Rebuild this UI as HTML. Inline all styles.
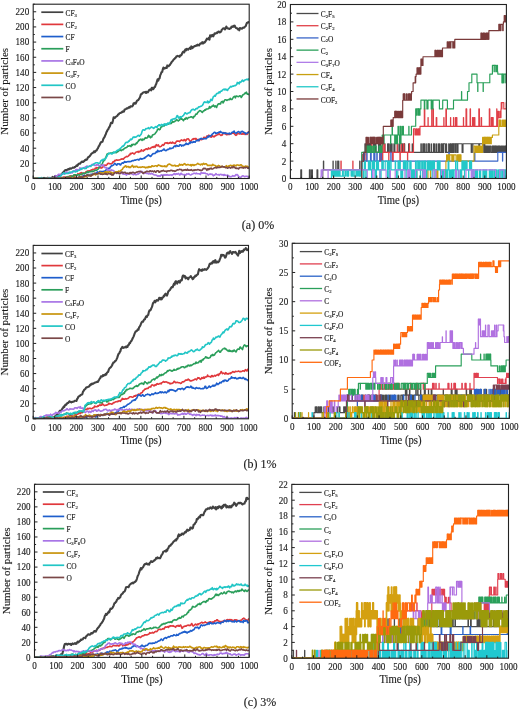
<!DOCTYPE html>
<html><head><meta charset="utf-8"><style>
html,body{margin:0;padding:0;background:#fff;width:520px;height:710px;overflow:hidden;}
svg{display:block;}
text{font-family:"Liberation Serif", "Times New Roman", serif;fill:#1a1a1a;stroke:#1a1a1a;stroke-width:0.14px;}
</style></head><body>
<svg width="520" height="710" viewBox="0 0 520 710">
<svg x="33.2" y="2.2" width="216" height="176.3" viewBox="33.2 2.2 216 176.3" overflow="hidden">
<path d="M33.2 178.5l.6-.2 .7 0 .6 .2 .7-.2 .6 0 .7 .1 .6-.2 .7 0 .6 0 .7 0 .6-.1 .7 .2 .6 0 .7 0 .6-.2 .7 0 .6 .1 .7 .1 .6-.1 .7-.1 .6 0 .7-.3 .6-.1 .7 .6 .6 .2 .6-.2 .7 .2 .6-.3 .7-.3 .6-1 .7 .9 .6 .1 .7-1 .6-.2 .7-.4 .6 .2 .7 .5 .6-.7 .7-.5 .6 .2 .7-.3 .6-.7 .7-.3 .6-.8 .7-.7 .6-.7 .7-.4 .6-.9 .7-.9 .6-.2 .6 .3 .7-.7 .6 .1 .7-.7 .6 .4 .7-.9 .6-.2 .7 .4 .6-.3 .7-.5 .6-.5 .7 .2 .6 .1 .7-.7 .6-.2 .7-.8 .6-.8 .7 .5 .6-.8 .7-1.2 .6-.1 .7 .1 .6-.9 .7-.5 .6-.8 .6 0 .7 .4 .6-.6 .7-.4 .6-1 .7-.5 .6 .4 .7-.3 .6-1.5 .7-1 .6-.2 .7-.6 .6-.9 .7-.8 .6-1 .7-.4 .6-.4 .7-.3 .6-1.2 .7 .9 .6-.9 .7-.8 .6-.1 .7-1.5 .6-.8 .6-1.6 .7-.9 .6-1.3 .7-1.5 .6-.8 .7-.1 .6-.1 .7-2.6 .6-1.1 .7-.9 .6-1.6 .7-1.3 .6-2 .7-1.2 .6-1.3 .7-.7 .6-1.7 .7-.6 .6-1.9 .7-2.2 .6 .1 .7 .3 .6-2.4 .7-3.3 .6 .2 .6 .3 .7-1.2 .6 0 .7-.5 .6-.5 .7-1.2 .6-.3 .7-.8 .6-.4 .7 0 .6-.6 .7-.1 .6-.9 .7 .2 .6 0 .7-2 .6-.2 .7-.3 .6-.7 .7 .1 .6-.3 .7-.7 .6-.5 .7 .6 .6-1.2 .6 0 .7 .1 .6-.3 .7-.8 .6-2.2 .7 .5 .6-.9 .7 .9 .6-1.2 .7-1.7 .6-.4 .7-.1 .6-1 .7-1.2 .6-1.1 .7-2.4 .6-.6 .7-.3 .6-.9 .7-.2 .6-.3 .7-.1 .6-.3 .7 1.1 .6-1.3 .6 .2 .7 .4 .6-1.1 .7-1.3 .6-.3 .7 0 .6 .8 .7-2.5 .6-.1 .7 1.4 .6-.6 .7-1.5 .6-.2 .7-2 .6-1.2 .7-2.5 .6-1.9 .7 1.3 .6-1.9 .7-.3 .6-3 .7-1.5 .6-1.7 .7-.3 .6-2.6 .6-1.8 .7 1.2 .6-.7 .7 .2 .6-.7 .7 .4 .6-2.5 .7 .9 .6-.1 .7-.8 .6-.5 .7-1.1 .6-.9 .7-1.3 .6-.3 .7-1.1 .6-.8 .7-.5 .6-.9 .7-.3 .6-1.4 .7 0 .6-.4 .7 .3 .6 0 .6 .6 .7-1.5 .6 .1 .7-.6 .6-1.6 .7-1.3 .6-.4 .7 1 .6-1.9 .7-1.3 .6 1 .7-1.5 .6 .3 .7 .6 .6-.9 .7-.4 .6-.7 .7 1.2 .6-2.5 .7 .6 .6 1.1 .7-1.4 .6 0 .7-.7 .6 .1 .6-.3 .7-.6 .6 .5 .7-1.1 .6 .3 .7 .5 .6-.9 .7-1.1 .6-.2 .7 .3 .6-1.4 .7 1.3 .6-.2 .7-1.2 .6 .3 .7-1.2 .6-.9 .7-1.6 .6 .6 .7-.1 .6-1.2 .7 1.8 .6-4.4 .7 .8 .6 .4 .6-1.4 .7-.2 .6 1.4 .7-1.6 .6-1.3 .7 .3 .6-.2 .7-1 .6 .6 .7-1.1 .6-.5 .7 .3 .6 .7 .7-.8 .6 0 .7-2 .6-.5 .7-.8 .6 .1 .7-.1 .6 .9 .7-1 .6-1.7 .7 1 .6 .8 .6 0 .7 .3 .6 .3 .7-.6 .6-.1 .7-1.7 .6 .3 .7-.2 .6-.8 .7 .8 .6-1.1 .7 1.4 .6 1 .7 .3 .6-.1 .7 1.3 .6-.6 .7 1.4 .6-2.2 .7 .2 .6 .3 .7 .2 .6-.6 .7-.7 .6 .2 .6-.2 .7-1 .6-.4 .7-1.9 .6-1.5 .7 0 .6-.6 .7 1.2" fill="none" stroke="#424242" stroke-width="2.1" stroke-linejoin="round"/>
<path d="M33.2 178.5l.6 0 .7-.1 .6-.3 .7 .4 .6 0 .7 0 .6-.1 .7 .1 .6 0 .7 0 .6-.2 .7 0 .6 .1 .7 .1 .6-.3 .7 0 .6 .3 .7-.3 .6-.1 .7-.1 .6 .1 .7-.1 .6 .2 .7-.1 .6 .1 .6-.2 .7-.2 .6 .3 .7 0 .6-.1 .7-.2 .6-.1 .7 .4 .6-.2 .7-.1 .6-.3 .7 .5 .6 0 .7-.3 .6 .5 .7 .3 .6-.4 .7-.6 .6 .4 .7-.3 .6 0 .7-.6 .6 .3 .7-.3 .6 .7 .6-.1 .7-.1 .6-.8 .7-.2 .6 .3 .7-.5 .6-.4 .7 .1 .6 0 .7 0 .6 .5 .7-.6 .6-.4 .7 .2 .6-.8 .7 .5 .6-.2 .7-.2 .6-1.3 .7 .8 .6-.6 .7-.7 .6-.1 .7-.6 .6 .6 .6 .9 .7-.9 .6 .2 .7-.3 .6 .1 .7-1 .6-.6 .7 .3 .6-.7 .7-.1 .6-.1 .7-.1 .6-.1 .7-.5 .6-.3 .7 .1 .6-.7 .7 .3 .6-.3 .7-.4 .6-.8 .7 .4 .6-.9 .7 .1 .6 .2 .6 .3 .7-.6 .6-.1 .7 .4 .6 .2 .7-.3 .6-.2 .7-1.1 .6-.9 .7-.4 .6-.1 .7 .3 .6-.2 .7-.7 .6-1.1 .7-.2 .6 .4 .7 0 .6 .2 .7 .1 .6-.3 .7-.5 .6-1.2 .7 0 .6-.7 .6-.8 .7 .3 .6-.7 .7-.1 .6 .4 .7-.2 .6-.1 .7-.1 .6-.1 .7-.4 .6-.5 .7 .3 .6-.4 .7 .4 .6-.8 .7-.7 .6-.4 .7-.4 .6-.5 .7 .3 .6-.2 .7-.6 .6-.8 .7-.2 .6-1.5 .6 .5 .7-.5 .6-.5 .7 .3 .6 .5 .7 .3 .6-.6 .7-1 .6-.3 .7-.2 .6 0 .7-.6 .6 1 .7-.8 .6-.5 .7 .5 .6-1.7 .7 .8 .6 .3 .7 .2 .6-1.3 .7 .3 .6-.8 .7-.5 .6-.1 .6 .7 .7-.1 .6-1.4 .7 .8 .6 .1 .7-.3 .6-.9 .7-.2 .6-.5 .7 .6 .6-.8 .7-.4 .6 1 .7-1.3 .6-1.3 .7 .9 .6 .1 .7-.9 .6 1.1 .7 .9 .6 0 .7-.4 .6-.4 .7-.9 .6-.4 .6 .6 .7-.7 .6-1.3 .7-.4 .6-.2 .7 .4 .6-.4 .7 .9 .6-.5 .7 .1 .6-.7 .7-.1 .6 .8 .7-.3 .6-.8 .7 .8 .6 .1 .7 .1 .6 .5 .7-1.2 .6-1 .7-.4 .6 .1 .7 .2 .6-.2 .6 .5 .7-.8 .6-.6 .7-.3 .6 .6 .7 0 .6 .1 .7-1.1 .6 .2 .7 1.3 .6-.6 .7-1.3 .6-.1 .7-.2 .6 .3 .7 1.4 .6 .7 .7 0 .6-.7 .7-.7 .6-.7 .7 .2 .6-.8 .7 .3 .6 .4 .6-.8 .7 .6 .6 1.4 .7-.2 .6-.9 .7 1.4 .6-.9 .7-.6 .6 .3 .7 .2 .6-.6 .7-.3 .6-1.3 .7-.3 .6 .9 .7 .1 .6-.9 .7-1.3 .6 .1 .7 .1 .6-1 .7 .6 .6 .4 .7 .9 .6 0 .6-1.7 .7 1.1 .6-.2 .7 .6 .6-.5 .7-.8 .6 .1 .7-.5 .6-.4 .7-.1 .6-.9 .7 .1 .6 .6 .7 .6 .6 .4 .7-.7 .6 .1 .7-1.8 .6-.6 .7 .8 .6 .6 .7-.9 .6 1.6 .7 .1 .6-.8 .6 .6 .7 0 .6 0 .7-.7 .6-.1 .7-.2 .6-.3 .7 .1 .6-.6 .7 .8 .6 .8 .7 .7 .6 .4 .7-.5 .6-1.3 .7-.3 .6 .3 .7 .4 .6-.1 .7-.1 .6 0 .7 .5 .6-.3 .7-1.2 .6 1.3 .6-.5 .7 .9 .6-.9 .7 0 .6 .8 .7-.9 .6-1.6 .7 0" fill="none" stroke="#e0383c" stroke-width="1.6" stroke-linejoin="round"/>
<path d="M33.2 178.5l.6 0 .7 0 .6 0 .7 0 .6 0 .7 0 .6-.1 .7 .1 .6-.2 .7 .2 .6-.2 .7 .2 .6-.2 .7 .2 .6-.3 .7 0 .6-.3 .7 .3 .6 .1 .7-.2 .6 .4 .7 0 .6-.2 .7-.1 .6-.2 .6 .1 .7-.1 .6 .2 .7 .3 .6 0 .7 0 .6 0 .7 0 .6 0 .7 0 .6 0 .7-.1 .6 0 .7 0 .6 .1 .7-.5 .6 .2 .7-.4 .6-.2 .7 .1 .6 .2 .7 0 .6 .2 .7-.1 .6 0 .6-.2 .7-.1 .6-.3 .7 0 .6-.3 .7 .7 .6 .4 .7 .1 .6 .2 .7-.7 .6-.4 .7-.4 .6 .3 .7 .1 .6 .4 .7 .5 .6-.5 .7-.3 .6 .3 .7-.6 .6 .7 .7-.4 .6-.1 .7-.2 .6 .1 .6-1 .7-.4 .6-.6 .7 0 .6 .6 .7-.1 .6 .3 .7-.7 .6-.8 .7-.2 .6 .3 .7 0 .6-.3 .7 .5 .6-.5 .7-.4 .6 .1 .7-.1 .6-.4 .7 .1 .6 .1 .7-.8 .6-.3 .7-.9 .6 .6 .6 .6 .7-1 .6-.7 .7 .2 .6 .5 .7-.6 .6 .4 .7-.5 .6 .4 .7-.7 .6 .3 .7-.8 .6-1.4 .7-.1 .6-.8 .7 0 .6 0 .7 .1 .6-1.3 .7-.5 .6-1.2 .7 .4 .6-.3 .7-.5 .6-.8 .6-.8 .7 .7 .6 .6 .7 .6 .6-1.3 .7 0 .6 .1 .7-.2 .6 1 .7 .2 .6-1.3 .7-.6 .6-.3 .7 .4 .6-.7 .7-1 .6 .8 .7-.2 .6 .1 .7-.5 .6-.1 .7-.1 .6 .3 .7-.3 .6 .1 .6-.2 .7-.3 .6-.5 .7 .2 .6 0 .7-.8 .6 .2 .7 0 .6-.5 .7-.1 .6-.1 .7-.1 .6 .7 .7-.6 .6-.9 .7-.2 .6 .8 .7-.5 .6 .2 .7-.4 .6-.5 .7 .3 .6-1.2 .7-.1 .6-.6 .6-.4 .7-.7 .6-.5 .7 1.1 .6-.3 .7 .9 .6-.4 .7-1 .6-.8 .7-.8 .6 .3 .7-.2 .6-.2 .7-.8 .6-.8 .7 .5 .6-2 .7 .7 .6 .6 .7-.4 .6-.3 .7-.2 .6 .4 .7-.9 .6 .1 .6-.8 .7-.5 .6 1.1 .7 .4 .6 .2 .7-.6 .6-.4 .7-.4 .6 .2 .7-.6 .6-.9 .7 .8 .6-.2 .7-.4 .6-.2 .7-.1 .6-1.2 .7-.6 .6-.2 .7 .8 .6-1.4 .7 .2 .6 .6 .7 .1 .6 .1 .6-1.5 .7 .1 .6 0 .7 1.3 .6-1 .7 .3 .6 .2 .7-1 .6 .2 .7-.9 .6-.8 .7 1.1 .6-.4 .7 .6 .6-.7 .7-1 .6 .7 .7-1.6 .6 .2 .7 .6 .6-.3 .7-.9 .6 .7 .7-.4 .6 .4 .6-1.3 .7-.2 .6 .1 .7-.9 .6 .8 .7-.2 .6-1.5 .7 .2 .6-.8 .7 .1 .6 .5 .7 0 .6-.3 .7-.1 .6 .1 .7-.1 .6 .2 .7-.9 .6-.9 .7-.9 .6 1 .7-1.2 .6-.3 .7 .5 .6-.7 .6-1 .7-.6 .6-.5 .7-.6 .6-.5 .7 .2 .6 1.2 .7-.2 .6-.7 .7 .2 .6-.5 .7-.4 .6 .3 .7-.9 .6 1.2 .7-.4 .6 .6 .7 .6 .6-.5 .7 .4 .6-.6 .7 .8 .6-.2 .7 .3 .6-.1 .6 0 .7 .4 .6-.8 .7 .7 .6 .2 .7-1 .6-.7 .7-.2 .6 0 .7-1.1 .6 1.4 .7 .6 .6 .5 .7-.9 .6-.2 .7-.6 .6-.3 .7 .6 .6 .7 .7 .5 .6-1.7 .7-.2 .6 0 .7 .6 .6 .3 .6 .3 .7 .1 .6 1.3 .7-.6 .6-.2 .7-.5 .6-.3 .7-.6" fill="none" stroke="#1e5ecc" stroke-width="1.6" stroke-linejoin="round"/>
<path d="M33.2 178.5l.6-.2 .7 .2 .6 0 .7-.1 .6 .1 .7 0 .6-.1 .7 .1 .6-.1 .7 .1 .6 0 .7 0 .6 0 .7 0 .6 0 .7 0 .6 0 .7-.5 .6 .2 .7 0 .6 0 .7 .1 .6 .1 .7-.1 .6-.2 .6-.1 .7-.1 .6 .3 .7 .1 .6-.4 .7 .2 .6-.1 .7-.1 .6-.1 .7 .4 .6 .1 .7 0 .6 0 .7 .2 .6 0 .7 0 .6-.2 .7-.1 .6-.5 .7 .4 .6-.7 .7 .4 .6 .3 .7 0 .6 0 .6-.6 .7-.7 .6 1 .7-.3 .6-.8 .7-.2 .6-.3 .7 .7 .6-.8 .7 .7 .6-.5 .7-.8 .6-.8 .7 .1 .6-.1 .7 .5 .6 .3 .7-.8 .6 0 .7 0 .6 .6 .7-.5 .6-.6 .7 .2 .6 0 .6-1.1 .7-.1 .6 .1 .7 .4 .6-.1 .7-.3 .6-1 .7 .3 .6-1.1 .7 .6 .6 0 .7-.6 .6 0 .7 .3 .6-.3 .7-.5 .6 .7 .7-.4 .6-.4 .7-.1 .6-.8 .7 .2 .6-.1 .7-.3 .6-.6 .6-.7 .7-1.6 .6-.1 .7-1.5 .6-.1 .7-.8 .6-1.1 .7-1.8 .6-.9 .7-.2 .6-1.7 .7-1.3 .6-1.2 .7-2.1 .6-.1 .7-.6 .6 .4 .7-.4 .6-.3 .7-.1 .6 0 .7 .4 .6-.8 .7 0 .6-.3 .6 .2 .7-.1 .6 .4 .7-.4 .6-.6 .7-.2 .6-.8 .7-.2 .6-.9 .7 .2 .6 .8 .7-.8 .6-.3 .7 .2 .6-.9 .7-.5 .6-.5 .7-.1 .6-.4 .7-.4 .6-1.2 .7 .5 .6-.2 .7-.5 .6 .7 .6 .3 .7-2.1 .6 .8 .7-1 .6 .1 .7-.1 .6 .5 .7-.5 .6-1.3 .7 .3 .6-1.2 .7-.6 .6-1.5 .7 .4 .6-.9 .7-.4 .6 .4 .7 .9 .6-1.4 .7 .7 .6-.1 .7-1.1 .6-.8 .7 .5 .6-.2 .6-.1 .7-1.1 .6-1.5 .7 1.6 .6-.8 .7 1.7 .6-.8 .7 0 .6-1.9 .7-.4 .6 0 .7-.5 .6-.4 .7-1 .6-.7 .7-1.2 .6-1.5 .7-.6 .6 .6 .7 .3 .6-.6 .7-1.8 .6-.4 .7-.3 .6-1 .6 .3 .7 .1 .6-1 .7-.2 .6-.1 .7-.6 .6 .1 .7 .1 .6-.2 .7-.8 .6-.3 .7 .6 .6-.2 .7-.9 .6-1.4 .7 1.1 .6-.5 .7 .1 .6-.7 .7-.3 .6-.9 .7 0 .6 .7 .7 .3 .6-.6 .6-.3 .7-1.6 .6-.6 .7 1.5 .6-.2 .7 .9 .6 .6 .7-1.2 .6-.7 .7 .5 .6-1.5 .7 .7 .6 .5 .7-1 .6-.4 .7 0 .6-.2 .7-.4 .6 0 .7-.1 .6 1 .7 .1 .6-1.5 .7 0 .6-1.1 .6-1.2 .7 .2 .6-.4 .7-1.6 .6-.2 .7-1 .6-.5 .7 .1 .6 .5 .7 .7 .6 .5 .7-.9 .6-.7 .7-.1 .6-.9 .7 .3 .6-1.1 .7 0 .6-.1 .7-.2 .6-.2 .7-2 .6 1.5 .7-.4 .6-1.1 .6-.5 .7 .4 .6-1.4 .7 1.1 .6 .7 .7-1 .6 .7 .7 1 .6-1.9 .7-1.1 .6-.8 .7 .3 .6-.5 .7 .5 .6-1.8 .7-.5 .6-.4 .7 1.6 .6-1.1 .7-1.3 .6-.7 .7-.1 .6 .4 .7 .3 .6-.5 .6-.3 .7-.1 .6 .2 .7-1.4 .6 1.2 .7-.3 .6 .2 .7-1.2 .6-1.1 .7-.6 .6-.1 .7 1.5 .6-1.8 .7 0 .6 .3 .7 .1 .6 .1 .7-.5 .6-.4 .7 .2 .6 1.6 .7-1 .6-1.1 .7-.8 .6-.1 .6-.7 .7-.9 .6 .5 .7-1.3 .6 1.7 .7 .4 .6-.2 .7 1" fill="none" stroke="#2a9e5a" stroke-width="1.6" stroke-linejoin="round"/>
<path d="M33.2 178.5l.6-.2 .7-.2 .6 .1 .7-.2 .6 .1 .7 .2 .6 0 .7 .1 .6-.2 .7 .3 .6-.2 .7 .1 .6-.2 .7 .3 .6 0 .7-.1 .6-.2 .7 .2 .6-.4 .7 0 .6 .2 .7-.2 .6 0 .7-.1 .6-.3 .6 0 .7 .3 .6 .2 .7-.1 .6 0 .7 0 .6-.2 .7-.8 .6-1.4 .7 1.3 .6-.9 .7-.2 .6-.7 .7-.7 .6-.1 .7 .3 .6 .3 .7 .4 .6-1.3 .7-.1 .6 0 .7-.1 .6 .3 .7-.6 .6-.9 .6-.6 .7 1 .6-.9 .7 .4 .6 .7 .7 .1 .6-.1 .7-.6 .6 .1 .7 .2 .6-.5 .7-1.5 .6 .4 .7-.4 .6-.1 .7-1.5 .6 1.2 .7-.8 .6 .5 .7-.1 .6-.4 .7-1.9 .6 .6 .7 .9 .6-1.2 .6 .3 .7-.3 .6-.3 .7-.4 .6-.2 .7-.4 .6-.4 .7-.4 .6 .3 .7 .2 .6 .3 .7-.7 .6-.2 .7-.5 .6-.3 .7-.8 .6 .2 .7-.2 .6 .8 .7 .3 .6-.2 .7 .3 .6-.9 .7 .4 .6-.5 .6 1.2 .7 .1 .6-.3 .7-.2 .6 .7 .7-.5 .6-.7 .7 .1 .6 1.1 .7 .8 .6 1 .7 0 .6-.2 .7 1.1 .6 1.5 .7-.2 .6-.3 .7 1.6 .6-.3 .7-1.1 .6 .1 .7 .2 .6 .3 .7 0 .6 1 .6 .7 .7-.2 .6 .5 .7-.2 .6 1 .7-.7 .6-.4 .7 .2 .6 .1 .7-.6 .6 1 .7 .5 .6 .5 .7 0 .6 .3 .7-.3 .6 .2 .7 .5 .6 .5 .7-1.1 .6 .1 .7 .1 .6-.2 .7 0 .6-.5 .6-.1 .7 .4 .6 .3 .7 .4 .6 .2 .7-1.1 .6 .4 .7 .8 .6-.1 .7-.2 .6-.6 .7 .2 .6-.5 .7-.3 .6-.6 .7-.7 .6-.7 .7 .3 .6 1.4 .7 .5 .6 0 .7-.8 .6 .2 .7-.1 .6 .6 .6 0 .7 0 .6 .6 .7-.2 .6-.3 .7 .5 .6-.3 .7-.4 .6 .5 .7 .4 .6 .4 .7 .4 .6-.1 .7 .2 .6 .2 .7 .3 .6 .5 .7 .1 .6-.5 .7 .4 .6 .1 .7-1.1 .6-.3 .7 .5 .6-.3 .6 .5 .7-.9 .6 .5 .7 0 .6-.6 .7 .6 .6-.6 .7 .6 .6-.1 .7 .1 .6 0 .7-.2 .6 0 .7 .5 .6-.7 .7-.3 .6-.5 .7-.3 .6 1.1 .7-.7 .6-.3 .7 .6 .6-.4 .7-.5 .6 .7 .6 .8 .7-.1 .6-1.5 .7 .3 .6 .9 .7 0 .6 .3 .7 0 .6-.3 .7 1 .6-.7 .7-1 .6 .2 .7 .2 .6-.6 .7 .7 .6 .4 .7 .3 .6-.4 .7-.5 .6-.1 .7-.4 .6-.4 .7 0 .6 .5 .6 .1 .7-.7 .6 .6 .7 0 .6 .1 .7-.1 .6 .4 .7 .3 .6-1.7 .7-.2 .6 .6 .7 .1 .6-.3 .7 .3 .6-.2 .7 .5 .6 .2 .7 0 .6 .3 .7 1.1 .6-.5 .7-.4 .6-.3 .7 .5 .6-.2 .6-.1 .7 .9 .6 .8 .7-.8 .6 .3 .7-.8 .6-.9 .7 .7 .6 .5 .7 0 .6-.2 .7 .7 .6-.7 .7-.2 .6 0 .7 .6 .6-.3 .7-.1 .6 .9 .7-1 .6 .6 .7 0 .6 .4 .7-.1 .6-.4 .6 .6 .7 .8 .6-.1 .7 .4 .6 0 .7-.3 .6-.2 .7-.7 .6 .6 .7-.2 .6 .2 .7-.7 .6-.9 .7 .5 .6-.4 .7 .9 .6 1 .7 .4 .6 .5 .7-.1 .6-.3 .7-.8 .6-.3 .7-.1 .6 .4 .6 .4 .7-.1 .6-.1 .7-.1 .6-.1 .7 .2 .6 .9 .7 .2" fill="none" stroke="#a875e6" stroke-width="1.6" stroke-linejoin="round"/>
<path d="M33.2 178.5l.6-.3 .7 .2 .6-.1 .7-.2 .6 0 .7 .2 .6 .1 .7 .1 .6 0 .7-.3 .6 0 .7-.1 .6 0 .7-.3 .6 .3 .7 .1 .6-.1 .7-.2 .6 .6 .7 0 .6-.1 .7 .1 .6-.2 .7-.1 .6 .1 .6 .2 .7 0 .6 0 .7-.1 .6 .1 .7 0 .6 0 .7 0 .6-.4 .7-.5 .6 .3 .7-.1 .6-.2 .7-.1 .6 .3 .7 .3 .6 .1 .7 .2 .6-.2 .7-.2 .6 .3 .7-.1 .6-.2 .7-.2 .6-.2 .6-.1 .7 .3 .6 .1 .7-.5 .6 .4 .7 .1 .6-.8 .7 .3 .6 .8 .7 0 .6-.5 .7 .1 .6-.5 .7-.4 .6 .6 .7 .3 .6 0 .7 .4 .6-.5 .7-.2 .6-.5 .7 .2 .6 .3 .7-1.2 .6 .5 .6 .2 .7 .1 .6-.2 .7 .1 .6-.4 .7 .1 .6-.2 .7-.5 .6-.5 .7-.3 .6 .4 .7-.4 .6 0 .7 0 .6 .6 .7-.7 .6-.2 .7-.9 .6-.2 .7 .7 .6 .5 .7-.9 .6 .3 .7-.5 .6 .1 .6-1.1 .7 .3 .6-.5 .7-.3 .6 .7 .7 .3 .6-.7 .7 .2 .6 .6 .7-.7 .6-1.1 .7 .6 .6-.4 .7 .5 .6-.5 .7 .5 .6-.5 .7 0 .6 .3 .7 0 .6 .3 .7 .5 .6 .2 .7-.4 .6 .2 .6-.6 .7-.4 .6-.3 .7 .3 .6-.1 .7-.1 .6-.7 .7 .5 .6-.3 .7-.6 .6-.7 .7-.4 .6-.6 .7-1.4 .6-.3 .7-.6 .6-.8 .7-.2 .6 1.4 .7-.4 .6-.1 .7-.1 .6 1 .7-.5 .6 .5 .6-.8 .7-.4 .6-1 .7 .9 .6 1.1 .7-.6 .6-.3 .7 .5 .6-.6 .7-.1 .6 1 .7 .1 .6 .1 .7-.1 .6-.2 .7 .3 .6-.1 .7-.4 .6 0 .7 .1 .6 .1 .7-.1 .6 .8 .7-.5 .6 .3 .6-.5 .7 .6 .6-.9 .7-.2 .6 .6 .7-.4 .6 .2 .7-1.1 .6-.1 .7 .6 .6-.1 .7 0 .6-.6 .7 0 .6 0 .7 .7 .6-.5 .7-1 .6 .2 .7 .4 .6 .1 .7 .6 .6-.2 .7 .5 .6-.3 .6 .1 .7 .2 .6-.6 .7 .7 .6-.3 .7 .4 .6-1.3 .7-.9 .6 0 .7-.5 .6 .3 .7 .2 .6 .6 .7 .6 .6-.2 .7 .2 .6 .1 .7-.6 .6 .1 .7 .8 .6-.2 .7 .1 .6-.2 .7 .3 .6-1 .6-1 .7 1 .6-.4 .7-.2 .6 .7 .7-.1 .6-.8 .7-.2 .6-.5 .7 1.1 .6 .4 .7-.3 .6-.2 .7 0 .6 .2 .7 .2 .6 .1 .7-.4 .6 1.3 .7-1.4 .6 .2 .7 .6 .6-.7 .7 .6 .6-.6 .6 .1 .7-.5 .6-.4 .7-.5 .6 .6 .7 .2 .6 0 .7 .7 .6-.6 .7-.2 .6 .7 .7-.9 .6-.6 .7 1.1 .6-.3 .7-.4 .6 0 .7 .9 .6 .8 .7-.1 .6 .2 .7-.1 .6 0 .7-.2 .6 .4 .6 .1 .7-1.4 .6 .7 .7 .1 .6 .3 .7 .2 .6 .8 .7-.2 .6 .2 .7-.3 .6-.7 .7 .5 .6 .1 .7 1 .6 0 .7-.8 .6 .3 .7 .4 .6-.2 .7 .1 .6 0 .7 0 .6-1.2 .7 .7 .6 .2 .6 .1 .7-.8 .6 .2 .7-.7 .6 .1 .7 .1 .6 .8 .7-.9 .6-.2 .7-.1 .6 .1 .7 .2 .6 .6 .7-.9 .6-.2 .7 .2 .6 .3 .7-.1 .6 .1 .7-.7 .6 0 .7 .8 .6 .7 .7 .1 .6 .4 .6-.2 .7-.2 .6-.2 .7 .1 .6 .3 .7-.1 .6 .7 .7 .1" fill="none" stroke="#c8940c" stroke-width="1.6" stroke-linejoin="round"/>
<path d="M33.2 178.5l.6-.1 .7 .1 .6 0 .7 0 .6-.1 .7 .1 .6 0 .7-.3 .6-.2 .7-.1 .6 .3 .7-.1 .6-.5 .7 .3 .6 .1 .7 .2 .6 0 .7 0 .6-.3 .7 .3 .6 .3 .7-.1 .6-.1 .7-.3 .6-.1 .6 .2 .7-.1 .6-.1 .7 0 .6 .2 .7-.1 .6 .1 .7 .3 .6-.5 .7 .2 .6-.3 .7-.3 .6-.3 .7-.3 .6 .3 .7-.9 .6-.4 .7-.4 .6-.8 .7-.6 .6-.6 .7-.7 .6 .2 .7 .9 .6-.3 .6-.2 .7-.2 .6 .2 .7 .1 .6-.8 .7-.6 .6 .5 .7-.5 .6-.1 .7 0 .6-.6 .7-.1 .6 .2 .7-.3 .6 .7 .7-.3 .6-.3 .7 .2 .6-.8 .7-.5 .6 0 .7-.3 .6-.6 .7-.7 .6 .5 .6-.4 .7-.6 .6 0 .7 .4 .6 .1 .7-.2 .6 .1 .7-1.6 .6 .2 .7-.4 .6-.3 .7-.4 .6 .1 .7 .4 .6-1.3 .7-.1 .6-.2 .7-.3 .6-.8 .7-.3 .6-.6 .7-.2 .6 .1 .7-.1 .6 .3 .6 .7 .7-.5 .6 0 .7-2 .6-.8 .7-.3 .6 .5 .7-1.4 .6 .6 .7-.2 .6-.6 .7-.6 .6-1.3 .7-1.1 .6-1.5 .7-.6 .6-.6 .7 0 .6 .1 .7 .2 .6 .4 .7-.2 .6-.6 .7-1.1 .6 .5 .6 0 .7-1 .6 0 .7-1 .6-.3 .7-.2 .6-.1 .7-.9 .6-.4 .7-.5 .6-.5 .7-1 .6-.7 .7 .4 .6-.9 .7-1 .6-1.2 .7-.8 .6-.3 .7 .3 .6-.1 .7-1.3 .6 .1 .7-1.1 .6-1 .6 .7 .7-.7 .6-.2 .7-1.6 .6-.3 .7 .4 .6-.5 .7 .4 .6-.4 .7-.6 .6-.4 .7-.6 .6 .3 .7 .6 .6-.9 .7-.6 .6-.9 .7-2.5 .6-1.3 .7-.3 .6 .4 .7 .2 .6-.8 .7-1 .6 .2 .6-.2 .7-.3 .6-.7 .7 1.3 .6-.5 .7-.5 .6-.7 .7-.2 .6 .8 .7 .1 .6 .6 .7-.8 .6-.5 .7-.6 .6 .6 .7 .4 .6-1.6 .7-.1 .6-1.1 .7 .1 .6 1.2 .7-.8 .6-.8 .7 .3 .6 1.1 .6-1.2 .7-.3 .6-.5 .7 1.4 .6-1.3 .7 1.2 .6-.6 .7-1.6 .6 .6 .7 .3 .6-.8 .7-2 .6-1.4 .7 .6 .6-.9 .7-.3 .6-.1 .7-.3 .6 .4 .7-.8 .6-.9 .7-1.7 .6 .1 .7 2.1 .6 .4 .6-1 .7-.5 .6 .9 .7-.8 .6-.4 .7-.6 .6-.5 .7-1.1 .6-1.2 .7-.3 .6 .9 .7 .3 .6-.2 .7-.6 .6-.2 .7-.4 .6 .1 .7-1.4 .6-.9 .7-.8 .6 .2 .7-.5 .6 .6 .7 .3 .6-.3 .6-1.1 .7-.3 .6 .4 .7-.8 .6-.8 .7-.5 .6 .2 .7-.5 .6-.1 .7-.3 .6-.5 .7-1 .6-1.5 .7-1 .6-.1 .7 .5 .6 .1 .7-.2 .6-1.3 .7 1.9 .6-1.3 .7 .7 .6-1.2 .7-1.8 .6 .3 .6 1 .7-2.1 .6-1.7 .7-.4 .6-1 .7 .7 .6-1.2 .7-1.3 .6-.1 .7 0 .6-1 .7-.6 .6 .9 .7-1.3 .6-.4 .7 0 .6-1 .7-.5 .6-.4 .7 .6 .6-.8 .7 .8 .6-.4 .7 .8 .6 .3 .6-1.5 .7-.6 .6-.6 .7-.9 .6-.5 .7 .6 .6-.6 .7-.3 .6 .1 .7-.4 .6-.2 .7 0 .6-.4 .7-.8 .6-2 .7 .9 .6-.6 .7 1.1 .6-1.9 .7 .3 .6-.3 .7-1.3 .6-.6 .7 1.5 .6-.9 .6 0 .7-.8 .6 0 .7-.5 .6 .1 .7 .3 .6-.8 .7 1.6" fill="none" stroke="#22c6c6" stroke-width="1.6" stroke-linejoin="round"/>
<path d="M33.2 178.5l.6 0 .7 0 .6 0 .7 0 .6 0 .7 0 .6 0 .7 0 .6 0 .7 0 .6 0 .7 0 .6-.3 .7 0 .6 0 .7 .1 .6 .1 .7 .1 .6-.4 .7 .4 .6-.2 .7 0 .6 0 .7 .2 .6 0 .6-.2 .7 .1 .6-.3 .7-.1 .6 0 .7-.1 .6 .3 .7 .1 .6-.2 .7 .2 .6-.4 .7 .2 .6 0 .7 .2 .6-.2 .7 .1 .6 0 .7 .1 .6-.3 .7 .3 .6-.2 .7-.1 .6-.1 .7 .2 .6-.3 .6-.1 .7 0 .6 0 .7 0 .6-.2 .7 .5 .6-.3 .7-.1 .6 .7 .7 .2 .6 0 .7-.1 .6-.8 .7 0 .6 .3 .7 .6 .6-.3 .7-.1 .6 .2 .7-.5 .6-.8 .7-.1 .6 .4 .7-.5 .6 .4 .6 .3 .7-.8 .6 0 .7-.9 .6-.1 .7 .3 .6-.3 .7-.8 .6 .2 .7 .6 .6 0 .7 .1 .6 .2 .7 .1 .6-.7 .7-.8 .6 .1 .7-.5 .6-.3 .7-.7 .6 .5 .7 .3 .6-.2 .7 0 .6-.1 .6-.6 .7 .5 .6 0 .7 .6 .6-.1 .7 .2 .6 .1 .7-.1 .6 0 .7-.4 .6-.5 .7 .8 .6-.7 .7 1.1 .6-.5 .7-.6 .6 .3 .7 0 .6 .3 .7-.7 .6 1.5 .7-.1 .6 .3 .7-.8 .6-1 .6-.5 .7-.1 .6 .1 .7 .5 .6-.6 .7-.1 .6 .7 .7 .5 .6 0 .7-.8 .6-.5 .7-.6 .6 .9 .7 .2 .6-.6 .7 .1 .6-.2 .7 .9 .6 0 .7-.1 .6 .1 .7 0 .6 .6 .7-1.2 .6 0 .6 .8 .7-.8 .6 0 .7-.3 .6 .2 .7 .4 .6 .2 .7-.4 .6-.4 .7-.2 .6-.1 .7-.4 .6 .2 .7-.3 .6-.2 .7 .3 .6 .3 .7 .4 .6 .5 .7 .5 .6-1 .7-.1 .6 .3 .7-.9 .6-.3 .6 .3 .7-.3 .6 .4 .7 0 .6-.8 .7-.1 .6 .6 .7-.1 .6-.3 .7 .4 .6 .4 .7-.9 .6 .5 .7 .8 .6-.3 .7-1.2 .6 .1 .7-.1 .6 1.4 .7 .1 .6-.9 .7 .3 .6-.7 .7 0 .6 0 .6-.6 .7 .6 .6 .4 .7-.1 .6-.1 .7 .8 .6-.9 .7-.1 .6 .1 .7-.3 .6 .3 .7-.6 .6 .1 .7-.2 .6 .6 .7 .1 .6-.3 .7 .4 .6 .1 .7-.2 .6-.7 .7-.3 .6-.3 .7 .2 .6-.3 .6-.4 .7 .3 .6 .1 .7 0 .6 1.2 .7-.2 .6-.4 .7-.4 .6 .3 .7-.5 .6 .5 .7 0 .6-.9 .7 1 .6-.1 .7 0 .6-.1 .7 .2 .6-.5 .7 .6 .6 .4 .7-.6 .6 .4 .7-.5 .6-.2 .6 .3 .7-.1 .6-.1 .7-.4 .6 .3 .7 0 .6 .5 .7-.2 .6 .6 .7-.5 .6-.1 .7-1.3 .6-.5 .7 .4 .6-.3 .7 .1 .6 .7 .7 1.1 .6-1.2 .7-.3 .6 .9 .7-.8 .6-.6 .7 .4 .6-.5 .6 .9 .7-.2 .6-.3 .7-.6 .6-.2 .7 0 .6-.2 .7 .4 .6-.8 .7 .4 .6-.4 .7 .2 .6 .1 .7-.3 .6-.2 .7-.5 .6-.2 .7 .6 .6-.2 .7 .1 .6 .5 .7 .5 .6-.4 .7 .2 .6 .6 .6-.3 .7-.4 .6-.1 .7 .6 .6 .1 .7-1 .6 .5 .7 .2 .6-1.3 .7 .3 .6 .5 .7 1.1 .6-.4 .7 .5 .6-.3 .7 .2 .6 .6 .7-1.3 .6 .1 .7-.4 .6-.2 .7 .6 .6 0 .7 .3 .6-.5 .6-.1 .7 .4 .6-.7 .7 .1 .6 .1 .7 .7 .6-.2 .7 .9" fill="none" stroke="#7a4848" stroke-width="1.6" stroke-linejoin="round"/>
</svg>
<svg x="33.2" y="243.4" width="215.3" height="175.4" viewBox="33.2 243.4 215.3 175.4" overflow="hidden">
<path d="M33.2 418.8l.6 0 .7 0 .6 0 .7-.2 .6-.3 .7 .2 .6-.2 .7 0 .6 .1 .7-.2 .6 .1 .7 0 .6 .1 .6-.2 .7 0 .6-.3 .7 .3 .6-.2 .7 .4 .6-.6 .7-.1 .6-.1 .7-.2 .6 .6 .6-.5 .7-.9 .6 1.1 .7 .7 .6 .3 .7-.9 .6-.3 .7-.6 .6-.2 .7-.3 .6-.7 .7-.5 .6-1.1 .6 0 .7-.6 .6-1 .7-1.6 .6-.1 .7-.1 .6-.6 .7-1.5 .6-.5 .7-1.4 .6 .5 .6-1.5 .7-1.2 .6 .3 .7-1 .6-.8 .7-.1 .6-.5 .7-1.1 .6 .3 .7 .4 .6 .4 .7-.6 .6 .1 .6-.1 .7-.2 .6-.8 .7 0 .6 0 .7 .2 .6-2 .7-.8 .6-1.6 .7-.3 .6-.1 .7-1 .6-.5 .6 .1 .7-.6 .6-2.3 .7-1 .6-1 .7-.6 .6-.5 .7-1.4 .6-.2 .7 .1 .6-.5 .6 0 .7-.7 .6-1.2 .7 .2 .6-1.3 .7 .3 .6-.5 .7 .2 .6-.5 .7-.6 .6-.2 .7-.1 .6-.3 .6-.3 .7 .1 .6-1 .7-1.1 .6-1.2 .7-.7 .6-1.7 .7 0 .6 .3 .7-1.4 .6 .7 .6-1 .7 .4 .6-1 .7 .5 .6-1.8 .7-.7 .6-.3 .7-2.3 .6-1.2 .7-.7 .6-.3 .7-1 .6-.9 .6-1.5 .7-1.4 .6-.2 .7-.7 .6-.7 .7-.4 .6-1.2 .7-1.5 .6-2 .7-2 .6-.3 .7-1.6 .6-.7 .6-2.6 .7-.6 .6-1.2 .7 .7 .6 .3 .7-.6 .6 0 .7-.6 .6 .8 .7-1.1 .6 .4 .6-1.8 .7 0 .6-1.9 .7 .1 .6-1.7 .7-.6 .6-1.1 .7-1.5 .6-1.2 .7-1.6 .6-1.9 .7-1.5 .6-.9 .6 0 .7-.7 .6-1.2 .7 .4 .6-2.4 .7-1 .6-.9 .7-1.9 .6-1.2 .7-.7 .6 .2 .6-1.3 .7-1.2 .6 0 .7-1.9 .6-1.1 .7 .7 .6-1.7 .7-.4 .6-2.7 .7-1.8 .6 0 .7-.7 .6-1.6 .6-1.2 .7-2.7 .6-1.5 .7-.4 .6-1.5 .7 1.5 .6-1 .7-1.2 .6 .1 .7 .4 .6-.9 .7-1.9 .6 .3 .6 1.3 .7-1.6 .6 1.5 .7-1.5 .6-.2 .7-1.7 .6 .3 .7-2 .6-.5 .7 1.2 .6 .7 .6-1.3 .7-2.6 .6-.8 .7-.7 .6-.4 .7-1.5 .6-.8 .7-.7 .6 .4 .7-2 .6-1.6 .7 1.1 .6-2.9 .6-.6 .7 .8 .6 1.7 .7-1.6 .6-1 .7 .4 .6 1.1 .7-2.2 .6 .1 .7-.1 .6-3.4 .6-1.5 .7 0 .6 1.2 .7-.5 .6 2.3 .7-1 .6 .3 .7 .8 .6 .7 .7-1.5 .6-.5 .7-.4 .6-.9 .6 1.1 .7 1 .6 1.1 .7-.7 .6-1.4 .7 0 .6-1.4 .7 .3 .6-.8 .7-.6 .6-.3 .7-3.5 .6-1.6 .6 .9 .7 .4 .6-.5 .7 .9 .6-1.5 .7 .7 .6-.6 .7 .2 .6-.6 .7 .3 .6 .4 .6-.6 .7-.7 .6-.9 .7-1.1 .6-2.2 .7-.8 .6 .3 .7-.9 .6 .6 .7-1.9 .6-.4 .7 1.4 .6-1.4 .6-1.1 .7 2.7 .6-.5 .7-.8 .6 .8 .7-.5 .6-.7 .7-2 .6-1.2 .7-3.1 .6 1.1 .6-1.1 .7 .4 .6-.2 .7 1.3 .6 1.4 .7-.4 .6-2 .7-2.1 .6-.4 .7-.3 .6 1.1 .7-1.7 .6-.8 .6 1.4 .7 .3 .6 1.1 .7-1.8 .6-.1 .7 .5 .6-.3 .7-.3 .6 .8 .7 1.2 .6 .8 .7 .9 .6-1.8 .6-2.9 .7 2.1 .6-.8 .7-1 .6 .7 .7-.9 .6 .6 .7-2.1 .6 .4 .7-.6 .6-1.1 .6 .3 .7 1.6 .6-.1 .7-1.4" fill="none" stroke="#424242" stroke-width="2.1" stroke-linejoin="round"/>
<path d="M33.2 418.8l.6-.1 .7 .1 .6 0 .7-.2 .6 0 .7-.4 .6 .2 .7 .2 .6 .2 .7-.3 .6 0 .7-.2 .6-.1 .6-.2 .7-.1 .6 .2 .7 0 .6-.2 .7 .4 .6-.7 .7-.3 .6-.2 .7 .5 .6 0 .6 .7 .7-.2 .6 .2 .7-.2 .6 .1 .7-.2 .6-.6 .7 .7 .6-.5 .7 .9 .6 .3 .7-.2 .6-.4 .6-.4 .7 .7 .6-.4 .7-.3 .6-.7 .7 .2 .6-.2 .7 .6 .6-.1 .7 .1 .6-.5 .6 .5 .7 .2 .6-.6 .7-1 .6 0 .7-.1 .6 .3 .7-.6 .6-.2 .7-.7 .6 .2 .7 .7 .6 .1 .6 .3 .7 .2 .6-1.1 .7-.5 .6 .6 .7-1.2 .6-.3 .7 .2 .6-.6 .7-.3 .6-.1 .7 .4 .6-.9 .6-.8 .7 .8 .6-1.3 .7-.9 .6-.2 .7-.5 .6-.3 .7 0 .6-.2 .7-1 .6 .7 .6-.4 .7-.3 .6 .2 .7-.1 .6 .4 .7-.1 .6-.5 .7-.6 .6 .2 .7-1.8 .6 .6 .7 0 .6 .1 .6 0 .7-.9 .6 .3 .7-.8 .6-.5 .7 .7 .6-.6 .7 .3 .6-1.5 .7 .6 .6 .5 .6 .7 .7 .1 .6-.4 .7-.1 .6 0 .7-.3 .6-.5 .7-1.2 .6 .8 .7-.1 .6 0 .7 .3 .6 0 .6-.3 .7-1 .6-.2 .7 0 .6-.7 .7-.2 .6 0 .7-.3 .6 .3 .7-.6 .6-.4 .7 .2 .6 .4 .6-1.2 .7-.1 .6-1.6 .7 .8 .6-.3 .7 .4 .6-.2 .7-.5 .6 .4 .7-.1 .6-.3 .6-.2 .7-.6 .6-.7 .7-.4 .6 0 .7 .1 .6 .4 .7 0 .6-.3 .7-.9 .6-.1 .7 .3 .6-.9 .6 .1 .7-.1 .6-.5 .7-.7 .6 .9 .7-.4 .6-1.1 .7-.5 .6-.2 .7-.5 .6-1.5 .6-.1 .7-.9 .6-.7 .7 .1 .6-.6 .7-.1 .6-.1 .7 0 .6-1.2 .7-.2 .6-.3 .7 .2 .6-1.6 .6-.4 .7 .1 .6 .4 .7 .6 .6-.8 .7-.5 .6 .6 .7-1.2 .6-.6 .7 .6 .6 0 .7-.1 .6-.5 .6-.2 .7 .7 .6-1.3 .7-.2 .6-.6 .7-.4 .6 .6 .7 0 .6-.2 .7-.1 .6 .4 .6 .5 .7-.1 .6 .4 .7 .1 .6 .9 .7-.7 .6 .3 .7-.2 .6-.4 .7-.5 .6-1.2 .7 .3 .6 1.1 .6-.3 .7 .2 .6-.4 .7 .4 .6 .2 .7 0 .6 0 .7 .7 .6-.2 .7-.6 .6-1 .6 .1 .7 .1 .6-.6 .7-.4 .6-.9 .7 0 .6 .3 .7-.6 .6-.6 .7 .8 .6 0 .7 1.1 .6-.2 .6 .1 .7-.4 .6-.1 .7-.3 .6-.3 .7-.5 .6-.3 .7 .3 .6 .5 .7-1.2 .6-.9 .7 .5 .6-.3 .6 1 .7 .5 .6-.5 .7-1.4 .6 .7 .7 .2 .6-1.4 .7 1.2 .6-.9 .7-.4 .6 .1 .6-.3 .7-1.6 .6 1.2 .7 .2 .6 0 .7 .2 .6 .5 .7-1.5 .6-.2 .7 1.1 .6-.1 .7-.7 .6-.5 .6 .8 .7-.5 .6-.5 .7-.4 .6-.3 .7 1.1 .6-1.6 .7 0 .6-1.1 .7-1.3 .6 1 .6 1.2 .7-.6 .6 .2 .7 .3 .6 .5 .7-1.4 .6 .4 .7 .8 .6-.1 .7 .3 .6-.7 .7 0 .6 .3 .6-.9 .7 .2 .6-.7 .7-.8 .6 .4 .7 .5 .6-.3 .7-.7 .6 .1 .7 0 .6 0 .7-.2 .6-.3 .6 .5 .7 .2 .6-.3 .7 .3 .6-.4 .7-.5 .6 0 .7 .3 .6 .3 .7-1.4 .6-.4 .6 1 .7 .4 .6-1.5 .7-.7" fill="none" stroke="#e0383c" stroke-width="1.6" stroke-linejoin="round"/>
<path d="M33.2 418.8l.6-.2 .7 .2 .6 0 .7-.1 .6 .1 .7 0 .6 0 .7-.3 .6 .2 .7-.1 .6-.3 .7 .2 .6 .3 .6 0 .7 0 .6-.3 .7 0 .6 .2 .7-.5 .6 .2 .7 0 .6-.1 .7 0 .6 0 .6 0 .7 .1 .6 .3 .7-.1 .6 0 .7 0 .6-.1 .7 .1 .6-.3 .7-.3 .6 .6 .7-.1 .6 .1 .6 .2 .7-.2 .6 0 .7 0 .6 0 .7-.3 .6-.3 .7 .1 .6-.1 .7 .1 .6 .1 .6 .1 .7 0 .6 .1 .7-.2 .6-.1 .7-.3 .6-.4 .7-.9 .6 1.6 .7 0 .6 .3 .7 .1 .6 .3 .6-.2 .7-.1 .6 .1 .7-.1 .6 .1 .7 .2 .6-.5 .7-.1 .6 .3 .7-.5 .6 .1 .7 .7 .6-.9 .6 .6 .7-.4 .6-.4 .7-.8 .6-.5 .7 .2 .6 .5 .7 .1 .6-.6 .7-.8 .6 .1 .6 .6 .7-.4 .6 .3 .7 .2 .6 0 .7-.4 .6-.1 .7-.4 .6-.5 .7 .1 .6 1.3 .7 .5 .6-.6 .6-.3 .7-1.2 .6 .2 .7 .2 .6-.5 .7-.4 .6 .3 .7-.1 .6 .5 .7 .3 .6-1 .6 .7 .7-.8 .6-.4 .7-.3 .6-.3 .7 0 .6 1.1 .7 .2 .6-.2 .7-.8 .6 .4 .7 0 .6-.2 .6-1 .7 .7 .6 .3 .7-.8 .6 .7 .7-1.2 .6-.5 .7 0 .6-.7 .7-.4 .6-1 .7-.9 .6-1.1 .6-.1 .7-.2 .6 .1 .7-.4 .6-.9 .7 .8 .6-.9 .7-.1 .6-.5 .7-.6 .6-.7 .6-.3 .7-.1 .6-.7 .7-.4 .6-.4 .7-.6 .6-1 .7-.4 .6-.4 .7 .3 .6-.7 .7 .3 .6-1.3 .6-.2 .7-1.5 .6-2 .7 .4 .6-.6 .7 .2 .6 .6 .7 .4 .6-.5 .7-.8 .6 .1 .6 1 .7 .3 .6-.3 .7-1 .6-.1 .7-.2 .6-.5 .7 .3 .6 .2 .7 0 .6 .9 .7-.7 .6-.5 .6-.6 .7 .7 .6 .2 .7-.9 .6-.2 .7-.8 .6 .7 .7-.2 .6 .3 .7-.4 .6 .1 .7-.5 .6-.7 .6-.2 .7 1.1 .6-.8 .7-.2 .6 .7 .7 .2 .6-.3 .7-.6 .6 .2 .7 .8 .6-.7 .6-.3 .7-1.5 .6 1.2 .7-1.5 .6-.5 .7 .5 .6-.5 .7 .5 .6-.3 .7 .7 .6-.1 .7 .4 .6 .5 .6-.5 .7-.1 .6-.9 .7-.9 .6 .1 .7-.1 .6-.2 .7 .8 .6-.7 .7-.3 .6-.2 .6 .6 .7 .8 .6-.5 .7-.6 .6-.9 .7-.4 .6-.5 .7 .4 .6-.3 .7 .6 .6 0 .7-.3 .6-1.1 .6 .7 .7 1.3 .6-.8 .7 .8 .6 .1 .7 .2 .6 .4 .7-1 .6-.2 .7 .6 .6 0 .7 .2 .6-.4 .6 .3 .7 .4 .6 .1 .7 0 .6-.4 .7 .4 .6-.3 .7-.6 .6-1.5 .7-.1 .6 2.1 .6-.2 .7-.3 .6-.6 .7-1.1 .6-.2 .7 1.5 .6-.7 .7-.3 .6-.4 .7-.8 .6 .8 .7-1 .6 .9 .6-.6 .7-.6 .6-1.6 .7 .6 .6 .8 .7-.9 .6 0 .7-1.4 .6 .4 .7 .2 .6-1.2 .6-.2 .7-.8 .6 .9 .7-1.4 .6 .4 .7-.6 .6 .7 .7 .6 .6-.4 .7-.6 .6-1.2 .7-.1 .6-.3 .6-.3 .7-1.6 .6 1.3 .7-.6 .6 .5 .7-.1 .6 .4 .7-.8 .6 .9 .7 .5 .6-.4 .7 .3 .6-.8 .6-.5 .7 .7 .6-.5 .7 .6 .6 .1 .7 0 .6-1 .7 .5 .6 .9 .7 .6 .6-.9 .6 1.2 .7 .1 .6 0 .7 1.2" fill="none" stroke="#1e5ecc" stroke-width="1.6" stroke-linejoin="round"/>
<path d="M33.2 418.8l.6-.2 .7 0 .6 .1 .7-.2 .6-.1 .7-.3 .6 .2 .7 .1 .6 0 .7 0 .6-.1 .7 0 .6 .1 .6 .4 .7 0 .6 0 .7 0 .6 0 .7-.5 .6-.6 .7 .5 .6-.3 .7-.5 .6 .2 .6 .7 .7 .5 .6-.7 .7-.7 .6-.1 .7 .5 .6-.8 .7-.4 .6 .3 .7 .1 .6 .8 .7-.8 .6 .5 .6-.8 .7-.6 .6-.2 .7-.8 .6 .3 .7-.3 .6-.4 .7 0 .6 .2 .7-.7 .6-.1 .6 .1 .7 0 .6-.1 .7-1.2 .6 .3 .7 .3 .6 .5 .7 .4 .6 .5 .7-.8 .6-.4 .7 .2 .6 .3 .6-.4 .7-.2 .6 .2 .7-.7 .6-.4 .7-.1 .6-.6 .7 .3 .6-.8 .7 .6 .6-.4 .7-.4 .6 .2 .6-.3 .7 .6 .6 .4 .7-.7 .6-1.1 .7-3.4 .6-.6 .7-.8 .6-.5 .7-.4 .6-.4 .6-.2 .7-.1 .6-1.3 .7 1.2 .6-.2 .7-.7 .6-.2 .7-.7 .6 0 .7 .9 .6 0 .7 .5 .6-1 .6-.8 .7 .4 .6-.3 .7 .3 .6 .6 .7-.2 .6 .5 .7-.3 .6-.6 .7-.7 .6-.8 .6 .4 .7-.1 .6-.3 .7-.2 .6 1.6 .7-.3 .6-1 .7 .2 .6-.6 .7-.8 .6 .9 .7-.4 .6-.6 .6-.3 .7 .5 .6-.7 .7-.1 .6-.8 .7-.4 .6 .2 .7-.4 .6 .1 .7-.2 .6 .2 .7-.8 .6-1.3 .6-.5 .7-.4 .6-.1 .7-.3 .6-1.1 .7 .4 .6-1.9 .7-.1 .6-1.5 .7-.5 .6 .4 .6-.6 .7-.2 .6-.3 .7-.5 .6 .3 .7 .1 .6-.2 .7 .3 .6-.5 .7-.8 .6-.6 .7-.4 .6-.1 .6-.8 .7 1 .6-.5 .7-.5 .6-1 .7-.5 .6-.5 .7 .1 .6-.6 .7 .7 .6-.3 .6 1 .7-1.7 .6-1 .7 .6 .6 .4 .7 .9 .6 .1 .7-1 .6-.5 .7 .4 .6-.4 .7-.3 .6-1.1 .6-.9 .7-.2 .6-.4 .7-.4 .6 .9 .7-1 .6-.6 .7-1 .6 .7 .7-1.2 .6-.1 .7-.7 .6-1.2 .6 .8 .7 .2 .6-1.3 .7 .5 .6 .1 .7-1 .6-.2 .7-.9 .6-.2 .7-.1 .6-.8 .6-1.2 .7 .5 .6-.7 .7-.3 .6 .3 .7-.1 .6 .7 .7 .2 .6-.6 .7-.2 .6-1.1 .7 .9 .6-.2 .6 0 .7-.3 .6-1.2 .7 .7 .6-.9 .7 .2 .6-.1 .7-1 .6 .1 .7-.6 .6-.1 .6 0 .7 .1 .6 .8 .7-.2 .6-.7 .7-.6 .6 .6 .7-1.2 .6-.6 .7 .8 .6 .2 .7-1 .6 .8 .6-.2 .7-.7 .6-.4 .7-.4 .6-.6 .7 .3 .6-.1 .7-1.7 .6 1.1 .7-.1 .6-.5 .7 .2 .6-1.3 .6-.1 .7-.7 .6 1.6 .7-1.6 .6-1.1 .7 .5 .6-1.2 .7-.2 .6-.7 .7-1.1 .6 .3 .6 .8 .7-.3 .6 .6 .7-.2 .6-.2 .7-.3 .6-1.6 .7-.8 .6 .5 .7-1.2 .6 1.1 .7-.2 .6-.6 .6-1.4 .7-.6 .6-.4 .7-.9 .6-.3 .7-.7 .6 .9 .7 1 .6-.3 .7-1.3 .6-.4 .6-.9 .7-.5 .6-.3 .7-.5 .6 .9 .7-.5 .6 1.2 .7 .2 .6 1 .7-.6 .6 1.1 .7-1.3 .6 1.2 .6-.4 .7 .2 .6 .6 .7-1 .6 .6 .7-1.3 .6 .9 .7 .2 .6 .9 .7-1.4 .6-1.2 .7-.3 .6-.1 .6 .4 .7-2.1 .6-.3 .7 1.5 .6-.2 .7 1.3 .6-2.2 .7-1.7 .6-.8 .7 .4 .6 .6 .6 .8 .7-1 .6 .2 .7-.2" fill="none" stroke="#2a9e5a" stroke-width="1.6" stroke-linejoin="round"/>
<path d="M33.2 418.8l.6-.1 .7-.3 .6-.5 .7-.3 .6 .1 .7 .5 .6 .3 .7 0 .6-.9 .7-.4 .6-.6 .7-.1 .6 .2 .6 .4 .7-.2 .6 .3 .7-1.4 .6-.1 .7 .2 .6-1 .7 .4 .6-.2 .7 .1 .6-.2 .6 .2 .7-.3 .6-.7 .7 .8 .6 .8 .7-1.2 .6-.2 .7-.5 .6 .1 .7-.9 .6-.8 .7 .8 .6-.5 .6 .2 .7 .5 .6-.4 .7-.8 .6 .4 .7 0 .6-1.2 .7-.3 .6-.5 .7 .4 .6-.2 .6-.5 .7-.3 .6-.2 .7-.9 .6 .1 .7 .9 .6 .2 .7-.4 .6-.9 .7 .4 .6 0 .7-.2 .6 .2 .6 .1 .7-.3 .6-.8 .7-.3 .6 .2 .7-.3 .6 .7 .7-.8 .6-.4 .7-.1 .6 .9 .7-1.4 .6 1.6 .6 0 .7-.1 .6-.2 .7 2.6 .6 1.4 .7 .5 .6 0 .7-.7 .6-.6 .7 0 .6 .3 .6 1.2 .7-1.2 .6 .1 .7 .8 .6-.5 .7-1 .6 .2 .7 .5 .6-1.3 .7-.1 .6 .1 .7-.4 .6 1.4 .6-.2 .7-.1 .6-1.3 .7 .7 .6 .3 .7 .6 .6 .1 .7-.2 .6-.4 .7 0 .6-1.1 .6 0 .7 0 .6-.4 .7 .1 .6 .7 .7 .8 .6-.4 .7 .3 .6-.8 .7 .4 .6 1 .7-.5 .6-.8 .6 .1 .7-.1 .6-.1 .7-.8 .6 .2 .7 .3 .6 .4 .7 .8 .6-1.1 .7-.5 .6 .7 .7-.3 .6-.1 .6 .3 .7 .1 .6-.4 .7 .7 .6 0 .7-.2 .6-.1 .7 0 .6-.3 .7-.3 .6 .6 .6-.2 .7 .1 .6-.9 .7 .9 .6 0 .7-.5 .6 .1 .7 .2 .6 .1 .7-.3 .6 .5 .7-.2 .6-.2 .6 .6 .7-.5 .6 0 .7-.3 .6-.5 .7 .1 .6 .9 .7-.2 .6 .9 .7 .2 .6-1.1 .6 .3 .7-.6 .6 .5 .7 .3 .6 .8 .7-.5 .6 .3 .7-.1 .6 0 .7 0 .6 .2 .7 .3 .6 .3 .6 .5 .7 1.1 .6-.6 .7-1.1 .6-.1 .7-.6 .6 .6 .7 1.1 .6 .7 .7-.3 .6 0 .7 .4 .6-.2 .6 .7 .7-.2 .6 .2 .7-.1 .6-.5 .7 .3 .6-.5 .7-.3 .6 .9 .7-1 .6 1.1 .6 .2 .7-.3 .6 1.2 .7-.8 .6-.5 .7 .3 .6 0 .7 0 .6 .2 .7-.4 .6 .4 .7 .1 .6-.1 .6-.3 .7-.3 .6 1 .7 1 .6-.4 .7-.2 .6 .3 .7-.4 .6-.4 .7-.1 .6-.7 .6 .9 .7 0 .6-.9 .7 .1 .6 .9 .7 0 .6-.5 .7-.8 .6 .3 .7-.1 .6 1.1 .7 .2 .6-.6 .6 .7 .7 .1 .6 .8 .7-1 .6 .1 .7-.2 .6 .8 .7 .5 .6-1.3 .7 .3 .6 .3 .7-.3 .6-.2 .6 1.1 .7 .2 .6-.4 .7-.2 .6-.2 .7 .2 .6 .1 .7-.2 .6 .3 .7 .3 .6 0 .6-.2 .7-.1 .6 .2 .7 0 .6-.1 .7-.3 .6-.1 .7 .7 .6-.6 .7 .8 .6-.5 .7 .3 .6-.4 .6-.5 .7 1.1 .6-.4 .7-.2 .6 .3 .7-.2 .6 .3 .7-.1 .6 .5 .7-.2 .6 .1 .6 .2 .7 .9 .6-.5 .7-.2 .6 .8 .7 .5 .6 .3 .7-.3 .6-.4 .7 .6 .6 .8 .7-.4 .6-.1 .6-.2 .7-.2 .6 .6 .7-.2 .6 0 .7-.3 .6-.5 .7 .2 .6 .6 .7-.7 .6-.1 .7 .3 .6 .9 .6 .1 .7-.3 .6-.4 .7 .2 .6-.3 .7 .3 .6 .1 .7-.3 .6 .1 .7-.1 .6-.4 .6-.4 .7 .6 .6 .2 .7 .6" fill="none" stroke="#a875e6" stroke-width="1.6" stroke-linejoin="round"/>
<path d="M33.2 418.8l.6-.1 .7 .1 .6 0 .7 0 .6 0 .7 0 .6-.1 .7-.1 .6 0 .7 .2 .6-.1 .7 0 .6 .1 .6 0 .7-.2 .6-.1 .7 0 .6-.2 .7 0 .6 .3 .7-.2 .6-.2 .7-.1 .6-.2 .6-.2 .7 .3 .6 .1 .7-.3 .6 0 .7 .1 .6-.4 .7-.1 .6 .5 .7 0 .6 .3 .7 0 .6 .4 .6 .2 .7 0 .6-.1 .7-.8 .6-.8 .7 .2 .6-.1 .7 .4 .6 .4 .7-.1 .6-.1 .6-.3 .7-.2 .6-.8 .7 .4 .6 .8 .7-.3 .6 .2 .7-.4 .6-.6 .7 .4 .6 0 .7-.3 .6 .4 .6-.2 .7-.4 .6-.3 .7-.4 .6 .1 .7 0 .6 .9 .7 1.1 .6-.2 .7-1.2 .6-.2 .7 1 .6-.2 .6-.6 .7 .7 .6-.7 .7 .3 .6-.8 .7-.1 .6-1.4 .7 1.1 .6-.1 .7 .8 .6-.8 .6 0 .7-.4 .6 .1 .7 .7 .6 .1 .7 .3 .6 .1 .7-.5 .6-.8 .7-.3 .6-.1 .7 .4 .6-.2 .6 .4 .7-.2 .6-.5 .7 .2 .6 .2 .7 .1 .6-.5 .7 .1 .6 .6 .7-.2 .6 .2 .6-1.1 .7 0 .6 .6 .7-.4 .6-.5 .7-.2 .6 .2 .7-.1 .6-.2 .7-.4 .6 0 .7-1 .6 .6 .6-.5 .7 .4 .6 1 .7 .4 .6 .4 .7 .2 .6-1.2 .7 0 .6-.5 .7 .3 .6-.2 .7 .3 .6-.8 .6 0 .7 .1 .6-.2 .7-1.2 .6 0 .7-.2 .6 .8 .7 .2 .6-.4 .7 .7 .6-1.1 .6-.2 .7 0 .6 0 .7 0 .6 .1 .7-.9 .6-.3 .7-.4 .6 .4 .7 .5 .6-.8 .7 .7 .6 0 .6-.6 .7-.6 .6 .8 .7-.1 .6-.3 .7-.1 .6 .3 .7-.5 .6 .3 .7 0 .6 1 .6-.5 .7 .6 .6-.9 .7-.4 .6 .2 .7-.2 .6-.1 .7 .1 .6-.2 .7 .1 .6 .2 .7 .3 .6-1.2 .6 0 .7 0 .6-.3 .7 .2 .6 .1 .7-.5 .6-.5 .7-.2 .6 .9 .7-.3 .6-.2 .7-.4 .6 .4 .6 .2 .7-.3 .6 .4 .7 .3 .6-.2 .7-.6 .6 .1 .7-.3 .6 .8 .7-.2 .6 .2 .6 .6 .7 .2 .6 .4 .7 0 .6 .3 .7-.8 .6 .4 .7 .8 .6-.2 .7-.3 .6 .2 .7-.4 .6 .6 .6 .3 .7-.9 .6 .3 .7-.1 .6 0 .7 0 .6 .2 .7 .3 .6-.4 .7 .6 .6 0 .6-.3 .7 .4 .6 .7 .7-.5 .6-.6 .7 .1 .6 .9 .7-.5 .6-1 .7 1.1 .6 1.2 .7-.4 .6-.4 .6-.6 .7-.4 .6 .1 .7-.1 .6 0 .7 .1 .6 .2 .7 .1 .6-.3 .7-.1 .6 .4 .7-.5 .6 .6 .6 .1 .7-.2 .6 .9 .7-.1 .6-.7 .7-.4 .6 .7 .7 .2 .6 .3 .7-.2 .6-.3 .6 .6 .7-.5 .6-.2 .7-.1 .6 .3 .7-.1 .6 .7 .7-.6 .6-.3 .7 0 .6 .5 .7-.9 .6-.4 .6 1.1 .7-.4 .6-.1 .7 1.2 .6-.7 .7-.5 .6-.3 .7 0 .6 .5 .7 .2 .6-.4 .6-.5 .7 .4 .6 .2 .7-.4 .6 1.2 .7-.6 .6 0 .7 .9 .6-.8 .7 .3 .6-.7 .7-.6 .6 .8 .6 .5 .7-.3 .6 .7 .7-.8 .6-.2 .7-.5 .6 1 .7-.3 .6-.3 .7 .8 .6-.7 .7 .6 .6-.4 .6 .5 .7-.7 .6-.8 .7 .2 .6 .2 .7-.5 .6 .5 .7 .1 .6-.3 .7 0 .6-.5 .6-.2 .7-.4 .6 .6 .7-.1" fill="none" stroke="#c8940c" stroke-width="1.6" stroke-linejoin="round"/>
<path d="M33.2 418.8l.6-.2 .7-.3 .6-.3 .7 .4 .6 .1 .7-.2 .6 .2 .7-.2 .6-.1 .7 .1 .6 .1 .7 0 .6-.1 .6-.7 .7 0 .6-1.1 .7 1.2 .6 .3 .7-.4 .6 .6 .7-.4 .6-.4 .7 0 .6 .1 .6-.4 .7 0 .6-.2 .7-.1 .6 .5 .7 .5 .6-.1 .7-.3 .6 0 .7-.6 .6-.2 .7-.5 .6 0 .6 .3 .7-.6 .6-.2 .7 .3 .6 0 .7-1.6 .6 1.8 .7-1 .6-.2 .7-.2 .6 0 .6 0 .7-1.4 .6 .4 .7 .2 .6-.4 .7-.2 .6 .2 .7 .1 .6 .5 .7-.9 .6 .4 .7 .9 .6-1.2 .6-.6 .7-.2 .6 .2 .7-.7 .6 .6 .7 .9 .6-.7 .7-.7 .6-.4 .7-1 .6 0 .7 .4 .6 .2 .6-.4 .7 .1 .6 0 .7 .5 .6-1.9 .7-4 .6-.7 .7-.4 .6-.6 .7-1 .6 .3 .6-.7 .7 .8 .6-.2 .7-.6 .6-1 .7 .9 .6 .1 .7-.3 .6-.1 .7 .3 .6 .5 .7 0 .6-.6 .6 .3 .7-1.5 .6-.6 .7 1.2 .6 0 .7-1 .6-.7 .7-.2 .6 1.1 .7 .1 .6-.8 .6 .1 .7 .3 .6-.3 .7-.5 .6 .1 .7-.1 .6-.6 .7 .3 .6 .3 .7-.8 .6 .4 .7-.7 .6 .1 .6-.8 .7 .4 .6-1.1 .7-.3 .6 .1 .7 .2 .6-.4 .7 .1 .6 0 .7-1.8 .6-1.1 .7-1.4 .6 .3 .6 .2 .7-.4 .6-1.8 .7-1.5 .6 .3 .7-1.7 .6-.6 .7-.2 .6-1 .7-1.4 .6-.6 .6-.8 .7 0 .6 .2 .7-.7 .6 .1 .7-1.4 .6-.2 .7-1.5 .6 .6 .7-1.6 .6 .2 .7 0 .6-.9 .6-1.1 .7-.2 .6-.2 .7-1.7 .6-.3 .7 .5 .6-.4 .7-1.7 .6-.4 .7-.7 .6-1.5 .6 .6 .7-.5 .6 .1 .7-.5 .6-.9 .7 .4 .6-.9 .7-.8 .6-1.2 .7 .1 .6 .2 .7-1 .6 .3 .6-.7 .7-.8 .6 .4 .7-.4 .6 .3 .7 1.2 .6-.3 .7 .2 .6-1.4 .7-.3 .6-.8 .7-.7 .6-1.2 .6 .1 .7 0 .6-.8 .7-1.2 .6 .2 .7-.2 .6 .1 .7 .3 .6 .7 .7-.7 .6-.4 .6-.4 .7-1.8 .6 .4 .7-.4 .6 .2 .7-1 .6 .2 .7-1.4 .6 .5 .7-.5 .6-.6 .7 .4 .6-.6 .6 .1 .7 .5 .6 .1 .7-.7 .6-1.5 .7 .5 .6-.4 .7 .5 .6-.5 .7 .6 .6 0 .6-.6 .7 .1 .6-.3 .7-1.2 .6 .1 .7 .3 .6 .5 .7-.2 .6-1.4 .7 0 .6-.1 .7-.7 .6-.5 .6-.5 .7 .5 .6 .7 .7 .8 .6-.2 .7-.4 .6-1.1 .7-.4 .6 .3 .7-.9 .6 .8 .7 .4 .6 .2 .6-.3 .7-.9 .6-.3 .7-.4 .6-1.9 .7 .7 .6-.1 .7-.7 .6-1.2 .7-.8 .6-.2 .6-.2 .7-.3 .6-1.2 .7 .4 .6 1.1 .7-1.4 .6 0 .7-.9 .6-1.9 .7-.3 .6-1.6 .7 1.3 .6-.7 .6-.7 .7-.9 .6 .4 .7-.6 .6-.4 .7-.5 .6 .7 .7 .4 .6-1.5 .7-1 .6-.5 .6-1 .7-1.1 .6 .9 .7-1.1 .6-1.4 .7-.7 .6-.4 .7-.4 .6 1.1 .7-.2 .6-1.5 .7-1.5 .6-.3 .6 .4 .7-.3 .6-1.1 .7-1.8 .6-.3 .7 .6 .6-.7 .7-.5 .6-2 .7 0 .6 .2 .7 .3 .6 1 .6 .3 .7-.3 .6-.1 .7-.9 .6-.6 .7-1.1 .6-1.3 .7 .2 .6 .4 .7 1.4 .6-1.1 .6-.9 .7 .4 .6-.1 .7 .1" fill="none" stroke="#22c6c6" stroke-width="1.6" stroke-linejoin="round"/>
<path d="M33.2 418.8l.6-.1 .7-.3 .6 .4 .7-.6 .6 .3 .7 .3 .6-.1 .7 0 .6-.4 .7 .2 .6 .1 .7-.2 .6-.2 .6 .2 .7 .1 .6 0 .7 0 .6-.4 .7-.1 .6-.1 .7-.1 .6 .2 .7-.1 .6 .1 .6 .2 .7-.3 .6 .6 .7-.1 .6 .1 .7 .3 .6 0 .7-.3 .6-.4 .7 .3 .6-.5 .7-.1 .6-.3 .6 1 .7 0 .6 0 .7-.5 .6 .2 .7 .1 .6 .3 .7 .2 .6 0 .7-.9 .6 .4 .6 .5 .7-.4 .6-.1 .7-.5 .6-.3 .7 .1 .6 .2 .7 .1 .6-.1 .7 .2 .6-.3 .7-.7 .6 .4 .6 .3 .7 .2 .6-.5 .7-.4 .6-.5 .7 0 .6 .2 .7 0 .6 .7 .7-.4 .6-.1 .7-.9 .6-.3 .6 .9 .7 .3 .6-.4 .7 1 .6 .1 .7-.6 .6-.4 .7-.1 .6-.6 .7 .4 .6 0 .6 .1 .7 .5 .6-.3 .7 .1 .6-.2 .7 1 .6-.6 .7-.1 .6 0 .7-.4 .6 0 .7-.6 .6-.6 .6-.2 .7-.1 .6 .1 .7 .2 .6 .7 .7 0 .6-.8 .7-.3 .6 .4 .7-.1 .6-.5 .6 .2 .7-.7 .6 .7 .7-.4 .6-.2 .7 .1 .6 0 .7-.2 .6 1.2 .7-.6 .6-.7 .7-.1 .6-.4 .6 .8 .7-.1 .6-.2 .7 .1 .6-.7 .7-.1 .6 .4 .7-.4 .6-.3 .7 .4 .6-.3 .7 0 .6 0 .6 .7 .7-.8 .6-.1 .7 .2 .6-.1 .7 0 .6 .2 .7 .3 .6-.1 .7 .2 .6 0 .6 .4 .7-.2 .6-.8 .7 0 .6 0 .7 .2 .6 .1 .7 .6 .6-1.2 .7 .5 .6 .6 .7-.6 .6-.2 .6 .2 .7 .5 .6 .3 .7-1.2 .6 0 .7 .3 .6-1 .7 .5 .6 .5 .7-.5 .6-.1 .6-.7 .7 1 .6-.2 .7 .8 .6-.6 .7 .2 .6 0 .7 .1 .6-.6 .7-.8 .6 .3 .7 .3 .6 .2 .6-.3 .7 .5 .6-1.8 .7 .6 .6-.5 .7 .4 .6 1 .7 .6 .6-.1 .7 0 .6-.2 .7 .3 .6-1.5 .6-.8 .7 1.4 .6-.3 .7-.5 .6 .4 .7 .2 .6-.6 .7-.1 .6 .8 .7-.7 .6 .4 .6-1 .7 .8 .6 1.1 .7-.5 .6-.9 .7-.2 .6 0 .7 .6 .6-.6 .7 .9 .6-.7 .7 .5 .6 0 .6 .4 .7-.1 .6-1.2 .7 .6 .6-.3 .7 .2 .6-.7 .7 .6 .6-.2 .7-.6 .6-1.1 .6 1.1 .7 .5 .6-.1 .7-.8 .6 .7 .7-.4 .6 .4 .7 .5 .6 .5 .7-.5 .6-.7 .7 .1 .6 1 .6-.1 .7-.8 .6-.5 .7 0 .6-.5 .7 1 .6 .5 .7-1.4 .6 0 .7 .4 .6 .4 .7 1.3 .6-1 .6 .9 .7 .5 .6-.7 .7-1.1 .6 .2 .7-.2 .6 .2 .7-.2 .6 .9 .7-1.4 .6 .7 .6-.3 .7 1.1 .6-1.2 .7-.1 .6-.8 .7 .8 .6-.4 .7 .4 .6 .2 .7-.6 .6 .8 .7-.4 .6-.8 .6-.4 .7 .1 .6 .4 .7 .9 .6-.6 .7 .6 .6-.5 .7 .4 .6 .1 .7 .1 .6-.3 .6 .4 .7-.1 .6 .3 .7-.4 .6-.1 .7-.1 .6 .6 .7-.3 .6 0 .7-.2 .6 0 .7 .6 .6-.5 .6 .4 .7-.2 .6 1 .7-.7 .6-.4 .7 .5 .6-.5 .7 .2 .6-.7 .7-.1 .6 .9 .7 0 .6 .8 .6-.3 .7-.5 .6-.5 .7 .1 .6 .2 .7-.1 .6 .3 .7-.2 .6-.6 .7 .1 .6-.2 .6 .6 .7 .3 .6-.3 .7-1" fill="none" stroke="#7a4848" stroke-width="1.6" stroke-linejoin="round"/>
</svg>
<svg x="34.5" y="482.3" width="214.7" height="175.1" viewBox="34.5 482.3 214.7 175.1" overflow="hidden">
<path d="M34.5 657.4l.6 0 .7 0 .6 0 .7 0 .6 0 .7 0 .6 0 .7 0 .6-.6 .6 .1 .7 .1 .6 .1 .7 .1 .6 .2 .7-.1 .6-.2 .6 0 .7-.2 .6 0 .7 0 .6-.3 .7 0 .6 .2 .7 0 .6-.1 .6-.3 .7-.1 .6 .3 .7-.4 .6 .6 .7 .1 .6-.5 .7-.2 .6-.1 .6-.4 .7 1.1 .6-1.1 .7 .1 .6 .2 .7-.8 .6-.9 .7-.1 .6 .2 .6-2.3 .7-2.9 .6-3 .7-2.1 .6 .1 .7-.5 .6 .4 .6 .5 .7-.5 .6-.4 .7 .2 .6 .3 .7-.3 .6 1.1 .7-1 .6-.6 .6 .7 .7-.4 .6 .1 .7-.8 .6 .9 .7-.1 .6-1.2 .7-1.1 .6 .9 .6-.5 .7-.8 .6-.2 .7-1.4 .6 .4 .7-.7 .6 .1 .7-1.3 .6-.2 .6-.1 .7 .5 .6-1.7 .7-.6 .6-.6 .7-.8 .6-.2 .6 .3 .7 0 .6-.2 .7-1.4 .6 .5 .7-.3 .6-.6 .7-.8 .6-.8 .6 .3 .7 .3 .6-1 .7-1.4 .6-.8 .7-.9 .6-.6 .7-1.1 .6-.7 .6-1.5 .7-.3 .6-1.1 .7-.9 .6-1.4 .7-1.1 .6-2.5 .7-1.3 .6-1.2 .6 1 .7-.9 .6-.8 .7-1.4 .6 .6 .7-2.1 .6-1.5 .6 .3 .7-.4 .6-.6 .7-1.2 .6-1.5 .7-2 .6-.2 .7-1 .6-.5 .6-1.7 .7-.7 .6-1.3 .7 .5 .6-.6 .7-.4 .6-2.1 .7-1 .6-.4 .6-.5 .7-1.3 .6-.3 .7-.4 .6-1.5 .7-2.7 .6-.1 .7-.2 .6 .2 .6 .2 .7-1.5 .6-1.2 .7-.4 .6-.6 .7-.4 .6-.5 .6 .7 .7-.5 .6-.9 .7-.1 .6-.5 .7-.9 .6-1.7 .7-2.5 .6-1.2 .6-1.5 .7-2.2 .6-1.6 .7-1.7 .6 1.4 .7-1.6 .6-.3 .7-1 .6-1.4 .6-.9 .7-.5 .6 .4 .7-.9 .6 .8 .7 .4 .6-.6 .6 .7 .7-1.8 .6-.2 .7-1.4 .6 .4 .7 .4 .6-.5 .7-1 .6 .2 .6-.9 .7-.3 .6-1.6 .7 .6 .6-1.1 .7 .4 .6 .4 .7-.1 .6 .1 .6-1.2 .7-1.7 .6-.7 .7-1.1 .6-1.8 .7-.3 .6-.3 .7-.2 .6 .8 .6-1.9 .7 .8 .6-1.9 .7-.9 .6-1.7 .7-.4 .6 .1 .6-1.3 .7-.3 .6-.8 .7-1 .6-.8 .7-.7 .6-.2 .7-1 .6 .8 .6-1.6 .7-.4 .6-2.5 .7-1.6 .6 1.7 .7-1 .6-.5 .7 .3 .6-1.3 .6-.1 .7 .9 .6-.9 .7-.8 .6-.9 .7 .5 .6-1.5 .7-1.1 .6 .9 .6 0 .7-.7 .6 0 .7-2.3 .6-.1 .7 .9 .6 .2 .6-.6 .7-3.3 .6-.2 .7-.8 .6-1.2 .7-.6 .6-2.9 .7 .5 .6-1.3 .6-.7 .7-1 .6 .9 .7-2.4 .6 .1 .7-.4 .6 .5 .7-.1 .6-1.6 .6-1.6 .7-.9 .6-1.3 .7-.5 .6 .1 .7-1 .6-.1 .7 .6 .6-.5 .6-.9 .7 .5 .6 .8 .7-.7 .6-1.5 .7 1.1 .6 .4 .6 .3 .7-1.2 .6 2.3 .7-.9 .6-1.5 .7 1.1 .6-1.7 .7-.2 .6 1 .6-.3 .7 1.5 .6-.1 .7-2.5 .6 1.1 .7-2.1 .6 .6 .7-.8 .6 .4 .6 2.4 .7-.2 .6-1 .7 .7 .6 .6 .7-1.4 .6 .2 .7 1.1 .6-.4 .6-1.8 .7 .2 .6-1.3 .7-1.4 .6 .6 .7 1.5 .6 1 .6-.7 .7-1.3 .6-.4 .7-.6 .6 .5 .7-.6 .6 .4 .7-.1 .6 .9 .6 .6 .7-.7 .6 0 .7-.2 .6-1.9 .7-.4 .6-3.4 .7-.2 .6 1.4 .6-.4 .7 .2" fill="none" stroke="#424242" stroke-width="2.1" stroke-linejoin="round"/>
<path d="M34.5 657.4l.6-.2 .7 .2 .6 0 .7 0 .6 0 .7-.2 .6 .1 .7 .1 .6-.3 .6 .3 .7-.1 .6-.3 .7 0 .6 .1 .7 0 .6-.1 .6 .2 .7-.2 .6-.1 .7-.3 .6 .2 .7 .3 .6-.2 .7 .1 .6 0 .6 0 .7-.3 .6 .2 .7 .1 .6 .4 .7 0 .6-.5 .7 .1 .6 .1 .6 .1 .7-.2 .6-.1 .7 .2 .6-.3 .7-.1 .6-.3 .7 .4 .6-.8 .6 .1 .7 .3 .6 .3 .7 .1 .6-.4 .7 .2 .6-.5 .6-.1 .7-.4 .6-.1 .7 .3 .6 1.1 .7-.5 .6-.5 .7 0 .6-.2 .6 .3 .7 .1 .6 .3 .7-.9 .6-.1 .7 .3 .6 .5 .7-.2 .6-1 .6-.1 .7 .5 .6-.8 .7-.5 .6-.1 .7 0 .6-.2 .7 .2 .6-.1 .6 .7 .7-.7 .6 .1 .7-.7 .6 1.3 .7-.4 .6-.6 .6 .1 .7-.4 .6-.5 .7-.3 .6 .2 .7-.2 .6-.7 .7-.7 .6 0 .6-.1 .7-.2 .6-.6 .7 .5 .6 .3 .7-.6 .6 .1 .7-.3 .6-.6 .6-.7 .7 .2 .6-.8 .7 .6 .6-.9 .7 .4 .6 0 .7-1.1 .6 0 .6 .2 .7-.1 .6-.5 .7-.1 .6-.1 .7-.6 .6 .5 .6 .2 .7 0 .6-.7 .7-.5 .6-.4 .7 .4 .6 .3 .7-.4 .6 .4 .6-.4 .7-.2 .6 .6 .7 0 .6-.1 .7-1 .6-1.1 .7 .6 .6 .3 .6 1.3 .7-.6 .6-.2 .7 .3 .6-.8 .7 .7 .6-.4 .7-.4 .6 .4 .6-.9 .7-.6 .6 .4 .7 .1 .6-1.1 .7-.5 .6 .1 .6-.5 .7-.6 .6-.6 .7-.9 .6-.5 .7-1.1 .6-.5 .7-.1 .6-.3 .6-.5 .7 0 .6 .8 .7-.6 .6-.1 .7-1 .6 .1 .7-.3 .6-.1 .6-.9 .7 .1 .6 .2 .7-.3 .6 .2 .7-.4 .6-.2 .6-.4 .7-1.2 .6 .4 .7-.1 .6 0 .7-.6 .6 .5 .7 0 .6-.5 .6-.7 .7-.3 .6 .1 .7 .1 .6-.8 .7-1.1 .6-.2 .7-.1 .6-.3 .6 .5 .7-.2 .6-.2 .7-.4 .6-.2 .7 .5 .6-1.1 .7-1.1 .6 .4 .6-.2 .7-.1 .6-.5 .7 .9 .6-1.2 .7 .3 .6-.8 .6 .1 .7 .2 .6 .1 .7-.5 .6 .7 .7 .1 .6 .2 .7 .7 .6-1.2 .6-.3 .7 .1 .6-.6 .7 .9 .6 0 .7-1 .6-.2 .7 1.7 .6 1.6 .6-.3 .7-1.4 .6-.1 .7-.1 .6-.6 .7 .5 .6-.4 .7-.6 .6-.1 .6-.1 .7 .5 .6-.4 .7 .3 .6-.8 .7-1.2 .6 1.1 .6 1.4 .7-.1 .6-.6 .7-.7 .6-.6 .7 .7 .6 .3 .7-1 .6 .6 .6-.9 .7 .1 .6-.5 .7-.4 .6-.3 .7-.3 .6 .8 .7-.3 .6 0 .6-.2 .7-.7 .6 .4 .7 .5 .6 .3 .7-.1 .6-.7 .7 .5 .6-.9 .6-.1 .7 .3 .6 .7 .7-.5 .6-.5 .7 1 .6-1.1 .6-.9 .7 .1 .6 0 .7-1.1 .6-.1 .7 1.2 .6 .2 .7 .1 .6 .1 .6 1.3 .7-1 .6 .1 .7-.4 .6-.1 .7-.7 .6 .3 .7 .4 .6-.5 .6-.8 .7 .4 .6-.7 .7 .2 .6 .6 .7-.9 .6 .8 .7-.6 .6 .5 .6-.2 .7 .8 .6 .2 .7-1 .6-.1 .7 0 .6 .3 .6-.4 .7 .8 .6 .4 .7-.4 .6 .1 .7 0 .6-.4 .7-.2 .6-.1 .6-1.2 .7-.3 .6-.4 .7 .5 .6 .6 .7 .9 .6-.2 .7 1 .6-.4 .6-1 .7-1.1" fill="none" stroke="#e0383c" stroke-width="1.6" stroke-linejoin="round"/>
<path d="M34.5 657.4l.6 0 .7 0 .6 0 .7-.1 .6 0 .7-.1 .6-.5 .7 .1 .6-.3 .6 .3 .7 .2 .6-.1 .7-.2 .6 .3 .7 .1 .6 .3 .6 0 .7-.3 .6 .1 .7 .1 .6 .1 .7-.1 .6-.2 .7-.1 .6 0 .6 .3 .7-.4 .6 .1 .7 0 .6-.1 .7 .5 .6-.2 .7 0 .6-.2 .6-.2 .7 0 .6 .4 .7 0 .6-.2 .7 0 .6 .2 .7 .2 .6-.3 .6-.2 .7 0 .6 .3 .7-.5 .6 .6 .7-.1 .6-.5 .6 0 .7 0 .6 .3 .7-.6 .6 .7 .7-.2 .6-.1 .7 .4 .6-.6 .6 .7 .7 .1 .6-.3 .7 0 .6-.4 .7-.4 .6 .3 .7 .2 .6 .1 .6 0 .7-.6 .6 .1 .7-.3 .6 .1 .7 .3 .6-.6 .7 .5 .6-.2 .6-.9 .7 .7 .6-.1 .7 .6 .6-.2 .7 .4 .6-.4 .6-.1 .7-.5 .6-.9 .7 0 .6-.2 .7 .2 .6 .1 .7 .4 .6 .6 .6-.5 .7-1.1 .6-.1 .7 .4 .6-.9 .7 .5 .6 .3 .7 .4 .6 0 .6-.4 .7-1.4 .6 .2 .7 .4 .6 0 .7-.3 .6 .5 .7-.7 .6-.7 .6-.3 .7-.4 .6 .6 .7 .4 .6-1.1 .7-.7 .6 .7 .6-.4 .7-.3 .6-.4 .7-.2 .6 .1 .7-.3 .6-.2 .7-.1 .6 .7 .6 .9 .7-.5 .6 0 .7-1 .6-.8 .7-.2 .6 .1 .7-.2 .6-.7 .6 .5 .7-.5 .6-.2 .7 0 .6-.6 .7 .7 .6-.4 .7 .6 .6 .3 .6 .2 .7-.6 .6 .3 .7-.4 .6 .3 .7-1 .6-1 .6 .2 .7-.7 .6 .1 .7-.8 .6 .5 .7 1 .6-.9 .7 .2 .6 .5 .6 .1 .7 .5 .6-.5 .7 .1 .6-1.2 .7-.4 .6 .9 .7 .4 .6-.3 .6 .5 .7-.7 .6-.5 .7 .1 .6-.2 .7-.6 .6-.9 .6-.6 .7 .3 .6-.3 .7 .5 .6-.4 .7 .3 .6-.7 .7 .4 .6 0 .6-.5 .7-.8 .6 .5 .7-.3 .6-.6 .7-.5 .6 .1 .7-.5 .6-.2 .6-1.1 .7-.3 .6 .7 .7 .7 .6-.8 .7-1.2 .6-.3 .7-.6 .6 .2 .6 .5 .7-.9 .6-.3 .7-.6 .6 .6 .7-.6 .6 0 .6-.8 .7 .1 .6 .1 .7 0 .6-1 .7 0 .6 .3 .7 .3 .6 .2 .6-1.3 .7 .9 .6-.1 .7-.8 .6-.9 .7 .2 .6-.5 .7-.3 .6-.4 .6 .2 .7-.8 .6 .2 .7-.7 .6 1 .7-.7 .6 .8 .7 .5 .6-.9 .6 .1 .7-.6 .6 .3 .7-1.3 .6-.1 .7 .6 .6-.5 .6-.7 .7 .1 .6-.7 .7-1.5 .6-.4 .7 .1 .6 .2 .7-.7 .6 .6 .6 1.1 .7-.9 .6-.4 .7-2.1 .6-.4 .7 .5 .6 .4 .7-.7 .6 .3 .6 0 .7-.3 .6-.3 .7-.2 .6-.2 .7-.8 .6-.7 .7 1.4 .6-1.5 .6 .4 .7-.4 .6 .9 .7-.1 .6-.1 .7 .1 .6-.5 .6-.2 .7 .7 .6-.1 .7-.6 .6-.4 .7 .3 .6 .1 .7 0 .6 .4 .6 .4 .7-1.5 .6 .1 .7-.2 .6 .3 .7-1 .6-1 .7 .6 .6 0 .6 .7 .7-1 .6-.2 .7 1 .6-.7 .7 .1 .6 .1 .7 0 .6 .6 .6 .3 .7-.5 .6 .1 .7 .6 .6-1.4 .7 .5 .6 .4 .6 .4 .7-.6 .6-.5 .7 .1 .6-.3 .7 1.2 .6 0 .7 .1 .6-.2 .6-.4 .7 1.2 .6-2.3 .7 1 .6-.1 .7-.4 .6-.2 .7 .2 .6 1.9 .6 .1 .7-1" fill="none" stroke="#1e5ecc" stroke-width="1.6" stroke-linejoin="round"/>
<path d="M34.5 657.4l.6 0 .7 0 .6 0 .7-.1 .6 .1 .7 0 .6-.1 .7 .1 .6 0 .6-.2 .7-.1 .6-.3 .7 .1 .6 .2 .7-.1 .6 .1 .6 .2 .7-.4 .6 .1 .7-.1 .6-.1 .7 .2 .6-.2 .7-.1 .6 .1 .6-.1 .7 .3 .6 .4 .7 0 .6 0 .7-.6 .6-.2 .7 .3 .6-.2 .6-.7 .7-.4 .6 .1 .7 0 .6 .3 .7 .1 .6-.3 .7 .1 .6-.1 .6 .5 .7 .5 .6 .3 .7-.4 .6-1.1 .7-.6 .6 .6 .6 .6 .7-.7 .6-.3 .7 .6 .6-.8 .7-.1 .6-.6 .7 .1 .6-.3 .6 .1 .7 .6 .6 0 .7 .2 .6-.6 .7 .5 .6 .5 .7-.8 .6-.8 .6-.7 .7-.3 .6 1 .7 .1 .6 0 .7-.3 .6 .7 .7-.6 .6-.6 .6 .2 .7-.5 .6-.8 .7 0 .6-.6 .7-.3 .6 0 .6-.1 .7 .3 .6-.8 .7 .1 .6 .1 .7-.9 .6 .1 .7-.7 .6-.9 .6-.2 .7-.3 .6-.7 .7-.6 .6 .7 .7 .1 .6-1.4 .7-.6 .6 .7 .6-.1 .7-1 .6-.2 .7-1.1 .6-.6 .7-.8 .6 .2 .7-.9 .6-1.5 .6 .3 .7-1 .6-.7 .7-.1 .6 .4 .7 .7 .6 .3 .6-.7 .7-.6 .6-.4 .7-.2 .6-.1 .7 .6 .6 .7 .7-.3 .6-.3 .6-.1 .7 .8 .6 0 .7 .4 .6-.8 .7 .1 .6-.4 .7-.6 .6-.4 .6-.9 .7 .7 .6 .9 .7-1.2 .6-1 .7-.7 .6 .1 .7-.2 .6 .1 .6 .7 .7 0 .6-.8 .7 .1 .6-1.4 .7 .8 .6-.1 .6-1 .7 .2 .6 .3 .7 .2 .6-.4 .7-1.5 .6-.4 .7-.4 .6 .2 .6-.7 .7-.1 .6 .4 .7-.1 .6-.4 .7-.9 .6 0 .7-.3 .6-1.1 .6 .8 .7 .6 .6-.9 .7-.3 .6 .1 .7-.3 .6 .1 .6-.5 .7 .1 .6-.6 .7 .7 .6 .1 .7-.4 .6-.1 .7-.7 .6 0 .6 .2 .7-.4 .6 .2 .7 .6 .6 0 .7-.1 .6-.4 .7-.6 .6-.8 .6-.4 .7-1 .6-.5 .7 .4 .6-.8 .7-.4 .6 .6 .7-.2 .6-.7 .6 0 .7-.5 .6-.1 .7-.4 .6 .3 .7-.3 .6 .1 .6-.6 .7 .9 .6-.8 .7-1.2 .6-.4 .7-.1 .6-.4 .7 .4 .6 .1 .6-.4 .7-.4 .6-1.1 .7 .3 .6-1 .7 .7 .6-.1 .7-.7 .6-1.2 .6 .1 .7 .7 .6-1.3 .7-.7 .6 0 .7-.2 .6-.6 .7-1 .6-1.2 .6 .5 .7-2.3 .6-.1 .7-.1 .6-.9 .7-.4 .6-1.8 .6-.6 .7 .6 .6 .1 .7 0 .6-.2 .7-1 .6 .2 .7-1.6 .6 0 .6-.1 .7-.9 .6 1.2 .7-.2 .6-1.2 .7-.5 .6-.4 .7-.7 .6 .1 .6-.2 .7 .5 .6 .5 .7-1.8 .6 .3 .7-.1 .6-1.6 .7-.8 .6 .4 .6 .2 .7-.3 .6 .3 .7-.9 .6-.4 .7-.3 .6-.8 .6-.7 .7-1.3 .6-.7 .7 1.5 .6-1 .7 .6 .6 .4 .7-1.4 .6 0 .6-.3 .7-1 .6 .5 .7 .5 .6-.6 .7-.9 .6-.2 .7 1.4 .6 .1 .6-.2 .7-1.6 .6-.3 .7-.1 .6-.4 .7 .8 .6-.1 .7 0 .6 .9 .6-.1 .7-.5 .6 .8 .7-.8 .6-.5 .7-.5 .6 .9 .6-.1 .7-1 .6-.3 .7 1 .6-.2 .7-1 .6 .4 .7-.1 .6-1.6 .6 .8 .7 .5 .6 .8 .7 .3 .6-1.4 .7 .3 .6 .8 .7 .3 .6-.5 .6-.9 .7 .5" fill="none" stroke="#2a9e5a" stroke-width="1.6" stroke-linejoin="round"/>
<path d="M34.5 657.4l.6 0 .7-.2 .6-.1 .7-.2 .6 .1 .7 0 .6-.2 .7 .4 .6-.3 .6-.4 .7-.5 .6 .2 .7 .1 .6-.1 .7 .3 .6-.1 .6-.3 .7-.2 .6 .4 .7 0 .6 .4 .7-1.2 .6-.3 .7-.6 .6 0 .6-.6 .7-.7 .6-.8 .7 .4 .6-.9 .7-.1 .6 .2 .7-.6 .6 0 .6-.1 .7 0 .6-.5 .7-.3 .6-.1 .7 .2 .6 0 .7-.4 .6-.6 .6 .3 .7-.5 .6 .4 .7 .7 .6-.3 .7 .5 .6-.3 .6-.4 .7 .3 .6 .2 .7-1.1 .6 .4 .7 .2 .6-.1 .7 .4 .6 .3 .6-.1 .7 1.3 .6-1 .7 .6 .6 .3 .7-.5 .6 0 .7 .5 .6-.3 .6 .4 .7 0 .6 .4 .7 0 .6-.7 .7-.2 .6-.2 .7-.5 .6 .2 .6 .4 .7 .1 .6-.9 .7 .3 .6 0 .7 .2 .6-.1 .6-.1 .7 .2 .6 .1 .7 .4 .6 .3 .7-.5 .6-.4 .7-.3 .6 .2 .6 .5 .7-.3 .6-.2 .7 .8 .6-.5 .7-.7 .6-1.1 .7 .5 .6 .2 .6-1.1 .7 .4 .6-.4 .7-.3 .6-.3 .7 0 .6-1 .7-1.3 .6-.8 .6-.6 .7-.1 .6-1.2 .7-.1 .6-.3 .7 1.1 .6-.3 .6 .6 .7-.4 .6-.2 .7 .5 .6-.3 .7-.8 .6-.1 .7-.1 .6 .7 .6 .2 .7 .4 .6-.4 .7-.8 .6-.1 .7 .2 .6 .6 .7-.4 .6 .1 .6 .8 .7 .4 .6-.4 .7 0 .6-1.4 .7 0 .6 .4 .7 0 .6-1.1 .6 .5 .7-.5 .6 .2 .7-.3 .6 .5 .7 .9 .6 .2 .6 .4 .7 0 .6 .7 .7-.5 .6 .8 .7 .4 .6 .9 .7 .3 .6 .3 .6 .3 .7 0 .6 .7 .7 .7 .6-.5 .7 .5 .6 .5 .7-.5 .6 0 .6 1.7 .7 .1 .6-.5 .7-.2 .6 .6 .7-.6 .6 .9 .6 .3 .7 .2 .6 .2 .7-.3 .6-.3 .7 .3 .6-.5 .7 .7 .6 .1 .6-.7 .7 .2 .6-.2 .7 .5 .6 .2 .7 .1 .6-.1 .7 .2 .6 0 .6-.4 .7-.4 .6 .2 .7-.1 .6-.2 .7 .9 .6 .7 .7-1.1 .6-.5 .6 .3 .7 .1 .6 .6 .7 .6 .6-.4 .7 .6 .6-.8 .6 .3 .7-.3 .6-1 .7-.5 .6 .7 .7-.2 .6 .8 .7 .4 .6-.3 .6-.6 .7 .5 .6-.2 .7 .1 .6 .7 .7-.1 .6-.8 .7 .2 .6-.1 .6-.3 .7 .6 .6-.5 .7-.5 .6-.3 .7-.1 .6 .9 .7 .5 .6 .4 .6 .3 .7 .2 .6-.8 .7-.7 .6 .6 .7-.3 .6 .8 .6 0 .7 .6 .6 .8 .7-.2 .6-.1 .7 .4 .6 .3 .7 .6 .6 0 .6 .4 .7-.2 .6 .5 .7-.4 .6-.4 .7-.5 .6-.3 .7 .3 .6 .6 .6 .8 .7-.3 .6-.8 .7-.7 .6 1.6 .7 .1 .6-.1 .7 .3 .6-.5 .6-.1 .7 .1 .6-.1 .7 .6 .6 .1 .7 0 .6-.8 .6 .7 .7-.2 .6-.6 .7 0 .6-.4 .7 .5 .6-.3 .7-.3 .6-.9 .6 .2 .7-.2 .6 .6 .7 .3 .6-.6 .7 .2 .6-.3 .7 .2 .6-.6 .6-.5 .7 1.2 .6-.5 .7 .4 .6 .2 .7 .4 .6-.2 .7 .8 .6 .2 .6 .2 .7-.4 .6-.5 .7-.2 .6 0 .7 .5 .6 .8 .6-.5 .7-.2 .6-.2 .7-.6 .6 .4 .7 .2 .6 1.1 .7-.6 .6-.1 .6 .2 .7-.3 .6 .4 .7 0 .6-1.1 .7-.1 .6-.2 .7 0 .6 .1 .6 .2 .7-.8" fill="none" stroke="#a875e6" stroke-width="1.6" stroke-linejoin="round"/>
<path d="M34.5 657.4l.6-.2 .7 .1 .6 .1 .7 0 .6 0 .7 0 .6-.3 .7 .1 .6 .1 .6-.2 .7 .3 .6-.4 .7 .3 .6 .1 .7 0 .6-.1 .6-.1 .7-.3 .6 .3 .7-.1 .6 0 .7 0 .6-.4 .7-.3 .6 0 .6 .4 .7-.1 .6-.1 .7 .1 .6 0 .7 0 .6 .3 .7 0 .6-.3 .6 .3 .7 0 .6-.2 .7 .3 .6 0 .7 .2 .6 0 .7 .1 .6 0 .6-.1 .7-.1 .6-.1 .7 .3 .6-.5 .7 0 .6 .2 .6 0 .7-.2 .6 .2 .7 .2 .6 0 .7-.5 .6 .3 .7-.3 .6-.2 .6 .1 .7-.6 .6 .2 .7 .7 .6-.3 .7-.1 .6 .1 .7-.2 .6-1 .6 .3 .7 0 .6 .4 .7-.6 .6 .3 .7 .5 .6 .5 .7-.5 .6-.5 .6 .8 .7 .1 .6-.6 .7-.6 .6 .7 .7 0 .6-.6 .6 .3 .7 .1 .6 .1 .7 .3 .6-.4 .7-.3 .6 .5 .7-.4 .6-.7 .6 0 .7-.4 .6 .4 .7-.6 .6 .6 .7-.9 .6 .5 .7 .3 .6 .3 .6-.2 .7-.1 .6 0 .7-.2 .6-.7 .7-.5 .6 .2 .7-.7 .6 .6 .6 .3 .7 .2 .6-.8 .7 .6 .6 .3 .7-1.1 .6-.9 .6-.4 .7 1.1 .6-.1 .7-.4 .6 0 .7 .8 .6-.1 .7 .6 .6 .1 .6-1.6 .7-.2 .6 .8 .7 .5 .6-.6 .7 .1 .6-.5 .7 .2 .6-.1 .6-.2 .7 .4 .6 .6 .7 .1 .6-.3 .7-.4 .6-.3 .7-.2 .6-.4 .6 .4 .7-.8 .6-.9 .7 .3 .6 .2 .7-.4 .6 .1 .6 .2 .7 .3 .6 .4 .7 .5 .6-.7 .7-.6 .6 .7 .7-.1 .6-.2 .6 .1 .7 .3 .6-.1 .7 .6 .6-.6 .7-.2 .6-1.4 .7-.3 .6 .4 .6 0 .7-.9 .6-.5 .7 .3 .6 .3 .7 .8 .6-.1 .6-.2 .7 .1 .6-1.2 .7 1 .6-.3 .7-.5 .6-.4 .7-.8 .6 .9 .6 .2 .7-.3 .6-.2 .7 0 .6 .2 .7-.8 .6 .5 .7 .1 .6-1 .6-.8 .7-.1 .6 .8 .7 .4 .6 .3 .7 .3 .6-.2 .7-.9 .6 0 .6 .4 .7 .3 .6 .4 .7-1 .6 1 .7-.5 .6 .5 .6 .2 .7 .2 .6-1 .7-.1 .6-1.4 .7 1 .6 .6 .7-.5 .6-.2 .6 .2 .7 1 .6-1 .7-.3 .6 0 .7 .4 .6-.3 .7 .4 .6-.1 .6 .1 .7-.7 .6 .5 .7 .2 .6-.6 .7 .1 .6 .2 .7 .2 .6-.5 .6 .5 .7-.2 .6-.9 .7 .2 .6 .8 .7 .6 .6-.3 .6 .5 .7 .5 .6-.1 .7 .1 .6-.9 .7 .6 .6-1.1 .7 .4 .6-.1 .6-.4 .7 0 .6-.2 .7 .7 .6 1 .7-.4 .6 .5 .7-.2 .6-.9 .6 0 .7 .2 .6 .4 .7-.1 .6-.2 .7 .6 .6-.6 .7 .3 .6-.4 .6 .1 .7-.7 .6-.3 .7 .2 .6 .2 .7-.2 .6-.5 .6-.2 .7 .3 .6 .2 .7-.6 .6 1.2 .7-.3 .6 .5 .7-.8 .6 .5 .6 0 .7 .5 .6-.2 .7-.5 .6-.7 .7 .9 .6 .2 .7-2 .6 .3 .6 .6 .7 .1 .6 1.6 .7-1.1 .6 0 .7 .8 .6-.8 .7 .4 .6 .4 .6-.4 .7-.3 .6 .3 .7 0 .6 .6 .7 .4 .6-.9 .6-.8 .7 0 .6 .1 .7 .3 .6 .1 .7 .5 .6-1 .7 .5 .6-.2 .6 .1 .7 .7 .6-1.1 .7 .4 .6 .4 .7-.2 .6 .4 .7-.2 .6 .4 .6-.6 .7 0" fill="none" stroke="#c8940c" stroke-width="1.6" stroke-linejoin="round"/>
<path d="M34.5 657.4l.6-.2 .7 0 .6 .2 .7-.1 .6-.1 .7-.3 .6 .3 .7-.2 .6 .1 .6-.1 .7 .1 .6 0 .7-.1 .6 .2 .7 .2 .6-.1 .6 0 .7-.2 .6-.2 .7 .1 .6-.3 .7 .1 .6 0 .7-.2 .6 0 .6 .1 .7-.2 .6 .4 .7 .2 .6-.2 .7-.5 .6 .3 .7-.4 .6-.8 .6-.6 .7 .5 .6-.1 .7 .1 .6-.1 .7-.1 .6 .1 .7-.1 .6 .1 .6 .3 .7-.1 .6-.2 .7-.4 .6 0 .7-.1 .6-.4 .6 .8 .7 .1 .6-.3 .7 0 .6 .5 .7-.7 .6 .1 .7 .4 .6-1.1 .6 .8 .7-.2 .6 .2 .7-.2 .6-.4 .7 .3 .6-.1 .7-.2 .6 .1 .6-1 .7-.3 .6-.1 .7 0 .6-.3 .7-.5 .6-.1 .7-1 .6 1.1 .6 .3 .7-.8 .6 .2 .7-.9 .6-.4 .7-1 .6-.7 .6-1 .7-.5 .6-.7 .7-.2 .6-.5 .7-.2 .6 .3 .7 .3 .6 0 .6-.9 .7 .7 .6-1 .7-.3 .6-1.1 .7-.4 .6 .1 .7-.5 .6 .8 .6-.9 .7-.8 .6 .6 .7-1.2 .6-.3 .7-.4 .6 .5 .7-.7 .6-.5 .6-.1 .7 .4 .6-.7 .7-.8 .6 0 .7-.5 .6 .5 .6-.1 .7-.3 .6-.1 .7-1.5 .6 .3 .7 .6 .6-.4 .7 .7 .6-.4 .6-.6 .7 .3 .6 0 .7 .3 .6-.6 .7 0 .6-1.4 .7-.3 .6 .1 .6 .6 .7-1.5 .6-.7 .7 0 .6 0 .7-.1 .6 .2 .7-1.2 .6 0 .6 .9 .7-.1 .6 .8 .7-1.4 .6-1 .7-1.3 .6-1.1 .6 .7 .7-.4 .6-.6 .7-.5 .6 .4 .7-.7 .6-.4 .7-.9 .6 .1 .6 .1 .7 0 .6-.2 .7-.3 .6-.6 .7-1.1 .6-.9 .7-1.2 .6-.9 .6-.5 .7 .5 .6-.9 .7-1.1 .6 .5 .7 0 .6-.3 .6-.4 .7-.9 .6-.4 .7-1.1 .6 .3 .7-.5 .6-.3 .7 .1 .6-1.3 .6-.3 .7-.5 .6 .1 .7-.7 .6-.5 .7 .1 .6 .9 .7-1.1 .6-.7 .6-.2 .7-.3 .6-.2 .7-.2 .6 .4 .7-.4 .6-.5 .7 .1 .6 .2 .6-1.8 .7-.3 .6 .2 .7 .1 .6 1.4 .7-.1 .6-.9 .6-1.6 .7 1.1 .6-.4 .7-2 .6-.6 .7-.3 .6-.8 .7 .2 .6 .1 .6-.7 .7-.6 .6 .7 .7-1.3 .6 1.1 .7-.1 .6-2.6 .7 .6 .6-.5 .6 .6 .7-.2 .6 0 .7-.3 .6-1 .7-1.4 .6-.4 .7-.9 .6 .7 .6-.9 .7-.2 .6-.7 .7 .6 .6 .1 .7-1.1 .6-.3 .6 .1 .7 .2 .6-.4 .7-.8 .6-.8 .7 .2 .6-.2 .7-.9 .6 .4 .6-1.3 .7-.4 .6-.3 .7 1.2 .6 0 .7-.6 .6-.8 .7-.3 .6-1.2 .6-.5 .7-.1 .6 1.1 .7-1.7 .6 0 .7-.6 .6 .4 .7-.2 .6-.7 .6-.1 .7-.7 .6 .4 .7-1.4 .6 1.8 .7 .2 .6-1.1 .6 .2 .7 .1 .6 1 .7-1.5 .6 1.1 .7-1 .6-.5 .7-.8 .6-.9 .6 .9 .7 .5 .6-.1 .7 .9 .6-1.3 .7 0 .6-.4 .7 .6 .6-.5 .6 .2 .7-.4 .6 .5 .7-1.2 .6 .4 .7 1.5 .6-1.3 .7-.2 .6 .3 .6-2.3 .7 .4 .6 1.1 .7 .1 .6-.6 .7 0 .6-1.1 .6-.5 .7 .9 .6 0 .7-.4 .6 .5 .7 .3 .6-.8 .7-.2 .6 1.2 .6 .2 .7-.1 .6-.2 .7 .3 .6-1.3 .7 .8 .6 .6 .7-.6 .6 1.4 .6-.1 .7-1.2" fill="none" stroke="#22c6c6" stroke-width="1.6" stroke-linejoin="round"/>
<path d="M34.5 657.4l.6 0 .7-.1 .6-.1 .7 .1 .6 0 .7 .1 .6-.1 .7 .1 .6-.5 .6 0 .7 .2 .6 .1 .7 0 .6 .2 .7 0 .6-.3 .6 .3 .7 0 .6-.3 .7-.2 .6 .3 .7-.3 .6 .2 .7-.3 .6 0 .6 .2 .7-.1 .6 0 .7 .2 .6-.4 .7 .2 .6-.2 .7 .2 .6 .4 .6 .1 .7-.2 .6-.2 .7-.3 .6 .1 .7 .1 .6 .2 .7 0 .6-.2 .6 .4 .7-.4 .6-.2 .7-.4 .6 .4 .7 0 .6 .1 .6 .2 .7 .1 .6 .1 .7-.1 .6-.3 .7-.6 .6 .4 .7 .7 .6-.4 .6-.3 .7-.2 .6-.5 .7 .6 .6-.3 .7 .7 .6-.2 .7-.4 .6 0 .6-.2 .7 .6 .6-.1 .7-.4 .6 .2 .7 0 .6-1.6 .7-.1 .6 .5 .6 .3 .7-1 .6 1.2 .7-.4 .6-.6 .7 .1 .6-.4 .6 .5 .7-.1 .6-.2 .7-.1 .6-.1 .7 0 .6-.5 .7 .3 .6 .4 .6 0 .7 .1 .6 .6 .7 .5 .6 .1 .7-.8 .6 0 .7-.1 .6-1.6 .6-.1 .7 .5 .6 .5 .7-.6 .6 .6 .7-.6 .6 0 .7-.4 .6 .7 .6-.3 .7 1 .6-.1 .7-.6 .6-.3 .7 1.1 .6-.6 .6-.2 .7 .1 .6 .4 .7 0 .6 .1 .7-.6 .6-.2 .7-.3 .6-.1 .6 .9 .7-.2 .6-1 .7 .9 .6-.1 .7 .4 .6 .3 .7-.3 .6-.5 .6-.3 .7 0 .6-.2 .7 1 .6-.5 .7-.1 .6 .2 .7 0 .6 .4 .6-.7 .7 .5 .6 .6 .7-.3 .6 .1 .7-.2 .6-.9 .6 .3 .7 0 .6-1 .7 1.1 .6-.1 .7-.5 .6-.5 .7-.6 .6 1 .6 0 .7 .3 .6 .3 .7 .3 .6 .4 .7-.6 .6-.6 .7 .5 .6-.6 .6 .2 .7 .3 .6 .9 .7-1.3 .6-.6 .7 .1 .6 0 .6 .4 .7-.6 .6-.2 .7-.4 .6-.1 .7 .6 .6 .5 .7-.8 .6 .6 .6-.7 .7-.7 .6 .6 .7-.6 .6-.1 .7-.3 .6 .3 .7-.1 .6-.3 .6-.9 .7 0 .6 0 .7 .9 .6-.3 .7 .3 .6-.2 .7-.3 .6-.5 .6-.2 .7 .1 .6 .2 .7-.6 .6 .7 .7 0 .6-.6 .6 .4 .7-.3 .6-.2 .7-.6 .6 0 .7 1.3 .6 .1 .7-.2 .6-.3 .6 0 .7-.7 .6-.1 .7 1.1 .6 .4 .7 .9 .6-1.3 .7 .2 .6 .1 .6 .7 .7-.1 .6-.5 .7 .2 .6 0 .7 .2 .6-1.2 .7 .6 .6 .7 .6 0 .7-.1 .6-.1 .7 0 .6 .4 .7-.2 .6-.4 .6 .6 .7-1.3 .6-.6 .7 1.4 .6 .1 .7-.7 .6-.5 .7-.5 .6 1.4 .6 .5 .7 .1 .6-.6 .7 .5 .6-.4 .7-.3 .6-.3 .7 .8 .6-.2 .6-.1 .7 .2 .6-.8 .7 .4 .6-.7 .7 .6 .6-.7 .7-.5 .6 1 .6 0 .7 0 .6 .6 .7-.5 .6-.2 .7 .6 .6-.1 .6-.4 .7 .2 .6 .4 .7-.9 .6 .7 .7-.2 .6-.5 .7-.1 .6 1.2 .6-.1 .7-.1 .6 0 .7-.4 .6-.2 .7 0 .6 0 .7-.4 .6-.3 .6 1.3 .7-1.2 .6 .6 .7-.3 .6 1 .7 .1 .6 .4 .7-.9 .6-.5 .6 .2 .7 .2 .6-.2 .7 .6 .6 .1 .7 .2 .6-.7 .6 0 .7 .7 .6-.5 .7-.3 .6-.6 .7 .6 .6-.2 .7-.8 .6 .6 .6 .4 .7-.2 .6 .4 .7 0 .6 .2 .7 .3 .6-.7 .7 .3 .6 .4 .6-.1 .7-.1" fill="none" stroke="#7a4848" stroke-width="1.6" stroke-linejoin="round"/>
</svg>
<svg x="290.4" y="2.5" width="216" height="176" viewBox="290.4 2.5 216 176" overflow="hidden">
<path d="M290.4 178.5h10.4v-8.7h.8v8.7h7.8v-8.7h.9v8.7h1.3v-8.7h.8v8.7h4.6v-8.7h.8v8.7h5v-8.7h.6v-8.7h.3v8.7h9.3v-8.7h.2v8.7h2.6v-8.7h.2v8.7h1.7v-8.7h.2v8.7h.7v-8.7h.2v8.7h20.9v-8.7h.3v8.7h1.7v-8.7h.6v-6.3h1.3v6.3h.5v-6.3h.8v-11.1h.2v8.7h.5v-8.7h.4v8.7h.2v-8.7h.4v8.7h.7v-8.7h.4v8.7h.7v-8.7h.2v8.7h.6v-8.7h.3v8.7h.6v-8.7h.4v8.7h.3v-8.7h.2v8.7h2.6v-8.7h.2v8.7h.6v-8.7h.2v8.7h1.1v-8.7h.2v8.7h2.6v-8.7h.9v8.7h.2v-8.7h.9v8.7h4.3v-8.7h.2v8.7h2.6v-8.7h.4v8.7h.2v-8.7h.3v8.7h1.3v-8.7h.2v8.7h1.1v-8.7h.2v8.7h.6v-8.7h.2v8.7h1.8v-8.7h.2v8.7h.6v-8.7h.2v8.7h2.9v-8.7h.2v8.7h1.5v-8.7h.4v8.7h1.7v-8.7h.3v8.7h.2v-8.7h.4v8.7h1.5v-8.7h.2v8.7h.2v-8.7h.3v8.7h3.9v-8.7h.6v8.7h3v-8.7h.2v8.7h8.5v-8.7h.4v8.7h1.5v-8.7h.2v8.7h.7v-8.7h.2v8.7h.2v-8.7h.4v8.7h1.5v-8.7h.3v8.7h1.7v-8.7h.2v8.7h.2v-8.7h1.1v8.7h1.7v-8.7h.2v8.7h2v-8.7h1.1v8.7h1.5v-8.7h.4v8.7h1.7v-8.7h.3v8.7h1v-8.7h.3v8.7h1.5v-8.7h.2v8.7h.4v-8.7h.2v8.7h.9v-8.7h.4v8.7h.2v-8.7h1.8v8.7h1.1v-8.7h.2v8.7h2.1v-8.7h.2v8.7h1.1v-8.7h.5v8.7h.2v-8.7h.2v8.7h.9v-8.7h.2v8.7h.4v-8.7h.4v8.7h.2v-8.7h.7v8.7h.2v-8.7h1.3v8.7h.2v-8.7h1.3v8.7h.2v-8.7h.9v8.7h.2v-8.7h4.1v8.7h.9v-8.7h8.2v8.7h.2v-8.7h1.3v8.7h.2v-8.7h5.9v8.7h.2v-8.7h.4v8.7h.2v-8.7h3.3v8.7h.2v-8.7h1.3v8.7h.2v-8.7h.2v2.4h.2v6.3h.2v-6.3h.2v6.3h.3v-6.3h.2v6.3h.4v-6.3h.4v6.3h.3v-6.3h.2v6.3h.2v-6.3h.2v6.3h.7v-6.3h.8v6.3h.5v-6.3h1.2v6.3h1.3v-6.3h.5v6.3h.2v-6.3h.2v6.3h.2v-6.3h.7v6.3h.2v-6.3h.2v6.3h.4v-6.3h.3v6.3h.2v-6.3h.2v6.3h.2v-6.3h.4v6.3h.5v-6.3h.4v6.3h.2v-6.3h.2v6.3h.9v-6.3h.2v6.3h.2v-6.3h.2v6.3h.5v-6.3h.2v6.3h.2v-6.3h.4v6.3h.9v-6.3h.2v6.3h.4v-6.3h.5v6.3h.4v-6.3h.2v6.3h.5v-6.3h.6v6.3h.9v-6.3h.2v6.3h.2v-6.3h.7v6.3h.2v-6.3h.4v6.3" fill="none" stroke="#4a4a4a" stroke-width="1.15" stroke-linejoin="round"/>
<path d="M290.4 178.5h43.2v-8.7h7.3v-8.7h.3v8.7h11.6v-8.7h.2v8.7h8.7v-8.7h.4v-6.3h.4v6.3h.9v-6.3h.4v6.3h.7v-6.3h.2v6.3h1.5v-8.7h5.4v-8.7h.4v8.7h7.8v8.7h.5v-8.7h.6v8.7h.2v-8.7h.2v8.7h.3v-8.7h.4v-8.7h.2v8.7h.4v8.7h.2v-8.7h.3v-8.7h.2v8.7h1.3v-8.7h.2v8.7h3.9v8.7h.2v-8.7h3.7v8.7h.6v-8.7h3.9v-8.7h.2v8.7h2.6v8.7h.4v-8.7h.9v-8.7h.4v8.7h2v-8.7h.4v8.7h3.5v8.7h.2v-8.7h1.7v-8.7h.2v8.7h3.9v-23.7h1.5v6.3h1.1v-6.3h.9v6.3h1.1v-6.3h.8v6.3h.5v-6.3h.2v6.3h.4v-8.7h4.3v-17.4h.5v17.4h3.2v-8.7h.2v8.7h3.5v-17.4h.2v17.4h1.3v-17.4h.2v17.4h2.8v-8.7h.6v8.7h7v-8.7h.2v8.7h1.9v-17.4h.5v17.4h4.1v-8.7h.2v8.7h2.8v-8.7h.2v8.7h1.7v-8.7h.2v8.7h.7v-8.7h.2v8.7h.2v-8.7h.2v8.7h6.5v-8.7h.2v8.7h2.4v-17.4h.7v17.4h3.4v-17.4h.4v17.4h2v-8.7h.9v8.7h1v-8.7h.5v8.7h3.9v-17.4h.6v17.4h1.7v-8.7h.5v8.7h7.7v-17.4h.5v17.4h1.5v-8.7h.6v8.7h.2v-8.7h.3v8.7h.6v-8.7h.2v8.7h3.5v-17.4h.2v17.4h.9v-15h.2v6.3h.4v-6.3h.2v6.3h1.3v-6.3h.5v6.3h.2v-6.3h.2v6.3h.2v-8.7h.2v-6.3h.4v6.3h.3v-6.3h1.9v6.3h2.4v-6.3h.2v6.3" fill="none" stroke="#e04048" stroke-width="1.15" stroke-linejoin="round"/>
<path d="M290.4 178.5h71.3v-17.4h1.7v-8.7h1.1v8.7h2.4v-8.7h.2v8.7h3.4v-8.7h.7v8.7h2.6v-8.7h1.1v8.7h1.9v-8.7h.4v8.7h2.6v-8.7h1.5v8.7h9.5v-8.7h.3v8.7h57.8v-8.7h.3v8.7h25.4v-8.7h.3v8.7h22.9v-8.7h4.7v8.7h.2v-8.7h3.7" fill="none" stroke="#3a66c8" stroke-width="1.15" stroke-linejoin="round"/>
<path d="M290.4 178.5h71.3v-26.1h4.3v-6.3h.4v6.3h.9v-6.3h.6v6.3h.3v-6.3h.2v6.3h.8v-6.3h.9v6.3h.2v-6.3h.2v6.3h.3v-6.3h.8v6.3h1.3v-6.3h.4v6.3h.3v-6.3h.6v6.3h.4v-6.3h1.6v6.3h2.8v-6.3h.6v6.3h.4v-6.3h.9v6.3h.2v-6.3h.5v6.3h.4v-6.3h.2v-11.1h.6v8.7h.3v-8.7h.6v8.7h.4v-8.7h6.5v8.7h.2v-8.7h1.3v-8.7h.3v8.7h2.3v8.7h.2v-8.7h.9v8.7h.2v-8.7h.5v8.7h.4v-8.7h.4v8.7h.2v-8.7h.5v-8.7h.4v8.7h1.1v8.7h.2v-8.7h.2v-8.7h.7v8.7h.2v8.7h.2v-8.7h.9v-8.7h.2v8.7h.8v-8.7h.5v8.7h5.4v-8.7h.2v8.7h2.4v-8.7h4.3v-17.4h.8v6.3h.5v-6.3h1.3v6.3h.2v-6.3h.2v6.3h.2v-6.3h.5v6.3h.6v-6.3h.9v-8.7h3.4v8.7h.5v-8.7h2.1v8.7h1.1v-8.7h3.2v8.7h.2v-8.7h.9v8.7h.7v-8.7h6.4v8.7h3.3v-8.7h4.7v8.7h6.1v-8.7h8v-8.7h.2v8.7h5.8v-8.7h1.5v-8.7h2.8v-8.7h5.2v8.7h.7v8.7h.2v-8.7h5.2v8.7h.2v-8.7h6.5v-8.7h2.6v-8.7h1.7v6.3h.2v-6.3h1.5v6.3h.9v-6.3h.8v6.3h.3v2.4h4.1v8.7h.2v-8.7h.2v8.7h.2v-8.7h.2v8.7h.2v-8.7h.9v8.7h.2v-8.7h1.8v8.7h.2v-8.7h.2v8.7h.2" fill="none" stroke="#2aa05a" stroke-width="1.15" stroke-linejoin="round"/>
<path d="M290.4 178.5h118.4v-8.7h.2v8.7h6.9v-8.7h.9v8.7h11v-8.7h.2v8.7h2.4v-8.7h.2v8.7h4.7v-8.7h.9v8.7h.9v-8.7h.8v8.7h6.1v-8.7h.2v8.7h.6v-8.7h.3v8.7h.8v-17.4h.7v-6.3h.2v6.3h.8v-6.3h.7v6.3h.2v-6.3h.2v6.3h.5v-6.3h.2v6.3h.4v-6.3h2v6.3h.2v-6.3h.4v6.3h.4v-6.3h.7v6.3h.4v-6.3h2.2v6.3h1.3v-6.3h.4v6.3h.4v-6.3h.7v6.3h.2v-6.3h.6v6.3h.3v-6.3h.4v6.3h.2v-6.3h.4v6.3h13v-15h1.3v6.3h.9v-6.3h.2v6.3h.6v-6.3h.5v6.3h.6v-6.3h.7v6.3h.4v-6.3h.2v6.3h.6v-6.3h.5v6.3h1.1v-6.3h.8v6.3h.2v-15h.3v6.3h.6v-6.3h.4v6.3h.3v-6.3h.4v6.3h.2v-6.3h.2v6.3h.4v-6.3h.3v6.3h.2v-6.3h.2v6.3h.4v-6.3h.5v6.3h.2v-6.3h.2v6.3h.2v-6.3h.9v6.3h.2v-6.3h.4v6.3h.2v-6.3h.5v6.3h.4v-6.3h.2v6.3h.9v-6.3h1.1v-2.4h6.4v-8.7h.3v-6.3h.2v6.3h.2v-6.3h.2v6.3h.4v-6.3h.3v6.3h.4v-6.3h.2v6.3h1.5v-6.3h.9v6.3h.6v-6.3h.5v6.3h.6v-6.3h.4v6.3h.7v-6.3h.2v6.3" fill="none" stroke="#c8a010" stroke-width="1.15" stroke-linejoin="round"/>
<path d="M290.4 178.5h41v-8.7h.5v6.3h.4v-6.3h1.1v6.3h.6v-6.3h.2v6.3h.5v-6.3h.4v6.3h.9v-6.3h.8v6.3h.3v-6.3h.2v6.3h1.1v-6.3h.4v6.3h1.1v-6.3h.2v6.3h2.4v-6.3h.4v6.3h.2v-6.3h.2v6.3h1.7v-6.3h.3v6.3h.2v-6.3h1.3v6.3h1.1v-6.3h.2v6.3h.6v-6.3h2.4v6.3h.2v-6.3h.2v6.3h.2v-6.3h.7v6.3h.2v-6.3h.7v6.3h1.5v-6.3h1.5v6.3h.4v-6.3h1.1v6.3h.4v-6.3h1.1v6.3h.4v-6.3h.5v6.3h.6v-6.3h.9v-8.7h.4v8.7h1.5v8.7h.5v-8.7h.2v-8.7h.2v8.7h.6v-8.7h.3v8.7h.4v8.7h.4v-8.7h2.2v-8.7h.2v8.7h.4v-8.7h.5v8.7h.4v-8.7h.2v8.7h.4v-8.7h.3v8.7h.8v8.7h.2v-8.7h.7v-8.7h.8v8.7h.5v-8.7h.8v8.7h.5v8.7h.4v-8.7h.4v8.7h.5v-8.7h.2v-8.7h.4v8.7h.4v-8.7h.7v8.7h.2v-8.7h.2v8.7h1.3v8.7h.2v-8.7h.3v8.7h.2v-8.7h.4v8.7h.2v-8.7h.7v-8.7h.2v8.7h.2v-8.7h.2v8.7h.4v-8.7h.5v8.7h1.9v-8.7h2.2v8.7h.2v8.7h.2v-8.7h.2v-8.7h.9v8.7h.2v8.7h.4v-8.7h.3v-8.7h1.3v8.7h4.1v-8.7h.4v8.7h.9v8.7h1.3v-8.7h.2v-8.7h.4v8.7h.2v-8.7h1.1v8.7h.4v-8.7h.2v8.7h.5v8.7h.2v-8.7h1.1v8.7h.6v-8.7h.7v-8.7h.2v8.7h.8v-8.7h.3v8.7h.2v-8.7h.6v8.7h.5v8.7h.2v-8.7h.6v-8.7h.2v8.7h.7v-8.7h.2v8.7h1.3v8.7h.4v-8.7h.2v-8.7h.3v8.7h.8v-8.7h.2v8.7h.3v8.7h.8v-8.7h.9v8.7h.2v-8.7h.2v8.7h.2v-8.7h.7v8.7h.8v-8.7h.3v-8.7h.4v8.7h.4v8.7h.7v-8.7h.2v-8.7h1.3v8.7h.9v-8.7h.8v8.7h.2v8.7h.2v-8.7h1.1v-8.7h.7v8.7h.2v8.7h.9v-8.7h.2v-8.7h.2v8.7h.2v-8.7h.2v8.7h.2v8.7h.3v-8.7h.2v-8.7h.6v8.7h.4v8.7h.9v-8.7h.4v-8.7h.5v8.7h.4v-8.7h.7v8.7h.6v-8.7h.2v8.7h.2v-8.7h.5v8.7h.4v-8.7h.6v8.7h.7v8.7h.2v-8.7h.2v-8.7h.5v8.7h.4v-8.7h1.1v8.7h.4v8.7h.2v-8.7h2.2v-8.7h.4v8.7h.7v-8.7h.6v8.7h.7v-8.7h.4v8.7h.4v8.7h.2v-8.7h1.1v8.7h.2v-8.7h1.1v8.7h.2v-8.7h.5v8.7h.2v-8.7h1.9v8.7h.5v-8.7h1.2v8.7h.3v-8.7h.2v-8.7h.8v8.7h.7v8.7h1.1v-8.7h.8v8.7h.7v-8.7h.4v8.7h.2v-8.7h.5v8.7h.4v-8.7h.2v8.7h.2v-8.7h1.5v-8.7h.3v8.7h.4v8.7h.4v-8.7h.7v-8.7h.2v8.7h.8v8.7h1.6v-8.7h1v8.7h.7v-8.7h.2v-8.7h.2v8.7h.2v-8.7h.5v8.7h.6v-8.7h.4v8.7h.7v8.7h.2v-8.7h.2v-8.7h.5v8.7h1v-8.7h.7v8.7h1.5v8.7h.2v-8.7h.7v-8.7h1v8.7h.9v-8.7h.2v8.7h.2v8.7h.9v-8.7h.4v8.7h.3v-8.7h.4v8.7h.2v-8.7h.2v8.7h1.3v-8.7h.2v8.7h.9v-8.7h1.1v8.7h1.9v-8.7h.4v8.7h.5v-8.7h.2v8.7h2.2v-8.7h.6v8.7h.2v-8.7h.5v8.7h.6v-8.7h.2v8.7h.7v-8.7h.4v8.7h.2v-8.7h.4v8.7h2.6v-8.7h.5v8.7h.2v-8.7h.2v8.7h.2v-8.7h.2v8.7h.7v-8.7h.2v8.7h.6v-8.7h.9v8.7h1.3v-8.7h.4v8.7h.5v-8.7h.4v8.7h.9v-8.7h.6v8.7h1.3v-8.7h.2v8.7h.9v-8.7h1.3v8.7h.2v-8.7h1.3v8.7h.2v-8.7h1.3v8.7h.7v-8.7h.4v8.7h.6v-8.7h.9" fill="none" stroke="#22c8c8" stroke-width="1.15" stroke-linejoin="round"/>
<path d="M290.4 178.5h30.5v-2.4h.2v-6.3h.6v6.3h.5v-6.3h5.8v8.7h.2v-8.7h39.1v8.7h5.2v-8.7h1.5v8.7h6v-8.7h6.1v8.7h3.9v-8.7h.4v8.7h4.8v-8.7h9.7v8.7h2.8v-8.7h.6v8.7h.9v-8.7h.9v8.7h5.4v-8.7h7.7v8.7h.9v-8.7h1.3v8.7h7.8v-8.7h2.1v8.7h.3v-8.7h.4v8.7h5.4v-8.7h3v8.7h11.2v-8.7h.9v8.7h2.4v-8.7h.2v8.7h6.9v-8.7h5.2v8.7h.4v-8.7h1.3v8.7h1.3v-8.7h21.4v8.7h4.1v-8.7h4.3v8.7h2.4" fill="none" stroke="#b07ee8" stroke-width="1.15" stroke-linejoin="round"/>
<path d="M290.4 178.5h71.3v-17.4h2.1v-8.7h2.2v-15h.2v6.3h.4v-6.3h.3v6.3h.4v-6.3h.2v6.3h.7v-6.3h.2v6.3h1.5v-6.3h.2v6.3h.2v-6.3h.2v6.3h.3v-6.3h1v6.3h.2v-6.3h.7v6.3h.2v-6.3h.2v6.3h.2v-6.3h.3v6.3h.2v-6.3h.4v6.3h.2v-6.3h.2v6.3h.3v-6.3h.4v6.3h1.3v-6.3h.2v6.3h.4v-6.3h.9v6.3h.2v-6.3h.9v6.3h.2v-6.3h.2v6.3h.4v-6.3h.3v6.3h.2v-6.3h.4v6.3h1.1v-6.3h.2v6.3h.2v-6.3h.2v6.3h.2v-6.3h.3v6.3h.2v-17.4h7.5v-6.3h.5v6.3h.2v-6.3h.4v6.3h.2v-6.3h.3v6.3h.2v-6.3h.4v6.3h.2v-8.7h1.5v-6.3h.2v6.3h.3v-6.3h.2v6.3h.2v-6.3h.2v6.3h.2v-6.3h.2v6.3h.3v-6.3h1v6.3h.9v-6.3h.4v6.3h.9v-6.3h.4v6.3h.2v-6.3h.7v6.3h.4v-6.3h.2v6.3h.3v-6.3h.4v6.3h.4v-17.4h.5v-6.3h.2v6.3h.4v-6.3h.4v6.3h.2v-6.3h.5v6.3h1.5v-6.3h.4v6.3h1.3v-6.3h.2v6.3h.7v-6.3h.4v6.3h.2v-6.3h.2v6.3h.9v-6.3h.4v6.3h.3v-6.3h.2v-2.4h1.5v-8.7h2.1v-6.3h.3v6.3h.2v-6.3h.4v-2.4h.9v-6.3h.4v6.3h.2v-6.3h.2v6.3h.5v-6.3h.2v6.3h.4v-6.3h.2v6.3h.3v-6.3h.2v6.3h.2v-6.3h.4v6.3h.7v-15h.4v6.3h.2v-6.3h.7v6.3h.4v-6.3h.2v6.3h.2v-8.7h11.9v-6.3h.2v6.3h.2v-6.3h.3v6.3h.4v-6.3h.2v6.3h1.1v-6.3h.2v6.3h.2v-6.3h.4v6.3h.5v-6.3h.4v6.3h.4v-6.3h.3v6.3h.6v-6.3h1.1v6.3h.4v-6.3h.4v6.3h.3v-8.7h4.7v-6.3h.7v6.3h.8v-6.3h.7v6.3h.4v-6.3h.2v6.3h.2v-6.3h.3v6.3h.4v-6.3h1.9v6.3h.2v-6.3h.7v6.3h.2v-6.3h.2v6.3h.7v-8.7h26.1v-6.3h.2v6.3h.2v-6.3h.5v6.3h1.1v-6.3h.2v6.3h.2v-6.3h.6v6.3h.5v-6.3h.6v6.3h1.1v-6.3h.2v6.3h.2v-6.3h.9v6.3h.2v-6.3h.9v6.3h.4v-8.7h9.9v-6.3h.3v6.3h.4v-6.3h.9v6.3h.6v-6.3h1.7v6.3h.5v-6.3h.2v-2.4h.8v-6.3h.3v6.3h.2v-6.3h.4v6.3h.7v-6.3h.4v6.3h.2" fill="none" stroke="#7a3a3a" stroke-width="1.15" stroke-linejoin="round"/>
</svg>
<svg x="292.2" y="241.3" width="217.2" height="177.1" viewBox="292.2 241.3 217.2 177.1" overflow="hidden">
<path d="M292.2 418.4h2.2v-5.8h.2v5.8h19.3v-5.8h1.3v-5.9h.2v5.9h.7v-5.9h.9v5.9h1.3v-5.9h.4v5.9h.4v-5.9h.2v5.9h1.1v-5.9h.5v5.9h.6v-5.9h.2v5.9h2.2v-5.9h.2v5.9h2.2v-5.9h.2v5.9h.5v-5.9h.6v5.9h.4v-5.9h.3v5.9h.4v-5.9h.6v5.9h3.3v-5.9h.2v5.9h.2v-5.9h.3v5.9h4.3v-5.9h1.7v5.9h.5v-5.9h.2v5.9h3.7v-5.9h.2v5.9h.6v-5.9h.3v5.9h.6v-5.9h.2v5.9h.9v-11.7h.4v-5.8h.9v5.8h3.9v-5.8h.7v5.8h3.4v-5.8h.7v5.8h.2v-5.8h.9v5.8h.8v-5.8h.3v5.8h1v-5.8h.3v5.8h1.7v-5.8h.9v5.8h.4v-5.8h.2v5.8h2v-5.8h.6v5.8h1.6v-5.8h.2v5.8h.8v-5.8h.5v5.8h.8v-5.8h.5v5.8h1.3v-5.8h.2v5.8h.6v-5.8h.5v5.8h.6v-5.8h.2v5.8h2v-5.8h.2v5.8h.2v-5.8h.5v5.8h2.4v-5.8h1v5.8h.9v-5.8h.9v5.8h.9v-5.8h.2v5.8h1.1v-5.8h.2v5.8h1.3v-5.8h.4v5.8h.4v-5.8h.5v5.8h1.3v-5.8h.2v5.8h1.3v-5.8h.2v5.8h1.1v-5.8h.2v5.8h3.5v-5.8h.2v5.8h3.1v-5.8h.4v5.8h.6v-5.8h.3v5.8h1.7v-5.8h1.5v5.8h.2v-5.8h2.9v-5.9h.2v5.9h.4v5.8h.2v-5.8h.5v-5.9h.2v5.9h1.7v5.8h.7v-5.8h.2v-5.9h.4v5.9h2.2v5.8h.6v-5.8h.3v5.8h.8v-5.8h2v-5.9h.4v5.9h1.5v-5.9h.3v5.9h.8v5.8h.2v-5.8h1.6v-5.9h.2v5.9h.4v5.8h.2v-5.8h.9v5.8h.7v-5.8h1.3v-5.9h1v5.9h.5v5.8h.2v-5.8h1.5v5.8h.5v-5.8h.4v-5.9h.2v5.9h1.5v5.8h.7v-5.8h.4v-5.9h.7v5.9h3.4v5.8h.3v-5.8h1.5v5.8h.2v-5.8h5.9v-5.9h.2v5.9h4.3v5.8h1.3v-5.8h.2v5.8h.5v-5.8h.8v5.8h.3v-5.8h.4v-5.9h.2v5.9h.4v-5.9h.3v5.9h.4v5.8h.2v-5.8h2.4v-5.9h.4v5.9h.5v-5.9h.2v5.9h.6v-5.9h.3v5.9h.2v5.8h.2v-5.8h1.7v5.8h.5v-5.8h6.5v-5.9h.4v5.9h3.1v-5.9h.4v5.9h.6v-5.9h.3v5.9h.2v-5.9h.2v5.9h.9v5.8h.2v-5.8h.2v5.8h.9v-5.8h.6v5.8h.7v-5.8h.8v5.8h.3v-5.8h.2v-5.9h.6v5.9h1.5v5.8h.5v-5.8h1.1v-5.9h.2v5.9h.4v-5.9h.2v5.9h3.3v-5.9h.2v5.9h.7v-5.9h.4v5.9h1.1v-5.9h.2v5.9h1.9v5.8h.3v-5.8h1.7v5.8h.2v-5.8h1.1v5.8h.7v-5.8h1.7v5.8h.2v-5.8h.2v-5.9h.7v5.9h.4v5.8h.2v-5.8h.3v5.8h.2v-5.8h.4v-5.9h.2v5.9h2.8v-5.9h.3v5.9h.8v-5.9h.2v5.9h.3v5.8h.6v-5.8h.2v-5.9h.2v5.9h3.3v5.8h.4v-5.8h.7v-5.9h.6v5.9h.3v5.8h.6v-5.8h.2v5.8h.5v-5.8h.4" fill="none" stroke="#4a4a4a" stroke-width="1.15" stroke-linejoin="round"/>
<path d="M292.2 418.4h65.2v-17.5h1.5v-5.8h.6v5.8h4.4v-5.8h.4v5.8h4.4v-5.8h.6v5.8h5.7v-5.8h.6v5.8h.2v-5.8h.5v5.8h2.8v-11.7h.4v-5.8h.4v5.8h1.1v-5.8h.3v5.8h2.8v-5.8h.2v5.8h.2v-5.8h.7v5.8h1.3v-5.8h.2v5.8h1.7v-5.8h.7v5.8h.2v-5.8h.6v5.8h3.7v-5.8h.9v5.8h.7v-5.8h.2v5.8h1.5v-5.8h.4v5.8h1.5v-5.8h.5v5.8h5v-5.8h.2v5.8h5.9v-5.8h.8v5.8h5.2v-5.8h.3v5.8h.6v-5.8h.2v5.8h3.1v-5.8h2.6v5.8h.2v-5.8h.2v5.8h.2v-5.8h.2v5.8h.7v-5.8h.4v5.8h7.4v-5.8h.9v5.8h.6v-5.8h.2v5.8h1.6v-5.8h.4v5.8h2.8v-5.8h.2v5.8h8.7v-5.8h.2v5.8h.5v-5.8h.4v5.8h2.4v-5.8h.2v5.8h2.2v-5.8h.2v5.8h.2v-5.8h.5v5.8h.4v-5.8h.4v5.8h6.3v-5.8h.5v5.8h2.6v-5.8h.8v5.8h.3v-5.8h.2v5.8h3.7v-5.8h.2v5.8h3.9v-15.9h.6v4.2h1.1v-4.2h.5v4.2h.2v-4.2h.6v4.2h.7v-4.2h.6v4.2h19.2v5.9h.2v-4.2h1.3v4.2h.2v-4.2h.2v4.2h.2v-4.2h.2v4.2h.3v-4.2h.2v4.2h1.3v-4.2h.2v4.2h.6v-4.2h.5v4.2h2.4v-4.2h.6v4.2h.2v-5.9h.5v-4.2h.2v4.2h.2v-4.2h.2v4.2h.7v-4.2h.2v4.2h.9v-4.2h.4" fill="none" stroke="#e04050" stroke-width="1.15" stroke-linejoin="round"/>
<path d="M292.2 418.4h65.2v-17.5h3.9v-5.8h.8v5.8h6.6v-5.8h.2v5.8h3.9v-5.8h.2v5.8h.2v-5.8h.2v5.8h1.1v-5.8h.7v5.8h5.4v-5.8h.7v5.8h6.7v-5.8h.2v5.8h2.8v-5.8h.2v5.8h1.3v-5.8h.3v5.8h.8v-5.8h.9v5.8h1.1v-5.8h.4v5.8h7.4v-5.8h.4v5.8h6.8v-5.8h.8v5.8h3.5v-5.8h.2v5.8h5.5v-5.8h.6v5.8h2.2v-5.8h.4v5.8h11.1v-5.8h.2v5.8h11.1v-5.8h1.1v5.8h4.1v-5.8h.2v5.8h5.5v-5.8h.4v5.8h3.7v-5.8h.2v5.8h.7v-5.8h.2v5.8h6.9v-5.8h.2v5.8h4.6v-5.8h.4v-5.9h.2v5.9h.7v-5.9h.2v5.9h1.1v-5.9h.4v5.9h.5v-5.9h.4v5.9h.7v-5.9h.2v5.9h1.3v-5.9h.2v5.9h.6v-5.9h.5v5.9h3.5v-5.9h.2v5.9h.2v-5.9h.2v5.9h3.5v-5.9h.2v5.9h1.5v-5.9h.2v5.9h1.3v-5.9h.7v5.9h.2v-5.9h.2v5.9h1.5v-5.9h.9v5.9h1.8v-5.9h.2v5.9h1.1v-5.9h.4v5.9h.4v-5.9h.2v5.9h1.6v-5.9h.2v5.9h.8v-5.9h.5v5.9h.4v-5.9h.7v5.9h.2v-5.9h.2v5.9h.7v-5.9h.2v5.9h1.7v-5.9h.4v5.9h2v-5.9" fill="none" stroke="#2a62c8" stroke-width="1.15" stroke-linejoin="round"/>
<path d="M292.2 418.4h55.2v-23.3h1.3v-5.9h1.1v5.9h.4v-5.9h1.3v5.9h.4v-5.9h.5v5.9h.2v-5.9h.2v5.9h.9v-5.9h1.1v5.9h.2v-5.9h.2v5.9h2.2v-5.9h.2v5.9h.8v-11.7h1.8v5.8h.2v-5.8h5.4v5.8h.2v-5.8h.7v5.8h.4v-5.8h.7v5.8h.4v-5.8h.9v5.8h1.1v-5.8h1.3v5.8h.2v-5.8h.2v5.8h1.1v-5.8h1.1v5.8h.2v-5.8h.2v5.8h.5v-5.8h2.6v5.8h.6v-5.8h1.3v5.8h.7v-5.8h2.4v5.8h.2v-5.8h2.4v5.8h.6v-5.8h.9v5.8h.4v-5.8h1.5v5.8h.3v-5.8h1.5v5.8h.2v-5.8h.6v5.8h1.1v-5.8h2.2v5.8h.4v-5.8h.3v5.8h1.3v-5.8h.2v5.8h.2v-5.8h.9v5.8h.4v-5.8h.9v5.8h2.1v-5.8h1.8v5.8h.2v-5.8h.2v5.8h.4v-5.8h.5v5.8h.4v-5.8h.9v5.8h.2v-5.8h1.5v5.8h.2v-5.8h.5v5.8h.6v-5.8h2.4v5.8h.7v-5.8h.4v5.8h.6v-5.8h1.6v5.8h.6v-5.8h.5v5.8h.4v-5.8h.9v5.8h.2v-5.8h1.5v5.8h.4v-5.8h1.5v5.8h.5v-5.8h3.7v5.8h.6v-5.8h2.2v-10.1h1.3v4.2h.4v-4.2h.5v4.2h.4v-4.2h.7v4.2h1.5v-4.2h.2v4.2h.4v-4.2h.2v4.2h.3v-4.2h.2v4.2h.6v-4.2h.7v4.2h.9v-11.6h25.6v-11.7h10.6v5.8h8.7v-5.8h.2v5.8h3.3v-5.8h.2v5.8h1.7v-5.8h.3v5.8h.6v-5.8h.2v5.8h.5v-5.8h.2v5.8h.4v-5.8h.7v5.8h.6v-5.8h.7v5.8h.2v-5.8h.4v5.8h.2v5.9h6.6v5.8h.2v-5.8h.2v5.8h1.7v-5.8h.2v5.8h1.3v-5.8h.5v5.8h.8v-5.8h.9v5.8h.2v-5.8h.9v5.8h.9v-5.8h.8v-5.9h3.3" fill="none" stroke="#2aa05a" stroke-width="1.15" stroke-linejoin="round"/>
<path d="M292.2 418.4h32.6v-11.7h.6v5.9h.2v-5.9h.5v5.9h.6v-11.7h.9v11.7h2v-11.7h.6v11.7h.2v-5.9h.5v5.9h.4v-11.7h.9v11.7h2.1v-11.7h.5v11.7h1.9v-5.9h1.5v-5.8h.7v-5.8h.4v5.8h.7v-5.8h.4v5.8h.9v-5.8h1.1v5.8h.6v-5.8h.9v5.8h.2v-5.8h1.1v5.8h.6v-5.8h.7v5.8h.2v-5.8h.5v5.8h1.9v-5.8h.2v5.8h2.2v-5.8h.2v5.8h3.1v-5.8h.2v5.8h1.5v-5.8h.2v5.8h1.3v-5.8h.2v5.8h.7v-5.8h1.1v5.8h5.4v-5.8h.2v5.8h.9v-5.8h.4v5.8h.2v-5.8h.5v5.8h.8v-5.8h.5v5.8h2.6v-5.8h.2v5.8h1.1v-23.4h.6v-5.8h.2v5.8h1.1v-5.8h.9v5.8h.2v5.9h5v-5.9h.9v5.9h.2v-5.9h.4v5.9h.7v-5.9h.2v5.9h2.8v-5.9h.9v5.9h3.7v-5.9h1.7v5.9h.2v-5.9h.3v5.9h.8v-17.5h.2v-5.9h.3v5.9h1.1v-5.9h.6v5.9h1.3v-5.9h.2v5.9h2.2v-5.9h.2v5.9h.4v-5.9h.9v5.9h.5v-5.9h.6v5.9h.2v-5.9h.5v5.9h1.3v-5.9h.8v5.9h.2v-5.9h.3v5.9h.8v-5.9h.7v5.9h.2v-5.9h.2v5.9h.5v-5.9h.2v5.9h.6v-5.9h.2v5.9h.5v-5.9h.8v5.9h.5v-5.9h.4v5.9h.2v-5.9h.2v5.9h1.1v-5.9h.2v-5.8h.3v5.8h.2v-5.8h.2v5.8h.2v-5.8h.2v5.8h.2v-5.8h.5v5.8h2.6v-5.8h.2v5.8h.2v-5.8h.2v5.8h.5v-5.8h.4v5.8h.4v-5.8h.7v5.8h.4v-5.8h.5v5.8h.2v-5.8h.2v5.8h1.5v-5.8h.9v5.8h.4v-5.8h.2v5.8h1.1v-5.8h.2v5.8h.5v-5.8h.4v5.8h1.1v-17.5h.7v5.9h.2v-5.9h.4v5.9h1.1v-5.9h.6v5.9h1.1v-5.9h.2v5.9h1.1v-5.9h.2v5.9h.3v-5.9h.2v5.9h2.2v-5.9h.2v5.9h.8v-5.9h.5v5.9h.2v-5.9h.2v5.9h1.1v-5.9h.4v5.9h1.1v-5.9h2.2v-5.8h.2v5.8h3.5v-11.7h.2v11.7h3.9v-11.7h1.1v11.7h.6v-11.7h.7v11.7h.4v5.9h.2v-5.9h.9v5.9h.7v-5.9h.4v5.9h1.3v-5.9h.7v5.9h.8v-5.9h.2v5.9h1.1v-5.9h.7v5.9h.2v-5.9h1.3v5.9h.4v-5.9h.3v5.9h1.3v5.8h10.6v-5.8h1.5v-5.9h.2v5.9h2.6v-29.2h.3v5.8h.2v-5.8h.6v5.8h.5v-5.8h.2v5.8h.2v-5.8h.2v17.5h1.7v-5.9h.3v5.9h.8v-5.9h.5v5.9h.8v-5.9h.7v5.9h.2v-11.7h.2v11.7h2.2v-11.7h1.3v11.7h2.2v-5.9h.2v5.9h.9v-5.9h.6v5.9h.2v-5.9h.2v5.9h.5v-5.9h.2v5.9h.4v-11.7h.2v11.7h1.4v-11.7h.4v11.7h.4v-5.9h1.1v-5.8h5.2v5.8h.2v-5.8h.3v5.8h.2v5.9h.6v5.8h2.2v-5.8h.4v5.8h1.1v-5.8h1.1v5.8" fill="none" stroke="#b070e0" stroke-width="1.15" stroke-linejoin="round"/>
<path d="M292.2 418.4h6.2v-5.8h.1v5.8h.4v-5.8h.1v5.8h3v-5.8h.1v5.8h6.4v-5.8h.1v5.8h14.8v-5.8h.1v5.8h2.8v-5.8h.1v5.8h12.7v-5.8h.1v5.8h7.5v-5.8h.6v5.8h.2v-5.8h.4v5.8h.2v-5.8h.1v-5.9h.1v5.9h.2v5.8h.1v-5.8h.1v5.8h.1v-5.8h.1v5.8h.1v-5.8h.3v5.8h.3v-5.8h.2v-5.9h.3v5.9h.1v-5.9h.1v5.9h.1v5.8h.4v-5.8h.3v5.8h.1v-5.8h.1v5.8h.3v-5.8h.1v5.8h.1v-5.8h.5v-5.9h.2v5.9h.2v-5.9h.1v5.9h.1v-5.9h.2v5.9h1.4v-5.9h.1v5.9h.4v-5.9h.2v5.9h.1v-5.9h.6v5.9h.3v-5.9h.1v5.9h.1v5.8h.1v-5.8h.2v5.8h.4v-5.8h.3v-5.9h.3v5.9h1.4v-5.9h.1v5.9h1.5v-5.9h.2v5.9h1.3v-5.9h.2v5.9h1.6v5.8h.2v-5.8h.2v-5.9h.3v5.9h.5v5.8h.1v-5.8h.1v5.8h.4v-5.8h.1v-5.9h.9v5.9h.2v-5.9h.4v5.9h.6v-5.9h.3v5.9h.2v-5.9h.4v5.9h.2v5.8h.2v-5.8h.5v-5.9h.4v5.9h.7v-5.9h.5v5.9h.6v-5.9h.1v5.9h.1v5.8h.3v-5.8h.1v-5.9h.2v5.9h.1v-5.9h.2v5.9h.1v5.8h.3v-5.8h.5v5.8h.1v-5.8h.3v-5.9h.4v5.9h.2v-5.9h.1v5.9h.8v5.8h.2v-5.8h.7v5.8h.2v-5.8h.1v-5.9h.2v5.9h.3v5.8h.4v-5.8h.3v5.8h.3v-5.8h.5v-5.9h.1v-5.8h.4v5.8h.5v5.9h.2v-5.9h.2v-5.8h.8v5.8h.1v-5.8h.3v5.8h.2v-5.8h.7v5.8h.1v5.9h.2v-5.9h.5v5.9h.2v-5.9h.3v-5.8h.2v5.8h.1v-5.8h.1v5.8h.1v5.9h.5v-5.9h.4v-5.8h.5v5.8h.4v5.9h.3v-5.9h.5v-5.8h.6v5.8h.3v5.9h.1v-5.9h.9v5.9h.4v-5.9h.2v5.9h.3v-5.9h.6v5.9h.3v-5.9h.2v-5.8h.2v5.8h.3v5.9h.3v-5.9h.6v5.9h.2v-5.9h.4v-5.8h.1v5.8h.1v-5.8h.4v5.8h.2v5.9h.4v-5.9h.1v-5.8h.4v5.8h.1v-5.8h.2v5.8h.1v-5.8h.2v5.8h.2v5.9h.6v-5.9h.1v5.9h.2v-5.9h.4v-5.8h.4v5.8h.2v5.9h.1v-5.9h.3v5.9h.1v-5.9h.4v-5.8h.4v5.8h.4v-5.8h.8v5.8h.8v-5.8h.2v5.8h.1v-5.8h.3v5.8h.1v5.9h.4v-5.9h.5v-5.8h1.1v5.8h.1v-5.8h.2v5.8h.1v5.9h.2v-5.9h.2v-5.8h.3v5.8h.3v-5.8h.4v5.8h.2v-5.8h.6v5.8h.1v5.9h.4v-5.9h.4v5.9h.1v-5.9h.3v-5.8h.2v5.8h.7v5.9h.2v-5.9h.5v-5.8h.5v5.8h.2v5.9h.2v-5.9h.4v-5.8h.1v5.8h.2v5.9h.1v-5.9h.1v5.9h.2v-5.9h.1v-5.8h.1v5.8h.1v5.9h.3v-5.9h.2v-5.8h.3v5.8h.2v-5.8h.2v5.8h.6v-5.8h.1v5.8h.1v5.9h.6v-5.9h.1v5.9h.1v-5.9h.1v-5.8h.6v5.8h.6v-5.8h.3v5.8h.2v5.9h.2v-5.9h.3v-5.8h.2v5.8h.1v5.9h.2v-5.9h.4v-5.8h.2v5.8h.1v-5.8h.1v5.8h.5v5.9h.4v-5.9h.2v5.9h.1v-5.9h.3v-5.8h.6v5.8h.1v5.9h.2v-5.9h.2v5.9h.1v-5.9h.1v-5.8h.6v5.8h.3v-5.8h.2v5.8h.1v5.9h.3v-5.9h.2v5.9h.2v-5.9h.1v5.9h.2v-11.7h.3v5.8h.2v-5.8h.1v-5.8h.1v5.8h.3v-5.8h.3v5.8h.1v5.8h.1v-5.8h.1v-5.8h.3v5.8h.2v-5.8h.3v5.8h.4v-5.8h.2v5.8h.1v-5.8h.2v5.8h.1v5.8h.3v-5.8h.2v-5.8h.1v5.8h.1v5.8h.2v-5.8h.2v-5.8h.4v5.8h.6v-5.8h.2v5.8h.2v-5.8h.1v5.8h.2v-5.8h.2v5.8h.1v5.8h.4v-5.8h.1v-5.8h.5v5.8h.2v5.8h.5v-5.8h.3v-5.8h.2v5.8h.3v5.8h.3v-5.8h.2v5.8h.1v-5.8h.3v-5.8h.1v5.8h.3v-5.8h.4v5.8h.4v5.8h.2v-5.8h.2v-5.8h.1v5.8h.3v5.8h.4v-5.8h.1v5.8h.1v-5.8h.1v5.8h.1v-5.8h.1v5.8h.1v-5.8h.3v5.8h.3v-5.8h.4v5.8h.5v-5.8h.8v-5.8h.8v5.8h.2v-5.8h.1v5.8h.2v5.8h.1v-5.8h.1v-5.8h.2v5.8h.2v-5.8h.3v5.8h.6v5.8h.3v-5.8h.1v-5.8h.3v5.8h.4v5.8h.3v-5.8h.4v-5.8h1.1v5.8h.2v5.8h.3v-5.8h.2v5.8h.2v-5.8h.3v5.8h.2v-5.8h.2v5.8h.2v-5.8h.2v-5.8h.1v5.8h.6v-5.8h.1v5.8h.2v5.8h.2v-5.8h.7v-5.8h.1v5.8h.3v-5.8h.1v5.8h.1v5.8h.1v-5.8h.1v5.8h.7v-5.8h.1v-5.8h.1v5.8h.6v5.8h.2v-5.8h.3v5.8h.1v-5.8h.1v-5.8h.1v5.8h.1v-5.8h.1v5.8h.2v-5.8h.2v5.8h.2v5.8h.1v-5.8h.2v-5.8h.6v5.8h.4v5.8h.1v-5.8h.2v-5.8h.1v5.8h.5v5.8h.3v-5.8h.3v5.8h.1v-5.8h.1v-5.8h.1v5.8h.3v-5.8h.2v5.8h.1v5.8h.1v-5.8h.1v-5.8h.1v5.8h.1v5.8h.1v-5.8h.4v5.8h.5v-5.8h.3v-5.8h.2v5.8h.6v5.8h.1v-5.8h.1v5.8h.3v-5.8h.1v-5.8h.5v5.8h.2v-5.8h.3v5.8h.1v5.8h.1v-5.8h1v5.8h.5v-5.8h.8v5.8h.8v-5.8h.1v-5.8h.1v5.8h.5v5.8h.4v-5.8h.4v-5.8h.2v5.8h.1v5.8h.7v-5.8h.4v5.8h.1v-5.8h.1v-5.8h.1v5.8h.5v5.8h.1v-5.8h.4v5.8h.1v-5.8h.7v5.8h.3v-5.8h.2v-5.8h.1v5.8h.2v-5.8h.5v5.8h.1v5.8h.1v-5.8h.5v-5.8h.5v5.8h.4v-5.8h.1v5.8h1.1v5.8h.9v-5.8h.2v-5.8h.5v5.8h.3v-5.8h.9v5.8h.6v5.8h.2v-5.8h.5v5.8h.2v-5.8h.4v-5.8h.4v5.8h1.1v5.8h.1v-5.8h.6v-5.8h.3v5.8h.2v5.8h.1v-5.8h.6v-5.8h.1v5.8h.8v-5.8h.5v5.8h.5v-5.8h.3v5.8h.1v5.8h.1v-5.8h.3v-5.8h.2v5.8h.3v-5.8h.1v5.8h.1v-5.8h.4v5.8h.5v-5.8h.2v5.8h.1v-5.8h.1v5.8h.3v-5.8h.7v5.8h.2v5.8h.1v-5.8h.2v-5.8h.1v5.8h.5v-5.8h.2v5.8h.2v5.8h.5v-5.8h.3v5.8h.4v-5.8h.1v-5.8h.1v5.8h.2v-5.8h.4v5.8h.4v-5.8h.1v5.8h.1v5.8h.6v-5.8h.5v-5.8h.9v5.8h.1v-5.8h.3v5.8h.1v5.8h.1v-5.8h.2v5.8h.1v-5.8h.1v-5.8h.4v5.8h.4v5.8h.2v-5.8h.4v-5.8h.1v5.8h.2v5.8h.4v-5.8h.1v5.8h.7v-5.8h.1v5.8h.3v-5.8h.2v5.8h.1v-5.8h.4v5.8h.2v-5.8h.3v-5.8h.1v5.8h.8v5.8h.1v-5.8h.1v5.8h.1v-5.8h.3v-5.8h.1v5.8h.1v-5.8h.3v5.8h.2v5.8h.3v-5.8h.1v5.8h.2v-5.8h.2v5.8h.2v-5.8h.1v5.8h.3v-5.8h.1v5.8h.4v-5.8h.2v5.8h.2v-5.8h.2v-5.8h.1v5.8h.1v-5.8h.1v5.8h.8v-5.8h.1v5.8h.3v5.8h.3v-5.8h.6v-5.8h.5v5.8h.2v-5.8h.1v5.8h.2v-5.8h.2v5.8h.4v5.8h.2v-5.8h.4v-5.8h.5v5.8h.1v-5.8h.1v5.8h.2v-5.8h.2v5.8h.1v5.8h.1v-5.8h.6v5.8h.2v-5.8h.1v5.8h.1v-5.8h.1v-5.8h.4v5.8h.1v5.8h.1v-5.8h.3" fill="none" stroke="#d4a010" stroke-width="1.15" stroke-linejoin="round"/>
<path d="M292.2 418.4h7.6v-5.8h.7v5.8h11.5v-5.8h.4v5.8h17.6v-5.8h.2v5.8h5v-5.8h1.7v5.8h2v-5.8h.4v5.8h6.3v-5.8h1.1v5.8h.5v-5.8h.2v5.8h1.5v-5.8h.2v5.8h5.4v-5.8h.3v5.8h.6v-5.8h.7v5.8h5.2v-5.8h.2v5.8h10.2v-5.8h.2v5.8h14.1v-5.8h.5v5.8h4.1v-5.8h.4v5.8h3.1v-5.8h.2v5.8h6.5v-5.8h.4v5.8h.7v-5.8h.4v5.8h4.8v-5.8h1.1v5.8h1.5v-5.8h.7v5.8h.6v-5.8h.2v5.8h1.1v-5.8h.2v5.8h1.5v-5.8h.7v5.8h1.3v-5.8h.2v5.8h1.8v-5.8h.2v5.8h3.9v-5.8h.2v5.8h1.1v-5.8h.2v5.8h.2v-5.8h.7v5.8h1.9v-5.8h.9v5.8h1.3v-5.8h.2v5.8h.5v-5.8h.2v5.8h.4v-5.8h.4v5.8h.9v-5.8h.2v5.8h2.4v-5.8h.4v5.8h1.8v-5.8h.6v5.8h.7v-5.8h.9v5.8h.2v-5.8h.2v5.8h.4v-5.8h.2v5.8h1.1v-5.8h.9v5.8h1.5v-5.8h.5v5.8h.4v-5.8h.4v5.8h3.9v-5.8h.2v5.8h4v-5.8h.2v5.8h.8v-5.8h1.1v5.8h4.6v-5.8h.6v5.8h1.3v-5.8h.3v5.8h3.4v-5.8h.3v5.8h2.3v-5.8h.3v5.8h.4v-5.8h.2v5.8h1.1v-5.8h.2v5.8h3.5v-5.8h.4v5.8h1.1v-5.8h.7v5.8h.2v-5.8h.2v5.8h2.2v-5.8h.6v5.8h2.8v-5.8h.3v5.8h4.3v-5.8h.2v5.8h1.5v-5.8h.5v5.8h.8v-5.8h.7v5.8h.9v-5.8h.4v5.8h.2v-5.8h.7v5.8h3v-5.8h.4v5.8h.5v-5.8h.4v5.8h.5v-5.8h.4v5.8h1.3v-5.8h.2v5.8h.4v-5.8h.3v5.8h.2v-5.8h.4v5.8h6.7v-5.8h.3v5.8h2.8v-5.8h.2" fill="none" stroke="#20c8d0" stroke-width="1.15" stroke-linejoin="round"/>
<path d="M292.2 418.4h54.3v-17.5h1.1v-5.8h1.3v5.8h15.8v5.8h.5v-5.8h11.7v-5.8h.4v5.8h2.9v-5.8h.6v5.8h6.8v5.8h.2v-5.8h19.3v5.8h.2v-5.8h.9v-5.8h.2v5.8h7.6v5.8h.4v-5.8h17v-5.8h.2v5.8h.6v-5.8h1.1v5.8h8.9v5.8h.3v-5.8h4.3v5.8h.2v-5.8h14.6v5.8h.6v-5.8h3.3v-5.8h.6v5.8h8.7v-5.8h.5v5.8h6.3v-5.8h.4v5.8h3.5v-5.8h.2v5.8h5.6v-15.9h.2v4.2h.9v-4.2h1.8v4.2h.4v-4.2h.2v4.2h.4v-4.2h.3v4.2h.4v-4.2h.2v4.2h.2v-4.2h.5v4.2h.4v-4.2h.2v4.2h.2v-4.2h.2v4.2h1.3v-4.2h.3v4.2h.2v-4.2h.6v4.2h.2v-4.2h.5v4.2h.6v-4.2h.3v4.2h.4v-4.2h.2v4.2h.7v-4.2h.6v4.2h.2v-4.2h.5v4.2h.2v-4.2h.8v4.2h.3v-4.2h1v4.2h.7v-4.2" fill="none" stroke="#7a4050" stroke-width="1.15" stroke-linejoin="round"/>
<path d="M292.2 418.4h3.3v-5.8h.1v5.8h2.9v-5.8h.1v5.8h2.1v-5.8h.1v5.8h21.3v-5.8h.1v5.8h5v-5.8h.1v5.8h1.3v-5.8h.1v5.8h5.5v-5.8h.1v5.8h1v-5.8h.1v5.8h10.2v-5.8h.1v5.8h12.1v-5.8h.1v5.8h.1v-5.8h.1v-5.9h.5v5.9h.1v-5.9h.3v5.9h.1v-5.9h.1v5.9h.1v5.8h.4v-5.8h.2v-5.9h.3v5.9h.4v-5.9h.3v5.9h.5v-5.9h.7v5.9h.9v5.8h.2v-5.8h1.1v5.8h.1v-5.8h.5v-5.9h.8v5.9h.7v-5.9h.1v5.9h.1v5.8h.1v-5.8h.1v-5.9h.1v5.9h.1v-5.9h.2v5.9h.3v-5.9h.1v5.9h.1v-5.9h.2v5.9h.3v5.8h.1v-5.8h.1v5.8h.1v-5.8h1v5.8h.6v-5.8h.4v-5.9h.5v5.9h.5v-5.9h.2v5.9h.5v-5.9h.4v5.9h.2v5.8h.1v-5.8h.2v-5.9h.5v5.9h.2v5.8h.2v-5.8h.1v5.8h.5v-5.8h.6v-5.9h.2v5.9h.1v-5.9h.4v5.9h.4v-5.9h.1v5.9h.1v5.8h.1v-5.8h.1v5.8h.8v-5.8h.1v5.8h.1v-5.8h.3v-5.9h.4v5.9h.1v5.8h.7v-5.8h.2v-5.9h.7v5.9h.1v5.8h.3v-5.8h.1v5.8h.5v-5.8h.2v-5.9h.2v5.9h.4v-5.9h.1v5.9h.2v5.8h.4v-5.8h.8v5.8h.1v-5.8h.2v5.8h1.2v-5.8h.2v5.8h.1v-5.8h.1v5.8h.5v-5.8h.3v5.8h.1v-5.8h.2v-5.9h.2v5.9h.2v-5.9h.3v5.9h.3v5.8h.3v-5.8h.1v-5.9h.2v5.9h.3v-5.9h.1v5.9h.3v5.8h.2v-5.8h.3v5.8h.1v-5.8h.2v5.8h.3v-5.8h.1v5.8h.4v-5.8h.2v-5.9h.2v5.9h.3v5.8h.9v-5.8h.4v-5.9h.1v5.9h.7v5.8h.3v-5.8h.1v5.8h.5v-5.8h.4v5.8h.1v-5.8h.4v-5.9h.8v5.9h.3v-5.9h.3v5.9h.2v-5.9h.2v5.9h.4v5.8h.1v-5.8h.2v5.8h.1v-5.8h.4v5.8h.2v-5.8h.5v5.8h.1v-5.8h.1v-5.9h.2v5.9h.5v-5.9h.6v5.9h.3v5.8h.4v-17.5h.3v5.8h.1v-5.8h.3v5.8h.1v-5.8h.1v5.8h.1v-5.8h.5v5.8h.2v-5.8h.1v5.8h.4v5.9h.2v-5.9h.1v5.9h.6v-5.9h.4v-5.8h.6v5.8h.2v5.9h.3v-5.9h.2v5.9h.2v-5.9h.2v-5.8h.1v5.8h.1v5.9h.1v-5.9h.1v-5.8h.3v5.8h.1v5.9h.1v-5.9h.2v5.9h.3v-5.9h.1v5.9h.3v-5.9h.1v5.9h.2v-5.9h.2v-5.8h.5v5.8h.1v5.9h.7v-5.9h.2v-5.8h.1v5.8h.2v5.9h.1v-5.9h.2v-5.8h.7v5.8h.2v-5.8h.1v5.8h.4v-5.8h.1v5.8h.1v5.9h.2v-5.9h.2v-5.8h.1v5.8h.1v-5.8h.3v5.8h.3v-5.8h.1v5.8h.1v5.9h.4v-5.9h.1v5.9h.3v-5.9h.1v5.9h.3v-5.9h.1v-5.8h.1v5.8h.2v-5.8h.1v5.8h.5v-5.8h.1v5.8h.4v5.9h.6v-5.9h.2v5.9h.1v-5.9h.1v-5.8h.2v5.8h.4v-5.8h.2v5.8h.6v-5.8h.4v5.8h1.1v-5.8h.3v5.8h.7v5.9h.1v-5.9h.1v5.9h.5v-5.9h.2v5.9h.1v-5.9h.1v5.9h.4v-5.9h.1v5.9h.4v-5.9h.1v-5.8h.3v5.8h.1v5.9h.5v-5.9h.3v-5.8h.2v5.8h.2v5.9h.2v-5.9h.6v5.9h.2v-5.9h.1v5.9h.6v-5.9h.2v5.9h.2v-5.9h.5v5.9h.2v-5.9h.3v5.9h.4v-5.9h.1v5.9h.5v-5.9h.2v5.9h.1v-5.9h.7v5.9h.5v-5.9h.9v5.9h.1v-5.9h.1v-5.8h.1v5.8h.3v5.9h.1v-5.9h.5v5.9h.2v-5.9h.3v5.9h.6v-5.9h.1v-5.8h.9v5.8h.2v5.9h.2v-5.9h.5v5.9h.6v-5.9h.1v-5.8h.2v5.8h.2v5.9h.1v-5.9h.4v-5.8h.2v5.8h.1v5.9h.4v-5.9h.2v-5.8h.3v5.8h.1v-5.8h.4v5.8h.2v5.9h.7v-5.9h.5v5.9h.2v-5.9h.1v5.9h.5v-5.9h.3v5.9h.4v-5.9h.1v5.9h.3v-5.9h.2v-5.8h.1v5.8h.3v5.9h.3v-5.9h.1v-5.8h.5v5.8h.3v-5.8h.1v5.8h.1v-5.8h.1v5.8h.1v-5.8h.7v-5.8h.3v5.8h.2v-5.8h.1v5.8h.2v-5.8h.1v5.8h.4v-5.8h.9v5.8h.4v-5.8h.1v5.8h.1v5.8h.1v-5.8h.3v-5.8h.2v5.8h.2v-5.8h.4v5.8h.2v-5.8h.4v5.8h.3v5.8h.1v-5.8h.2v-5.8h.4v5.8h.3v-5.8h.1v5.8h.3v5.8h.3v-5.8h.3v5.8h.3v-5.8h.1v5.8h.1v-5.8h1v-5.8h.2v5.8h.1v5.8h.1v-5.8h.1v-5.8h.1v5.8h.1v5.8h.4v-5.8h.4v5.8h.1v-5.8h.5v-5.8h.1v5.8h.1v-5.8h.4v5.8h.1v5.8h.1v-5.8h.3v5.8h1v-5.8h.6v-5.8h.3v5.8h.1v-5.8h.4v5.8h.3v-5.8h.5v5.8h.2v5.8h.4v-5.8h.1v-5.8h.3v5.8h.5v-5.8h.2v5.8h.1v5.8h.1v-5.8h.1v5.8h.1v-5.8h.9v-5.8h.1v5.8h.4v-5.8h.8v5.8h.1v-5.8h.4v5.8h.3v5.8h.2v-5.8h.4v5.8h.2v-5.8h.5v5.8h.1v-5.8h.1v5.8h.2v-5.8h.1v5.8h.3v-5.8h.3v-5.8h.1v5.8h.1v-5.8h.2v5.8h.1v-5.8h.1v5.8h.1v-5.8h.8v5.8h.5v-5.8h.3v5.8h.4v-5.8h.1v5.8h.1v-5.8h.3v5.8h.1v-5.8h.2v5.8h.3v5.8h.1v-5.8h.1v-5.8h.1v5.8h.1v5.8h.1v-5.8h.1v-5.8h.4v5.8h.2v-5.8h.2v5.8h.1v5.8h.3v-5.8h.8v5.8h.1v-5.8h.5v-5.8h.4v5.8h.3v5.8h.1v-5.8h.6v5.8h.5v-5.8h.1v5.8h.3v-5.8h.4v-5.8h.7v5.8h.1v5.8h.4v-5.8h.6v-5.8h.6v5.8h.1v5.8h.2v-5.8h.6v5.8h.1v-5.8h.2v-5.8h.9v5.8h.8v5.8h.2v-5.8h.4v5.8h.1v-5.8h.1v-5.8h.3v5.8h.3v-5.8h.3v5.8h.2v5.8h.1v-5.8h.4v5.8h.1v-5.8h.2v5.8h.3v-5.8h.1v-5.8h.8v5.8h.2v5.8h.3v-5.8h.1v-5.8h.4v5.8h.3v-5.8h.1v5.8h.1v5.8h.1v-5.8h.1v-5.8h.1v5.8h.1v-5.8h.1v5.8h.1v-5.8h.2v5.8h.4v-5.8h.5v5.8h.2v5.8h1.1v-5.8h.8v-5.8h.1v5.8h.1v-5.8h.1v5.8h.1v-5.8h.1v5.8h.4v-5.8h.2v5.8h.3v5.8h.1v-5.8h.2v-5.8h.1v5.8h.2v-5.8h.1v5.8h.2v5.8h.2v-5.8h.4v5.8h.3v-5.8h.5v-5.8h.1v5.8h.1v5.8h.2v-5.8h.4v5.8h.3v-5.8h.1v-5.8h.3v5.8h.1v5.8h.3v-5.8h.1v-5.8h.1v5.8h.3v-5.8h.1v5.8h.3v-5.8h.1v5.8h.1v5.8h.4v-5.8h.1v-5.8h.4v5.8h.2v5.8h.1v-5.8h.4v5.8h.3v-5.8h.1v5.8h.2v-5.8h.1v-5.8h.2v5.8h.2v5.8h.2v-5.8h.4v-5.8h.1v5.8h.1v5.8h.2v-5.8h.1v-5.8h.1v5.8h.3v-5.8h.5v5.8h.1v-5.8h.1v5.8h.1v-5.8h.1v5.8h.6v5.8h.4v-5.8h.1v-5.8h.2v5.8h.2v-5.8h.1v5.8h.4v-5.8h.3v5.8h.5v-5.8h.1v5.8h.2v-5.8h.1v5.8h.1v-5.8h.4v5.8h.2v5.8h.2v-5.8h.1v5.8h.2v-5.8h.1v5.8h.3v-5.8h.2v-5.8h.1v5.8h.1v-5.8h.9v5.8h.1" fill="none" stroke="#9a9a0a" stroke-width="1.15" stroke-linejoin="round"/>
<path d="M292.2 418.4h34.3v-11.7h2.6v-5.8h11.3v-11.7h7v-11.7h23v-5.8h1.7v-11.7h1.8v-10h.2v4.2h.9v-4.2h.8v4.2h.2v-4.2h.7v4.2h.9v-4.2h.4v4.2h.4v-4.2h.2v4.2h1.1v-4.2h.7v4.2h.2v-4.2h.2v4.2h.2v-4.2h.9v4.2h.7v-4.2h.2v4.2h.4v-4.2h.4v4.2h.3v-4.2h.2v4.2h.6v-4.2h.2v4.2h.5v-4.2h.2v4.2h.2v-4.2h.4v4.2h.5v-4.2h1.1v4.2h.2v-4.2h.4v4.2h.2v-4.2h1.1v4.2h.5v-4.2h.4v4.2h.4v-4.2h.2v4.2h.3v-4.2h.2v4.2h.4v-4.2h.4v4.2h.7v-4.2h.2v4.2h.2v-10h.2v4.2h.9v-4.2h.2v4.2h1.1v-4.2h.2v4.2h.7v-4.2h.2v4.2h.7v-4.2h.6v4.2h.4v-4.2h.3v4.2h.2v-4.2h.2v4.2h.2v-4.2h.9v-7.5h.2v-4.2h1.5v4.2h.5v-4.2h.2v4.2h.2v-4.2h.2v4.2h.2v-4.2h.5v4.2h.2v-4.2h.2v4.2h.2v-4.2h.2v4.2h.7v-4.2h.2v4.2h.4v-4.2h.2v4.2h.3v-4.2h.8v-5.9h.5v4.2h.4v-4.2h.4v4.2h1.1v-4.2h.2v4.2h.3v-4.2h.2v4.2h.2v-4.2h.2v4.2h.2v-4.2h.5v4.2h.2v-4.2h.2v4.2h.4v-15.8h.2v4.2h.5v-4.2h.2v4.2h.2v-4.2h.4v4.2h.3v-4.2h.2v4.2h.6v-4.2h.5v4.2h.2v-4.2h.4v4.2h.7v-4.2h.2v4.2h.2v-4.2h.2v4.2h.9v-4.2h.6v4.2h.3v-4.2h.2v4.2h.4v-4.2h.9v4.2h.4v-11.7h.7v-4.2h.8v4.2h1.1v-4.2h.7v4.2h.2v-4.2h.6v4.2h.5v-4.2h.2v4.2h1.1v-4.2h.4v4.2h.5v-4.2h.6v-5.8h.2v4.2h.2v-4.2h.3v4.2h.4v-4.2h.2v4.2h.2v-4.2h.5v4.2h.6v-4.2h.2v4.2h.2v-4.2h1.3v4.2h.5v-4.2h.2v4.2h.4v-4.2h.5v4.2h.6v-4.2h.5v4.2h1.5v-4.2h.2v4.2h.6v-4.2h.5v4.2h.2v-11.7h.9v-5.8h.2v-4.2h.2v4.2h.2v-4.2h.2v4.2h.5v-4.2h.6v4.2h.9v-4.2h.2v4.2h.2v-4.2h.2v4.2h.3v-4.2h.2v4.2h.4v-4.2h.4v4.2h.3v-4.2h.2v4.2h1.1v-4.2h.2v4.2h.6v-4.2h.2v4.2h.3v-4.2h.2v4.2h1.1v-4.2h.6v4.2h.2v-4.2h.5v4.2h.2v-4.2h.2v4.2h.7v-4.2h1.3v4.2h.2v-10.1h.6v4.2h.5v-4.2h.2v4.2h.2v-4.2h.2v4.2h.7v-4.2h.2v4.2h.2v-4.2h.7v4.2h.2v-4.2h.8v4.2h.3v-4.2h.2v4.2h.4v-4.2h.7v4.2h.6v-4.2h.2v4.2h.2v-4.2h.5v4.2h.2v-4.2h.2v4.2h.4v-4.2h.5v4.2h.2v-4.2h.2v4.2h.2v-4.2h.7v4.2h.2v-4.2h.2v4.2h.5v-4.2h.6v4.2h.7v-4.2h.8v4.2h.2v-4.2h.3v4.2h.2v-4.2h.2v4.2h.4v-4.2h1.1v4.2h.4v-4.2h.9v4.2h.5v-4.2h.2v4.2h.2v-4.2h.4v4.2h.2v-4.2h.3v4.2h.2v-4.2h.6v4.2h.2v-4.2h.3v4.2h.2v-4.2h.2v4.2h.2v-4.2h.9v4.2h.2v-4.2h1.3v4.2h.2v-4.2h.5v4.2h.2v-4.2h.2v4.2h.4v-4.2h.2v4.2h.5v-4.2h.2v4.2h.9v-15.9h.4v4.2h.4v-4.2h.2v4.2h.5v-4.2h.4v4.2h.4v-4.2h.5v4.2h.2v-4.2h.2v4.2h1.1v-4.2h.7v4.2h.2v-4.2h.4v4.2h.9v-4.2h.4v4.2h.2v-4.2h.2v4.2h.3v-4.2h.2v4.2h.4v-4.2h.2v4.2h.5v-4.2h.2v4.2h.6v-4.2h.5v4.2h.4v-4.2h.4v4.2h.3v-4.2h.4v4.2h.6v-4.2h.3v4.2h1.7v-5.8h1.1v5.8h1.5v5.9h.2v-5.9h.5v5.9h.4v-5.9h.2v5.9h.7v-5.9h1v-5.8h.5v5.8h.6v-5.8h.2v5.8h.3v-5.8h.2v5.8h.4v-5.8h8.7" fill="none" stroke="#ff6a10" stroke-width="1.15" stroke-linejoin="round"/>
</svg>
<svg x="291.8" y="482.4" width="216.7" height="175.8" viewBox="291.8 482.4 216.7 175.8" overflow="hidden">
<path d="M291.8 658.2h1.5v-7.9h.2v7.9h11.1v-7.9h.2v7.9h21.9v-7.9h.2v7.9h4.6v-7.9h.2v7.9h30.1v-7.9h.2v7.9h16.5v-31.6h1.5v-7.9h.4v7.9h2.6v-7.9h.7v7.9h.2v-7.9h.9v7.9h1.3v-7.9h.2v7.9h1.5v-7.9h.4v7.9h6.1v-7.9h.2v7.9h5.2v-7.9h.2v7.9h1.6v-7.9h.2v7.9h9.9v-7.9h.3v7.9h6.2v-7.9h.7v7.9h1.3v-7.9h.6v7.9h1.6v-7.9h.4v7.9h3.2v-7.9h.3v7.9h2.8v-7.9h.4v7.9h3.9v-7.9h.4v7.9h5.5v-7.9h.2v7.9h6.3v-7.9h.2v7.9h.6v-7.9h.5v7.9h.4v-7.9h.2v7.9h.4v-7.9h.3v7.9h3.2v-7.9h.4v7.9h.5v-7.9h.4v7.9h.2v-7.9h.2v7.9h1.8v-7.9h.4v7.9h12.6v-7.9h.4v7.9h2.2v-7.9h.6v7.9h5.9v-7.9h.2v7.9h.6v-7.9h.3v7.9h.2v-7.9h.2v7.9h.9v-7.9h.2v7.9h1.3v-7.9h.4v7.9h.9v-7.9h.2v7.9h.9v-7.9h.4v7.9h5.6v-7.9h.2v7.9h3.9v-7.9h.3v7.9h.4v-7.9h.4v7.9h9.8v-7.9h.4v7.9h.4v-7.9h.5v7.9h1.1v-7.9h.4v7.9h1.3" fill="none" stroke="#4a4a4a" stroke-width="1.15" stroke-linejoin="round"/>
<path d="M291.8 658.2h86.7v-23.7h1.1v-7.9h.6v7.9h.2v-7.9h.2v7.9h2.9v-7.9h.2v7.9h1.1v-7.9h.2v7.9h1.1v-7.9h.2v7.9h.8v-7.9h.3v7.9h1.3v-7.9h.2v7.9h.2v-7.9h.2v7.9h.7v-7.9h.2v7.9h.2v-7.9h.6v7.9h1.3v-7.9h1.1v7.9h1.5v-7.9h.5v7.9h.6v-7.9h.5v7.9h1.5v-7.9h.6v7.9h.7v-7.9h.6v7.9h.9v-7.9h.9v7.9h.4v-7.9h1.1v7.9h1.1v-7.9h.2v7.9h1.7v-23.7h5.4v-7.9h.7v7.9h4.5v-7.9h.3v7.9h4.1v7.9h.2v-5.7h.2v5.7h.2v-5.7h.5v5.7h.6v-5.7h.2v5.7h.5v-5.7h.2v5.7h.2v-5.7h.2v5.7h.2v-5.7h.2v5.7h.3v-5.7h.2v5.7h1.1v-5.7h.2v5.7h1.3v-5.7h.4v5.7h.7v-5.7h.4v5.7h.4v-5.7h.5v5.7h.2v-5.7h.4v5.7h.2v-5.7h.2v5.7h.5v-5.7h.2v-18h.2v-5.7h1.1v5.7h.6v-5.7h.3v5.7h.2v-5.7h.4v5.7h.2v-5.7h.5v5.7h1.3v-5.7h.2v5.7h.8v-5.7h.5v5.7h.4v-5.7h.4v5.7h.3v-5.7h.4v5.7h.2v-5.7h.9v5.7h.4v-5.7h1.3v5.7h.4v-5.7h.5v5.7h.2v-5.7h.4v5.7h.2v-5.7h.5v7.9h.2v5.7h.2v-5.7h.2v5.7h.2v-5.7h.9v5.7h2v-5.7h.2v5.7h.6v-5.7h.7v5.7h1.3v7.9h3v7.9h.2v-7.9h.5v7.9h.2v-7.9h2.1v7.9h1.1v-7.9h1.1v7.9h.2v-7.9h4.4v7.9h.4v-7.9h1.9v7.9h.5v-7.9h2.8v7.9h.2v-7.9h2.4v7.9h.2v-7.9h2.2v7.9h.2v-7.9h1.3v-7.9h.4v7.9h1.3v-7.9h.5v7.9h.2v-7.9h.2v7.9h1.9v-7.9h.3v7.9h3.4v-7.9h.5v7.9h.4v-7.9h.4v7.9h.9v-7.9h.2v7.9h.2v-7.9h.2v7.9h.7v-7.9h.2v7.9h.7v-7.9h.4v7.9h.2v-15.8h.2v-7.9h1.3v7.9h.5v-7.9h.2v7.9h2.4v-7.9h.2v7.9h.2v-7.9h.2v7.9h1.3v-7.9h.4v7.9h1.6v-15.8h.2v-5.7h.2v5.7h.2v-5.7h.2v5.7h1.5v-5.7h.9v5.7h.4v-5.7h.5v5.7h1.3v-5.7h.6v5.7h1.5v7.9h.3v-5.7h.2v5.7h.6v-5.7h.5v5.7h.6v-5.7h.2v5.7h.9" fill="none" stroke="#e04050" stroke-width="1.15" stroke-linejoin="round"/>
<path d="M291.8 658.2h86.7v-31.6h2.8v7.9h.6v-7.9h.5v7.9h.2v-7.9h3v7.9h.2v-7.9h6.3v7.9h.9v-7.9h2.2v7.9h.2v-7.9h1.1v7.9h.2v-7.9h3v7.9h.7v-7.9h4.1v7.9h22.3v-7.9h.2v7.9h14.1v-7.9h.7v7.9h8.4v-7.9h.9v7.9h11.7v-7.9h.2v7.9h7.1v-7.9h.5v7.9h36.6v-7.9h.2v7.9h1.1" fill="none" stroke="#2a62c8" stroke-width="1.15" stroke-linejoin="round"/>
<path d="M291.8 658.2h91v-23.7h2.8v-7.9h.9v7.9h9.7v-7.9h.3v7.9h.4v-7.9h.2v7.9h11.5v-7.9h.2v7.9h5.4v-7.9h.3v7.9h2.8v-7.9h.2v7.9h2.6v-7.9h.2v7.9h.4v-7.9h.3v7.9h.8v-15.8h2.4v7.9h.2v-7.9h3.3v7.9h.4v-7.9h2.2v7.9h.2v-7.9h.4v7.9h.2v-7.9h6.1v7.9h.4v-7.9h4.6v7.9h.4v-7.9h6.1v7.9h.2v-7.9h.2v7.9h.5v-7.9h.2v7.9h.4v-7.9h12.8v-7.9h.6v7.9h.3v-7.9h.4v7.9h.9v-7.9h1.7v7.9h.2v-7.9h3.9v7.9h.4v-7.9h3.5v7.9h.2v-7.9h3.5v-7.9h.2v-5.7h.9v5.7h.4v-5.7h.2v5.7h.7v-5.7h.8v5.7h.3v-5.7h.2v5.7h.4v-5.7h.2v5.7h1.8v-5.7h.6v5.7h.4v-5.7h.3v5.7h.6v-5.7h.2v5.7h.7v-5.7h.2v5.7h.2v-5.7h.7v5.7h.6v-5.7h.4v5.7h.5v-5.7h.6v5.7h.5v-5.7h.8v5.7h1.3v-5.7h.5v5.7h.6v-5.7h.2v5.7h.5v-5.7h.4v5.7h.2v-5.7h.4v5.7h1.3v-5.7h.5v5.7h.4v-5.7h1.1v5.7h2.4v-5.7h.2v5.7h2.6v-5.7h.4v5.7h1.3v-7.9h2.2" fill="none" stroke="#2aa05a" stroke-width="1.15" stroke-linejoin="round"/>
<path d="M291.8 658.2h27.1v-7.9h.2v7.9h7.4v-7.9h.2v7.9h5.2v-7.9h.4v7.9h2.6v-7.9h.5v7.9h.4v-7.9h.2v7.9h14.5v-7.9h.2v7.9h3.3v-7.9h1.1v7.9h.4v-7.9h.2v7.9h22.8v-15.8h.2v-7.9h.2v7.9h.2v-7.9h.7v7.9h2.8v-7.9h.4v7.9h2.8v-7.9h.3v7.9h1.7v-7.9h.4v7.9h.5v-7.9h.4v7.9h.4v-7.9h.7v7.9h1.3v-7.9h.2v7.9h.6v-7.9h.3v7.9h3.4v-7.9h.7v7.9h.2v-7.9h.6v7.9h.5v-7.9h.2v7.9h2v-7.9h.4v7.9h1.5v-7.9h.2v7.9h7.6v-7.9h.4v7.9h2.6v-7.9h.3v-23.7h.6v7.9h2v-7.9h.2v7.9h2.4v-7.9h.6v7.9h.2v-7.9h.9v7.9h5.8v-7.9h.5v7.9h.6v-7.9h.7v-7.9h.2v-15.8h.6v15.8h1.8v-7.9h.8v7.9h.3v-7.9h.8v7.9h3.5v-15.8h1.3v15.8h1.1v-15.8h.4v15.8h1.3v-15.8h.4v15.8h1.8v-7.9h.2v7.9h.2v7.9h1.1v-7.9h.4v7.9h1.1v-7.9h.2v7.9h.7v-7.9h.2v7.9h3.7v-7.9h.2v-15.8h.2v7.9h.2v-7.9h2v7.9h.2v-7.9h1.5v7.9h2.4v-13.6h1.3v5.7h.4v-5.7h.2v5.7h.7v-5.7h.6v5.7h.3v-5.7h.8v5.7h.2v-5.7h.9v37.3h.7v-7.9h3v7.9h.4v-7.9h1.8v7.9h.2v-7.9h.8v7.9h.3v-7.9h.4v7.9h.2v-7.9h3.5v7.9h.2v-7.9h3.5v7.9h.2v-7.9h.4v7.9h.7v-7.9h.4v-7.9h10.8v15.8h2.2v-7.9h.4v7.9h.9v-7.9h.2v7.9h.4v-7.9h.5v7.9h1.1v-7.9h.2v7.9h1.5v-7.9h.4v7.9h2v-7.9h.2v7.9h1.7v-7.9h.5v7.9h.2v-7.9h.8v7.9h4.6v-7.9h.4v7.9h.5v-7.9h.4v7.9" fill="none" stroke="#b070e0" stroke-width="1.15" stroke-linejoin="round"/>
<path d="M291.8 658.2h33v-7.9h.2v7.9h.1v-7.9h.1v7.9h1.2v-7.9h.3v7.9h.9v-7.9h.6v7.9h1.5v-7.9h.1v7.9h1.8v-7.9h.1v7.9h1.4v-7.9h.1v7.9h.2v-7.9h.7v7.9h.1v-7.9h.7v-7.9h.3v7.9h.3v-7.9h.2v7.9h.2v7.9h.2v-7.9h.3v7.9h.4v-7.9h.1v7.9h.1v-7.9h.2v7.9h.6v-7.9h.2v7.9h.2v-7.9h.4v-7.9h.1v7.9h.7v7.9h.1v-7.9h.2v7.9h.1v-7.9h.5v-23.7h.9v7.9h.1v-7.9h.3v7.9h.3v7.9h.4v-7.9h.1v7.9h.1v-7.9h.3v7.9h.6v-7.9h.4v7.9h.2v-7.9h.2v7.9h.8v-7.9h.3v-15.8h.1v15.8h.1v7.9h.7v-7.9h.1v7.9h.4v-7.9h.1v-15.8h.3v15.8h.2v-15.8h.3v15.8h.1v7.9h.9v-7.9h.6v-7.9h.1v7.9h.4v-7.9h.1v7.9h.1v-15.8h.3v15.8h.2v-7.9h1v7.9h.1v-15.8h.1v15.8h.1v-7.9h.2v7.9h.4v7.9h.3v-7.9h.3v-15.8h.4v15.8h.2v-15.8h.5v15.8h.1v7.9h.3v-7.9h.1v-7.9h.6v7.9h.2v7.9h.4v-7.9h.1v-15.8h.1v15.8h.2v-7.9h.1v7.9h.2v-23.7h.1v7.9h.2v-15.8h.2v15.8h.1v-15.8h.1v15.8h.1v-15.8h.3v15.8h.1v7.9h.1v-7.9h.3v-7.9h.1v7.9h.2v7.9h.1v-7.9h.3v-7.9h.1v7.9h.1v-7.9h.2v7.9h.3v7.9h.1v-7.9h.5v7.9h1.1v-7.9h.3v7.9h.1v-7.9h.1v-7.9h.1v7.9h.1v-15.8h.2v15.8h.7v-7.9h.1v7.9h.1v-7.9h.6v7.9h.1v-7.9h.1v7.9h.3v-7.9h.1v7.9h.1v-15.8h.3v15.8h.3v7.9h.2v-7.9h.2v-15.8h.4v15.8h.7v-7.9h.6v7.9h.1v-15.8h.1v15.8h.2v-15.8h.1v15.8h.2v-15.8h.4v15.8h.1v7.9h.4v-7.9h.1v-7.9h.3v7.9h.3v-7.9h.3v7.9h.2v-15.8h.4v15.8h.1v7.9h.2v-7.9h.1v7.9h.3v-7.9h.1v-7.9h.4v7.9h.1v-7.9h.4v7.9h.1v-7.9h.1v7.9h.2v-7.9h.1v7.9h.4v-7.9h.1v-7.9h.2v7.9h.2v-7.9h.2v7.9h.1v7.9h.4v-7.9h.1v7.9h.6v-7.9h.5v7.9h.1v-7.9h.5v7.9h.9v-7.9h.6v23.7h.1v-7.9h.3v-7.9h.1v7.9h.2v-7.9h.1v7.9h.5v7.9h.2v-7.9h.9v-7.9h1.4v7.9h.1v7.9h.3v-7.9h.1v7.9h.3v-7.9h.1v7.9h.2v-7.9h.1v7.9h.1v-7.9h.1v7.9h.4v-7.9h.1v-7.9h.2v7.9h.3v7.9h.2v-7.9h.4v7.9h.5v-7.9h.4v-7.9h.2v7.9h.1v7.9h.1v-7.9h.2v-7.9h.2v7.9h.1v7.9h.2v-7.9h.2v-7.9h.1v7.9h.1v-7.9h.1v-15.8h.1v7.9h.1v-7.9h.2v7.9h.5v-7.9h.1v-7.9h.2v7.9h.4v-15.8h.3v15.8h.2v-15.8h.1v15.8h.1v7.9h.1v-7.9h.1v-7.9h1v7.9h.3v-7.9h.1v7.9h.1v-7.9h.5v7.9h.3v7.9h.1v-7.9h.1v-15.8h.3v15.8h.1v-7.9h.3v7.9h.1v7.9h.2v-7.9h.1v7.9h.1v-7.9h.2v-7.9h.4v7.9h.1v7.9h.4v-7.9h.1v-15.8h.1v15.8h.1v-15.8h.3v15.8h.2v-7.9h.3v7.9h.2v-7.9h.3v7.9h.3v-15.8h.2v15.8h.1v-15.8h.1v15.8h.1v-15.8h.2v15.8h.3v-7.9h.1v7.9h.2v-7.9h.1v7.9h.2v-7.9h.8v7.9h.1v7.9h.1v-7.9h.1v7.9h.4v-7.9h.3v7.9h.1v-7.9h.3v-7.9h.4v7.9h.3v7.9h.1v7.9h.1v7.9h.1v-7.9h1.4v-7.9h.2v7.9h.1v-7.9h.3v7.9h.5v-7.9h.3v7.9h.1v7.9h.1v-7.9h.1v-7.9h.1v7.9h.1v7.9h.1v-7.9h.2v7.9h.1v-7.9h.2v7.9h.5v-7.9h.1v7.9h.1v-7.9h.1v-7.9h.2v7.9h.4v7.9h.1v-7.9h.1v7.9h.2v-7.9h.3v7.9h.2v-7.9h.2v7.9h.2v7.9h.1v-7.9h.1v7.9h.3v-7.9h.4v-7.9h.1v7.9h.3v-7.9h.2v7.9h.3v7.9h.4v-7.9h.9v7.9h.2v-7.9h.2v-7.9h.1v7.9h1v-7.9h.4v7.9h.3v7.9h.1v-7.9h.8v-7.9h.1v7.9h.8v7.9h.1v-7.9h.2v7.9h.1v-7.9h1.5v7.9h.3v-7.9h.4v7.9h.7v-7.9h.3v7.9h.1v-7.9h.5v-7.9h.5v7.9h.4v-7.9h.1v7.9h.5v7.9h.1v-7.9h.1v7.9h.1v-7.9h.1v-7.9h.3v7.9h.2v-7.9h.2v7.9h.7v7.9h.1v7.9h.3v-7.9h.7v-7.9h.5v7.9h.1v-7.9h.3v7.9h.6v-7.9h.1v7.9h.1v7.9h.5v-7.9h.1v-7.9h.2v7.9h.4v7.9h.2v-7.9h.1v-7.9h.2v7.9h.5v-7.9h.1v7.9h.1v-7.9h.3v7.9h.1v-7.9h.3v7.9h.2v7.9h.2v-7.9h.1v-7.9h.1v7.9h.1v-7.9h.1v7.9h.8v7.9h.3v-7.9h.1v7.9h.8v-7.9h.2v-7.9h.1v7.9h.1v-7.9h.1v7.9h.2v7.9h.1v-7.9h.3v7.9h.4v-7.9h.2v7.9h.1v-7.9h.2v7.9h.1v-7.9h.2v15.8h.3v-7.9h.1v7.9h.3v-7.9h.6v7.9h.8v-7.9h.1v7.9h.1v-7.9h.4v7.9h.3v-7.9h.1v7.9h.5v-7.9h.1v7.9h.8v-7.9h.1v7.9h.1v-7.9h.1v7.9h.6v-7.9h.1v7.9h1.6v-7.9h.1v7.9h.2v-7.9h.1v7.9h.6v-7.9h.1v7.9h.2v-7.9h.1v7.9h.3v-7.9h.1v7.9h1.3v-7.9h.2v7.9h.1v-7.9h.1v7.9h.5v-7.9h.3v7.9h.3v-7.9h.1v7.9h.1v-7.9h.1v7.9h.1v-7.9h.2v7.9h.5v-7.9h.4v7.9h1.2v-7.9h.1v7.9h.2v-7.9h.1v7.9h.3v-7.9h.2v7.9h.1v-7.9h.3v7.9h.8v-7.9h.1v7.9h.8v-7.9h.1v7.9h.4v-7.9h.4v7.9h1.2v-7.9h.1v7.9h.1v-7.9h.1v7.9h1.5v-7.9h.3v7.9h.5v-7.9h.1v7.9h1.2v-7.9h.2v7.9h.6v-7.9h.1v7.9h.1v-7.9h.2v7.9h.9v-7.9h.1v7.9h.1v-7.9h.4v7.9h1.2v-7.9h.2v7.9h.8v-7.9h.2v7.9h.1v-7.9h.1v7.9h1.1v-7.9h.2v7.9h.4v-7.9h.1v7.9h.2v-13.6h.2v5.7h.6v-5.7h.2v5.7h.1v-5.7h.2v5.7h.1v-5.7h.3v5.7h.3v-5.7h.1v5.7h.2v-5.7h.3v5.7h.1v-5.7h.1v5.7h.2v-5.7h.1v5.7h.1v-5.7h.4v5.7h.1v-5.7h.3v5.7h.1v-5.7h.5v5.7h.1v-5.7h.5v5.7h.1v-5.7h.1v5.7h.2v-5.7h.4v5.7h.1v-5.7h.3v5.7h.2v-5.7h.1v5.7h.3v-5.7h.4v5.7h.1v-5.7h.1v5.7h.1v-5.7h.5v5.7h.3v-5.7h.3v5.7h.1v-5.7h.2v5.7h.1v-5.7h.5v5.7h.4v-5.7h.4v5.7h.7v-5.7h.1v5.7h.3v-5.7h.1v5.7h.1v-5.7h.3v5.7h.2v-5.7h.1v5.7h.1v-5.7h.1v5.7h.2v-5.7h.3v5.7h.3v-5.7h.5v5.7h.1v-5.7h.2v5.7h.1v-5.7h.1v5.7h.3v-5.7h1v5.7h.3v-5.7h.1v5.7h.2v-5.7h.1v5.7h.1v-5.7h.1v5.7h.2v-5.7h.2v5.7h.4v-5.7h.2v5.7h.2v-5.7h.2v5.7h.4v-5.7h.4v5.7h.1v-5.7h.3v5.7h.2v-5.7h.2v5.7h.3v-5.7h.1v5.7h.3v-5.7h.1v5.7h.1v-5.7h.1v5.7h.4v-5.7h.4v5.7h.1v-5.7h.1v5.7h.1v-5.7h.4v5.7h.1v-5.7h.4v5.7h.6v-5.7h.1v5.7h.1v-5.7h.5v5.7h.1v-5.7h.2v5.7h.2v-5.7h.2v5.7h.2v-5.7h.4v5.7h.5v-5.7h.1v5.7h.1v-5.7h.2v5.7h.3v-5.7h.1v5.7h.3v-5.7h.3v5.7h.7v-5.7h.1v5.7h.1v-5.7h.1v5.7h.3v-5.7h.1v5.7h.2v-5.7h.3v5.7h.3v-5.7h.3v5.7h.1v-5.7h.2v5.7h.2v-5.7h.2v5.7h.2v-5.7h.1v5.7h.3v-5.7h.1v5.7h.2v-5.7h.5v5.7h.3v-5.7h.2v5.7h.1v-5.7h.1v5.7h.1v-5.7h.1v5.7h.5v-5.7h.1v5.7h.2v-5.7h.2v5.7h.1v-5.7h.1v5.7h.1v-5.7h.1v5.7h.3v-5.7h.2v5.7h.1v-5.7h.1v5.7h.3v-5.7h.1v5.7h.2v-5.7h.2v5.7h.2v-5.7h.6v5.7h.1v-15.8h.4v5.7h.1v-5.7h.2v5.7h.1v-5.7h.5v5.7h.4v-5.7h.1v5.7h.1v-5.7h.3v5.7h.4v-5.7h.4v5.7h.1v-5.7h.2v5.7h.2v-5.7h1.2v5.7h.2v-5.7h.2v5.7h.1v-5.7h.9v5.7h.4v-5.7h.8v5.7h.2v-5.7h.3v5.7h.1v-5.7h.1v5.7h.2v-5.7h.3v5.7h.1v-5.7h.1" fill="none" stroke="#d4a010" stroke-width="1.7" stroke-linejoin="round"/>
<path d="M291.8 658.2h24.1v-7.9h.4v7.9h1.1v-7.9h.2v7.9h3v-7.9h.2v7.9h1.1v-7.9h.2v7.9h4.8v-7.9h.2v7.9h1.1v-7.9h.4v7.9h.3v-7.9h.2v7.9h1.7v-7.9h.4v7.9h10.4v-7.9h.5v7.9h.4v-7.9h.2v7.9h3.5v-7.9h.2v7.9h.2v-7.9h.5v7.9h.4v-7.9h.2v7.9h.9v-7.9h.2v7.9h2.8v-7.9h.2v7.9h2v-7.9h.2v7.9h.4v-7.9h.5v7.9h1v-7.9h.3v7.9h1.7v-7.9h.2v7.9h.4v-7.9h.5v7.9h6.3v-7.9h1.5v7.9h.6v-7.9h.7v7.9h1.5v-7.9h.4v7.9h2.6v-15.8h1.3v15.8h.5v-15.8h.6v15.8h.2v-7.9h1.1v7.9h1.3v-15.8h.2v15.8h.7v-7.9h.2v7.9h.4v-15.8h.2v15.8h.3v-7.9h.4v7.9h.2v-7.9h.4v7.9h1.8v-15.8h.2v15.8h.2v-7.9h.2v7.9h.2v-15.8h.5v15.8h1.1v-7.9h.4v7.9h1.1v-7.9h.4v7.9h.9v-15.8h.4v15.8h.2v-15.8h.2v15.8h.5v-7.9h1.1v7.9h1.5v-7.9h.8v7.9h.3v-7.9h.4v7.9h.6v-15.8h1.1v15.8h.9v-7.9h.2v7.9h2.2v-15.8h.4v15.8h.2v-7.9h1.1v7.9h1.3v-7.9h.2v7.9h.3v-7.9h.2v7.9h.2v-7.9h1.1v7.9h.8v-15.8h1.6v15.8h.2v-15.8h.4v15.8h.2v-7.9h.7v7.9h1.9v-7.9h.2v7.9h.7v-15.8h.9v15.8h.6v-7.9h.2v7.9h1.8v-7.9h1.3v7.9h.4v-7.9h.6v7.9h1.6v-15.8h.6v15.8h.2v-7.9h.2v7.9h2.9v-15.8h.2v15.8h.8v-15.8h.7v15.8h1.1v-15.8h.2v15.8h.9v-7.9h.6v7.9h.4v-7.9h.3v7.9h1.7v-7.9h.2v7.9h.7v-15.8h.4v15.8h.6v-15.8h.3v15.8h1.3v-7.9h.2v7.9h.4v-15.8h.4v15.8h1.1v-15.8h.2v15.8h.3v-15.8h.6v15.8h.9v-15.8h1.1v15.8h1v-7.9h.5v7.9h.6v-7.9h.5v7.9h.6v-7.9h.2v7.9h.5v-7.9h.4v7.9h.4v-7.9h.2v7.9h1.6v-15.8h.2v15.8h.6v-15.8h.2v15.8h.5v-7.9h1.1v7.9h.4v-7.9h.6v7.9h2v-15.8h.2v15.8h1.5v-15.8h.2v15.8h.9v-7.9h.2v7.9h.2v-15.8h.3v15.8h.2v-7.9h.4v7.9h.4v-15.8h.3v15.8h.4v-7.9h.9v7.9h.4v-7.9h.2v7.9h.7v-15.8h.2v15.8h.6v-7.9h.2v7.9h.3v-7.9h.6v7.9h.9v-15.8h.4v15.8h.9v-15.8h.4v15.8h.2v-15.8h.5v15.8h1.9v-15.8h1.7v15.8h2.2v-15.8h.2v15.8h.7v-7.9h.4v7.9h.2v-7.9h.7v7.9h2.4v-15.8h.4v15.8h1.9v-15.8h.3v15.8h.4v-7.9h.9v7.9h.4v-7.9h.4v7.9h.2v-15.8h.5v15.8h1.3v-7.9h.6v7.9h1.1v-7.9h.9v7.9h.2v-7.9h.6v7.9h.3v-15.8h.8v15.8h.2v-7.9h.3v7.9h.8v-7.9h.5v7.9h.8v-15.8h.5v15.8h.2v-15.8h.8v15.8h.3v-15.8h.2v15.8h.2v-15.8h.4v15.8h.7v-15.8h.2v15.8h.4v-7.9h.2v7.9h.3v-15.8h.4v15.8h.2v-7.9h.2v7.9h.5v-15.8h.6v15.8h.4v-15.8h.5v15.8h.8v-15.8h.5v15.8h.2v-7.9h.2v7.9h1.1v-7.9h.2v7.9h.2v-15.8h.2v15.8h.3v-15.8h.2v15.8h.2v-15.8h.4v15.8h.7v-15.8h.8v15.8h.3v-15.8h.6v15.8h1.1v-15.8h.2v15.8h1.5v-7.9h.9v7.9h.6v-7.9h.7v7.9h.4v-15.8h1.5v15.8h1.6v-7.9h.2v7.9h.2" fill="none" stroke="#20c8d0" stroke-width="1.15" stroke-linejoin="round"/>
<path d="M291.8 658.2h4.6v-7.9h.2v7.9h30.3v-7.9h.2v7.9h51.4v-7.9h.8v-7.9h.3v7.9h17.5v-7.9h.7v7.9h13v-7.9h.2v7.9h5v-7.9h.4v7.9h8v-7.9h.2v7.9h8.5v-7.9h.2v7.9h5.9v-7.9h.2v-7.9h.2v7.9h.2v-7.9h.2v7.9h1.1v7.9h.2v-7.9h.5v7.9h.4v-7.9h.6v7.9h1.3v-7.9h.5v-7.9h.2v7.9h.2v7.9h.9v-7.9h.2v-7.9h.4v7.9h.7v7.9h.4v-7.9h2.2v-7.9h.8v7.9h1.8v-7.9h.2v7.9h.2v7.9h.2v-7.9h.5v-7.9h.2v7.9h.2v7.9h6.9v-7.9h2.4v-5.7h.7v5.7h.2v-5.7h.2v5.7h.9v-5.7h.2v5.7h1.9v-5.7h.2v5.7h.3v-5.7h.2v5.7h.8v-5.7h.3v5.7h.2v-5.7h.2v5.7h.2v-5.7h.2v5.7h.2v-5.7h.3v5.7h.4v-5.7h.9v5.7h1.3v-5.7h.2v5.7h.4v-5.7h.2v5.7h.2v-5.7h.3v5.7h.2v-5.7h.2v5.7h.2v-5.7h.4v5.7h.3v-5.7h.2v5.7h1.7v7.9h1.1v-7.9h1.1v-7.9h.2v7.9h2.6v-23.7h.2v-5.7h.2v5.7h1.1v-5.7h.2v5.7h1.8v-5.7h1v5.7h.3v-5.7h.4v5.7h.6v-5.7h.3v5.7h.2v-5.7h.4v5.7h.7v-5.7h.2v5.7h.2v-5.7h.2v5.7h.7v-5.7h.2v5.7h.4v-5.7h1.5v5.7h.2v-5.7h.3v5.7h1v-5.7h.7v5.7h.2v-5.7h1.1v5.7h.2v-5.7h.2v5.7h.2v-5.7h.7v5.7h.4v-5.7h.5v5.7h.6v-5.7h.4v5.7h.9v-5.7h.2v5.7h.5v-5.7h.2v5.7h.2v-5.7h.2v5.7h.2v-5.7h.7v5.7h.6v-5.7h.2v5.7h.3v-5.7h.2v5.7h.8v-5.7h.3v5.7h3" fill="none" stroke="#7a4050" stroke-width="1.15" stroke-linejoin="round"/>
<path d="M291.8 658.2h20.6v-7.9h.3v7.9h2v-7.9h.2v7.9h6.7v-7.9h.1v7.9h.4v-7.9h.1v7.9h7.4v-7.9h.2v7.9h5.3v-7.9h.6v-7.9h.1v7.9h1.9v-7.9h.3v7.9h.5v-7.9h.1v7.9h.8v-7.9h.3v7.9h.4v-7.9h.1v7.9h1.3v-7.9h.1v7.9h.8v-7.9h.4v7.9h2.2v-7.9h.4v7.9h.9v-7.9h.1v7.9h1.3v-7.9h.1v7.9h.8v-7.9h.1v7.9h.2v-7.9h.2v7.9h1.9v-7.9h.2v7.9h.6v-7.9h.1v7.9h3.2v-7.9h.1v7.9h.1v-7.9h.4v7.9h1.1v-7.9h.4v7.9h.3v-7.9h.8v7.9h.1v-7.9h.5v7.9h.1v-7.9h.7v7.9h.1v-7.9h.3v-7.9h.4v7.9h.2v7.9h.1v-7.9h2v-7.9h.1v7.9h.2v7.9h.1v-7.9h.8v7.9h.1v-7.9h.2v-7.9h.1v7.9h1v-7.9h.2v7.9h.1v-7.9h.3v7.9h1.4v-7.9h.1v7.9h.1v7.9h.5v-7.9h.6v7.9h.1v-7.9h.9v7.9h.2v-7.9h.8v7.9h.1v-7.9h.3v7.9h.2v-7.9h.1v-7.9h.1v7.9h.4v-7.9h.3v7.9h.2v-7.9h.1v7.9h.2v7.9h.1v-7.9h.6v-7.9h.2v7.9h.1v-7.9h.2v7.9h.7v7.9h.2v-7.9h.2v-7.9h.2v7.9h.2v-7.9h.2v7.9h.2v7.9h.1v-7.9h.1v7.9h.1v-7.9h.1v-7.9h.1v7.9h1.9v7.9h.1v-7.9h.1v7.9h.1v-15.8h.1v-7.9h.2v7.9h.7v7.9h.2v-7.9h.1v7.9h.3v-7.9h.1v-7.9h.4v7.9h1.9v-7.9h.2v7.9h1.1v-7.9h.4v7.9h.3v7.9h.2v-7.9h.9v-7.9h.1v7.9h1.1v7.9h.3v-7.9h.3v7.9h.4v-7.9h.5v7.9h.3v-7.9h.3v-7.9h.2v7.9h.2v-7.9h.3v7.9h.1v7.9h.2v-7.9h.2v-7.9h.3v7.9h.1v-7.9h.1v7.9h.2v7.9h.2v-7.9h.6v-7.9h.1v7.9h.6v-7.9h.4v7.9h.2v-7.9h.5v7.9h.1v7.9h.1v-7.9h.2v-7.9h.4v7.9h.1v-7.9h.1v7.9h.9v7.9h.1v-7.9h.2v-7.9h.4v7.9h.2v-7.9h.5v7.9h.2v-7.9h.2v7.9h.1v7.9h.2v-7.9h.1v-7.9h.2v7.9h.4v7.9h.1v-7.9h.2v-7.9h.1v7.9h.3v-7.9h.3v7.9h.1v-7.9h.3v7.9h.1v7.9h.1v-7.9h.1v7.9h.2v-7.9h.4v7.9h.1v-7.9h.4v7.9h.1v-7.9h.5v7.9h.1v-7.9h.2v7.9h.1v-7.9h.4v-7.9h.2v7.9h.1v-7.9h.2v7.9h.4v7.9h.2v-7.9h.2v7.9h.1v-7.9h.4v-7.9h.3v7.9h.1v7.9h.1v-7.9h.2v-7.9h.3v7.9h.3v7.9h.3v-7.9h.2v7.9h.3v-7.9h.5v-7.9h.2v7.9h.2v-7.9h.1v7.9h.2v-7.9h.2v7.9h.2v-7.9h.3v7.9h.2v7.9h.2v-7.9h.6v-7.9h.5v7.9h.2v-7.9h.1v7.9h.7v7.9h.5v-7.9h.1v-7.9h.1v7.9h.1v-7.9h.1v7.9h.2v-7.9h.2v7.9h.2v7.9h.2v-7.9h.2v-7.9h.2v7.9h.1v7.9h.4v-7.9h.5v-7.9h.1v7.9h.2v7.9h.2v-7.9h.1v-7.9h.2v7.9h.5v-7.9h.4v7.9h.7v7.9h.1v-7.9h.1v7.9h.5v-7.9h.1v7.9h.2v-7.9h.1v-7.9h.2v7.9h.3v-7.9h.1v7.9h.1v-7.9h.3v7.9h.5v-7.9h.4v7.9h.1v7.9h.2v-7.9h.1v7.9h.2v-7.9h.2v7.9h.8v-7.9h.5v-7.9h.1v-7.9h.4v7.9h.3v-7.9h.4v7.9h.1v-7.9h.3v-7.9h.1v7.9h.1v7.9h.2v-7.9h.1v-7.9h.1v7.9h.2v-7.9h.6v7.9h1.1v7.9h.5v-7.9h.1v-7.9h.1v7.9h.2v-7.9h.1v7.9h.3v-7.9h.5v7.9h.8v-7.9h.1v7.9h.1v7.9h.3v-7.9h.2v-7.9h1.1v7.9h.5v7.9h.1v-7.9h.1v-7.9h.2v7.9h.1v7.9h.5v-7.9h.4v7.9h.1v-7.9h.2v7.9h.2v-7.9h.1v-7.9h.5v7.9h.1v-7.9h.2v7.9h.1v-7.9h.2v7.9h.1v7.9h.1v-7.9h.1v7.9h.8v-7.9h.1v-7.9h.5v7.9h.5v-7.9h.1v7.9h.3v7.9h.1v-7.9h.1v-7.9h.3v7.9h.2v-7.9h.2v7.9h.1v7.9h.3v-7.9h.2v-7.9h.3v7.9h.6v-7.9h.4v7.9h.5v-7.9h.1v7.9h.1v-7.9h.3v7.9h.2v7.9h.1v-7.9h.3v-7.9h.5v7.9h.1v7.9h.1v-7.9h.1v-7.9h.4v7.9h.1v7.9h.4v-7.9h.1v7.9h.1v-7.9h.2v-7.9h.3v7.9h.2v-7.9h.3v7.9h.1v-7.9h.1v7.9h.1v7.9h.1v-7.9h.4v7.9h.2v-7.9h.2v7.9h.5v-7.9h.1v7.9h.1v-7.9h.8v-7.9h.1v7.9h.1v7.9h.1v-7.9h.1v7.9h.1v-7.9h.1v7.9h.1v-7.9h.2v7.9h.4v-7.9h.1v-7.9h.1v7.9h.4v7.9h.1v-7.9h.2v-7.9h.6v7.9h.2v7.9h.1v-7.9h.1v-7.9h.5v7.9h.2v7.9h.2v-7.9h.2v-7.9h.2v7.9h.1v7.9h.4v-7.9h.6v7.9h.1v-7.9h.4v-7.9h.7v7.9h.2v-7.9h.2v-7.9h.2v7.9h.4v7.9h.1v-7.9h.2v-7.9h.2v7.9h.1v7.9h.1v-7.9h.1v7.9h.2v-7.9h.1v7.9h.2v-7.9h.1v-7.9h.1v7.9h.2v7.9h.1v-7.9h.1v-7.9h.1v7.9h.3v7.9h.2v-7.9h.3v7.9h.1v-7.9h.1v-7.9h.2v7.9h.1v-7.9h.3v7.9h.4v7.9h.1v-7.9h.1v-7.9h.1v7.9h.1v-7.9h.5v7.9h.1v-7.9h.1v7.9h.4v7.9h.1v-7.9h.2v-7.9h.1v7.9h.6v7.9h.2v-7.9h.2v-7.9h.6v7.9h.1v-7.9h.2v7.9h.2v7.9h.2v-7.9h.9v-7.9h.1v7.9h.1v7.9h.2v-7.9h.1v-7.9h.1v7.9h.2v7.9h.4v-7.9h.3v7.9h.1v-7.9h.1v7.9h.1v-7.9h.1v-7.9h.4v7.9h.2v7.9h.1v-7.9h.2v7.9h.1v-7.9h.2v7.9h.2v-7.9h.1v7.9h.4v-7.9h.1v7.9h1.3v-7.9h.1v-7.9h.2v7.9h.1v-7.9h.1v7.9h.2v7.9h.1v-7.9h.3v-7.9h.3v7.9h.1v7.9h.1v-7.9h.4v7.9h.4v-7.9h.2v7.9h.1v-7.9h.1v-7.9h.4v7.9h.8v7.9h.2v-7.9h.1v-7.9h.1v7.9h1v7.9h.4v-7.9h.2v-7.9h.6v7.9h.1v-7.9h.5v7.9h.7v-7.9h.1v7.9h.1v7.9h.1v-7.9h.2v7.9h.5v-7.9h.1v-7.9h.1v7.9h.1v7.9h.5v-7.9h.1v-7.9h.1v7.9h.4v-7.9h.1v7.9h.1v-7.9h.5v7.9h.6v7.9h.1v-7.9h.4v-7.9h.1v7.9h.1v-7.9h.5v15.8h.1v-7.9h.3v7.9h.1v7.9h.2v-7.9h.2v7.9h.3v-7.9h.1v-7.9h.3v7.9h.1v7.9h.3v-7.9h.1v-7.9h.2v7.9h.2v-7.9h.1v7.9h.2v7.9h.3v-7.9h.1v7.9h.2v-7.9h.2v-7.9h.2v7.9h.5v7.9h.3v-7.9h.1v-7.9h.1v7.9h.3v7.9h.2v-7.9h.3v-7.9h.1v7.9h.1v7.9h.4v-7.9h.3v-7.9h.1v7.9h.7v-7.9h.2v7.9h.2v-7.9h.2v7.9h.7v7.9h.1v-7.9h.9v7.9h.2v-7.9h.2v-7.9h.6v7.9h.3v7.9h.1v-7.9h.2v-7.9h.2v7.9h.4v-7.9h.1v7.9h.1v-7.9h.1v7.9h1.1v7.9h.2v-7.9h.1v-7.9h.2v7.9h.1v7.9h.1v-7.9h1v7.9h.1v-7.9h.2v-7.9h.4v7.9h.4v7.9h.2v-7.9h.1v7.9h.1v-7.9h.1v-7.9h.1v7.9h.6v-7.9h.1v7.9h.2v-7.9h.2v7.9h.1v7.9h.1v-7.9h.5v7.9h.1v-7.9h.2v-7.9h.2v7.9h.1v-7.9h.8v7.9h.2v-7.9h.1v7.9h.6v-7.9h.1v7.9h.1v-7.9h.1v7.9h.2v7.9h.2v-7.9h.1v7.9h.2v-7.9h.6v7.9h.1v-7.9h.1v7.9h.4v-7.9h.1v-7.9h.3v7.9h.1v7.9h.1v-7.9h.2v7.9h.2v-7.9h.1v7.9h.3v-7.9h.5v-7.9h.2v7.9h.1v7.9h.4v-7.9h.1v-7.9h.4v7.9h.1v-7.9h.2v7.9h.7v7.9h.5v-7.9h.2" fill="none" stroke="#9a9a0a" stroke-width="1.5" stroke-linejoin="round"/>
<path d="M291.8 658.2h30.3v-7.9h.3v7.9h.6v-7.9h.2v7.9h.5v-7.9h.2v7.9h.6v-7.9h.2v7.9h.5v-7.9h.2v7.9h.2v-7.9h.4v7.9h1.1v-7.9h.5v7.9h.6v-7.9h.4v7.9h1.3v-7.9h1.6v7.9h.8v-7.9h.2v7.9h.3v-7.9h.4v7.9h.2v-7.9h.2v7.9h.5v-7.9h.8v7.9h.5v-7.9h.4v7.9h.4v-7.9h.5v7.9h.2v-7.9h.2v7.9h.2v-7.9h.2v7.9h.2v-7.9h.7v7.9h.2v-7.9h.4v7.9h.9v-7.9h.2v7.9h.2v-7.9h.5v7.9h.8v-7.9h.5v7.9h.8v-7.9h.5v7.9h.2v-7.9h.2v7.9h.2v-7.9h.2v7.9h.5v-7.9h.6v7.9h.2v-7.9h.5v7.9h.4v-7.9h.2v7.9h.5v-7.9h.6v7.9h.2v-7.9h.5v7.9h.2v-7.9h.2v7.9h.6v-7.9h.5v7.9h.4v-7.9h.2v7.9h1.3v-7.9h.2v7.9h.9v-7.9h.9v7.9h.2v-7.9h.2v7.9h.2v-7.9h.5v7.9h.2v-7.9h.6v7.9h.2v-7.9h.3v7.9h.2v-7.9h.2v7.9h.2v-7.9h.4v7.9h.3v-7.9h.4v7.9h.6v-7.9h.3v7.9h.2v-7.9h.2v7.9h.4v-7.9h.2v7.9h.3v-7.9h.2v7.9h.2v-7.9h1.1v7.9h.4v-7.9h.9v7.9h.2v-7.9h.2v7.9h.2v-7.9h.5v7.9h.4v-7.9h.6v7.9h1.1v-7.9h.9v7.9h.4v-7.9h.2v7.9h.3v-7.9h1.9v7.9h.4v-7.9h.3v7.9h.6v-7.9h.2v7.9h.2v-7.9h.3v7.9h.6v-7.9h.2v7.9h.2v-7.9h.3v7.9h1.3v-7.9h.2v7.9h.6v-7.9h.2v7.9h.3v-7.9h.6v7.9h.2v-7.9h.2v7.9h.3v-7.9h.2v-23.7h.2v7.9h.2v-7.9h.7v-7.9h.4v7.9h.6v7.9h.3v-7.9h.2v-7.9h.2v7.9h.9v7.9h.6v-7.9h.7v7.9h.4v-7.9h.4v-15.8h.2v15.8h1.1v-7.9h.9v7.9h1.1v7.9h.6v-7.9h1.5v7.9h.3v-7.9h.6v-7.9h.4v7.9h1.3v-15.8h.3v7.9h.2v-7.9h1.1v7.9h.4v-15.8h.2v15.8h.2v-7.9h.2v7.9h.9v-15.8h.4v15.8h.3v-7.9h.6v7.9h.2v-15.8h.5v15.8h.2v-7.9h.2v7.9h.4v-7.9h.7v7.9h.4v7.9h2.2v-7.9h.9v7.9h.2v-7.9h.6v-15.8h.7v15.8h.2v-15.8h.2v15.8h.2v-15.8h.2v15.8h.3v-7.9h.4v7.9h.6v-15.8h.3v15.8h.2v-15.8h.4v15.8h.2v-7.9h.2v-7.9h.3v7.9h.8v-7.9h2v7.9h.8v-7.9h.7v7.9h.2v-7.9h.4v-7.9h.3v7.9h.2v-7.9h.2v7.9h.9v7.9h.4v-7.9h.4v7.9h.5v-7.9h.4v-7.9h.2v7.9h.2v-7.9h.5v7.9h.2v-13.6h.2v5.7h.2v-5.7h.2v5.7h.2v-5.7h.3v5.7h.8v-5.7h.2v5.7h.5v-5.7h.8v5.7h.3v-13.6h.4v5.7h.2v-5.7h.7v5.7h.2v-5.7h.2v5.7h.2v-5.7h.2v5.7h.2v-5.7h1.3v-15.8h.3v5.7h1v-5.7h.5v5.7h.2v-5.7h.4v5.7h.2v-5.7h.3v-7.9h.8v5.7h.5v-5.7h.8v5.7h.7v-5.7h.2v5.7h.2v-5.7h.2v5.7h.7v-5.7h.4v5.7h.7v-5.7h.4v5.7h.2v-5.7h.2v5.7h.5v-21.5h.2v5.7h.8v-5.7h.3v5.7h.2v-5.7h.2v5.7h.2v-5.7h.2v5.7h.2v-5.7h.9v5.7h.2v-5.7h.2v5.7h.5v-5.7h.4v5.7h.2v-5.7h1.8v5.7h.4v-5.7h.2v5.7h.2v-5.7h.7v5.7h.6v-5.7h.7v5.7h.2v-5.7h.2v5.7h.2v-5.7h.2v5.7h.5v-5.7h.2v5.7h.2v-5.7h.4v5.7h.7v-5.7h.6v5.7h.5v-5.7h.2v5.7h.4v-7.9h.7v-5.7h.2v5.7h.2v-5.7h.2v5.7h.2v-5.7h.3v5.7h.4v-5.7h.4v5.7h.9v-5.7h.2v5.7h.2v-5.7h.2v5.7h.3v-5.7h.2v5.7h.2v-7.9h.4v-5.7h.2v5.7h.3v-5.7h.8v5.7h.2v-5.7h.3v-2.2h1v-5.7h.3v5.7h.6v-5.7h.2v5.7h.5v-5.7h.2v5.7h.6v-5.7h.2v5.7h.9v-5.7h.4v5.7h.5v-5.7h.6v5.7h.7v-5.7h.2v5.7h.2v-5.7h.2v5.7h.2v-5.7h1.8v5.7h.6v-5.7h.5v5.7h.6v-5.7h.4v5.7h.3v-5.7h.2v5.7h.4v-5.7h.2v5.7h.5v-5.7h.2v5.7h.4v-5.7h.2v5.7h.5v-5.7h1.5v5.7h.4v-5.7h.7v5.7h.8v-5.7h.2v5.7h.5v-5.7h.4v5.7h.7v-5.7h.4v5.7h.2v-5.7h1.1v5.7h1.1v-5.7h.2v5.7h.6v-7.9h1.1v-5.7h1.1v5.7h.2v-5.7h.2v5.7h.3v-5.7h.2v5.7h.6v-5.7h.7v5.7h.2v-5.7h.9v5.7h.6v-5.7h.2v5.7h.2v-5.7h.5v5.7h.8v-5.7h.7v5.7h.9v-5.7h.2v5.7h.4v-5.7h.2v5.7h.2v-5.7h.3v5.7h.2v-5.7h.4v5.7h.2v-5.7h.2v5.7h.3v-5.7h.2v5.7h.2v-5.7h.2v5.7h.2v-5.7h.5v5.7h.2v-5.7h.2v5.7h1.3v-5.7h.4v5.7h1.1v-5.7h.2v5.7h.2v-5.7h.5v5.7h.4v-5.7h.2v5.7h.2v-5.7h.3v5.7h.6v-5.7h.4v5.7h1.1v-5.7h.9v5.7h.4v-5.7h.5v5.7h.4v-5.7h.2v5.7h.4v-5.7h.3v5.7h.4v-5.7h.6v5.7h.3v-5.7h.2v5.7h.6v-5.7h.5v5.7h.2v-5.7h.2v5.7h.6v-5.7h.5v5.7h1.1v-5.7h.2v5.7h.2v-5.7h.4v5.7h.2v-5.7h.7v5.7h.2v-5.7h.2v5.7h.2v-5.7h.3v5.7h.2v-5.7h.2" fill="none" stroke="#ff6a10" stroke-width="1.15" stroke-linejoin="round"/>
</svg>
<rect x="33.2" y="4.2" width="216" height="174.3" fill="none" stroke="#222" stroke-width="1.1"/>
<line x1="33.2" y1="178.5" x2="36.2" y2="178.5" stroke="#222" stroke-width="1"/>
<text transform="translate(29.2,181.9) scale(0.8,1)" font-size="11.4" text-anchor="end">0</text>
<line x1="33.2" y1="170.92" x2="34.8" y2="170.92" stroke="#222" stroke-width="1"/>
<line x1="33.2" y1="163.34" x2="36.2" y2="163.34" stroke="#222" stroke-width="1"/>
<text transform="translate(29.2,166.74) scale(0.8,1)" font-size="11.4" text-anchor="end">20</text>
<line x1="33.2" y1="155.77" x2="34.8" y2="155.77" stroke="#222" stroke-width="1"/>
<line x1="33.2" y1="148.19" x2="36.2" y2="148.19" stroke="#222" stroke-width="1"/>
<text transform="translate(29.2,151.59) scale(0.8,1)" font-size="11.4" text-anchor="end">40</text>
<line x1="33.2" y1="140.61" x2="34.8" y2="140.61" stroke="#222" stroke-width="1"/>
<line x1="33.2" y1="133.03" x2="36.2" y2="133.03" stroke="#222" stroke-width="1"/>
<text transform="translate(29.2,136.43) scale(0.8,1)" font-size="11.4" text-anchor="end">60</text>
<line x1="33.2" y1="125.45" x2="34.8" y2="125.45" stroke="#222" stroke-width="1"/>
<line x1="33.2" y1="117.87" x2="36.2" y2="117.87" stroke="#222" stroke-width="1"/>
<text transform="translate(29.2,121.27) scale(0.8,1)" font-size="11.4" text-anchor="end">80</text>
<line x1="33.2" y1="110.3" x2="34.8" y2="110.3" stroke="#222" stroke-width="1"/>
<line x1="33.2" y1="102.72" x2="36.2" y2="102.72" stroke="#222" stroke-width="1"/>
<text transform="translate(29.2,106.12) scale(0.8,1)" font-size="11.4" text-anchor="end">100</text>
<line x1="33.2" y1="95.14" x2="34.8" y2="95.14" stroke="#222" stroke-width="1"/>
<line x1="33.2" y1="87.56" x2="36.2" y2="87.56" stroke="#222" stroke-width="1"/>
<text transform="translate(29.2,90.96) scale(0.8,1)" font-size="11.4" text-anchor="end">120</text>
<line x1="33.2" y1="79.98" x2="34.8" y2="79.98" stroke="#222" stroke-width="1"/>
<line x1="33.2" y1="72.4" x2="36.2" y2="72.4" stroke="#222" stroke-width="1"/>
<text transform="translate(29.2,75.8) scale(0.8,1)" font-size="11.4" text-anchor="end">140</text>
<line x1="33.2" y1="64.83" x2="34.8" y2="64.83" stroke="#222" stroke-width="1"/>
<line x1="33.2" y1="57.25" x2="36.2" y2="57.25" stroke="#222" stroke-width="1"/>
<text transform="translate(29.2,60.65) scale(0.8,1)" font-size="11.4" text-anchor="end">160</text>
<line x1="33.2" y1="49.67" x2="34.8" y2="49.67" stroke="#222" stroke-width="1"/>
<line x1="33.2" y1="42.09" x2="36.2" y2="42.09" stroke="#222" stroke-width="1"/>
<text transform="translate(29.2,45.49) scale(0.8,1)" font-size="11.4" text-anchor="end">180</text>
<line x1="33.2" y1="34.51" x2="34.8" y2="34.51" stroke="#222" stroke-width="1"/>
<line x1="33.2" y1="26.93" x2="36.2" y2="26.93" stroke="#222" stroke-width="1"/>
<text transform="translate(29.2,30.33) scale(0.8,1)" font-size="11.4" text-anchor="end">200</text>
<line x1="33.2" y1="19.36" x2="34.8" y2="19.36" stroke="#222" stroke-width="1"/>
<line x1="33.2" y1="11.78" x2="36.2" y2="11.78" stroke="#222" stroke-width="1"/>
<text transform="translate(29.2,15.18) scale(0.8,1)" font-size="11.4" text-anchor="end">220</text>
<line x1="33.2" y1="4.2" x2="34.8" y2="4.2" stroke="#222" stroke-width="1"/>
<line x1="33.2" y1="178.5" x2="33.2" y2="175.5" stroke="#222" stroke-width="1"/>
<text transform="translate(33.2,190.2) scale(0.8,1)" font-size="11.4" text-anchor="middle">0</text>
<line x1="44" y1="178.5" x2="44" y2="176.9" stroke="#222" stroke-width="1"/>
<line x1="54.8" y1="178.5" x2="54.8" y2="175.5" stroke="#222" stroke-width="1"/>
<text transform="translate(54.8,190.2) scale(0.8,1)" font-size="11.4" text-anchor="middle">100</text>
<line x1="65.6" y1="178.5" x2="65.6" y2="176.9" stroke="#222" stroke-width="1"/>
<line x1="76.4" y1="178.5" x2="76.4" y2="175.5" stroke="#222" stroke-width="1"/>
<text transform="translate(76.4,190.2) scale(0.8,1)" font-size="11.4" text-anchor="middle">200</text>
<line x1="87.2" y1="178.5" x2="87.2" y2="176.9" stroke="#222" stroke-width="1"/>
<line x1="98" y1="178.5" x2="98" y2="175.5" stroke="#222" stroke-width="1"/>
<text transform="translate(98,190.2) scale(0.8,1)" font-size="11.4" text-anchor="middle">300</text>
<line x1="108.8" y1="178.5" x2="108.8" y2="176.9" stroke="#222" stroke-width="1"/>
<line x1="119.6" y1="178.5" x2="119.6" y2="175.5" stroke="#222" stroke-width="1"/>
<text transform="translate(119.6,190.2) scale(0.8,1)" font-size="11.4" text-anchor="middle">400</text>
<line x1="130.4" y1="178.5" x2="130.4" y2="176.9" stroke="#222" stroke-width="1"/>
<line x1="141.2" y1="178.5" x2="141.2" y2="175.5" stroke="#222" stroke-width="1"/>
<text transform="translate(141.2,190.2) scale(0.8,1)" font-size="11.4" text-anchor="middle">500</text>
<line x1="152" y1="178.5" x2="152" y2="176.9" stroke="#222" stroke-width="1"/>
<line x1="162.8" y1="178.5" x2="162.8" y2="175.5" stroke="#222" stroke-width="1"/>
<text transform="translate(162.8,190.2) scale(0.8,1)" font-size="11.4" text-anchor="middle">600</text>
<line x1="173.6" y1="178.5" x2="173.6" y2="176.9" stroke="#222" stroke-width="1"/>
<line x1="184.4" y1="178.5" x2="184.4" y2="175.5" stroke="#222" stroke-width="1"/>
<text transform="translate(184.4,190.2) scale(0.8,1)" font-size="11.4" text-anchor="middle">700</text>
<line x1="195.2" y1="178.5" x2="195.2" y2="176.9" stroke="#222" stroke-width="1"/>
<line x1="206" y1="178.5" x2="206" y2="175.5" stroke="#222" stroke-width="1"/>
<text transform="translate(206,190.2) scale(0.8,1)" font-size="11.4" text-anchor="middle">800</text>
<line x1="216.8" y1="178.5" x2="216.8" y2="176.9" stroke="#222" stroke-width="1"/>
<line x1="227.6" y1="178.5" x2="227.6" y2="175.5" stroke="#222" stroke-width="1"/>
<text transform="translate(227.6,190.2) scale(0.8,1)" font-size="11.4" text-anchor="middle">900</text>
<line x1="238.4" y1="178.5" x2="238.4" y2="176.9" stroke="#222" stroke-width="1"/>
<line x1="249.2" y1="178.5" x2="249.2" y2="175.5" stroke="#222" stroke-width="1"/>
<text transform="translate(249.2,190.2) scale(0.8,1)" font-size="11.4" text-anchor="middle">1000</text>
<text transform="translate(141.2,203.7) scale(0.89,1)" font-size="12" text-anchor="middle">Time (ps)</text>
<text transform="translate(8.2,91.35) rotate(-90) scale(1,0.93)" font-size="10.85" text-anchor="middle">Number of particles</text>
<rect x="290.4" y="4.5" width="216" height="174" fill="none" stroke="#222" stroke-width="1.1"/>
<line x1="290.4" y1="178.5" x2="293.4" y2="178.5" stroke="#222" stroke-width="1"/>
<text transform="translate(286.4,181.9) scale(0.8,1)" font-size="11.4" text-anchor="end">0</text>
<line x1="290.4" y1="169.8" x2="292" y2="169.8" stroke="#222" stroke-width="1"/>
<line x1="290.4" y1="161.1" x2="293.4" y2="161.1" stroke="#222" stroke-width="1"/>
<text transform="translate(286.4,164.5) scale(0.8,1)" font-size="11.4" text-anchor="end">2</text>
<line x1="290.4" y1="152.4" x2="292" y2="152.4" stroke="#222" stroke-width="1"/>
<line x1="290.4" y1="143.7" x2="293.4" y2="143.7" stroke="#222" stroke-width="1"/>
<text transform="translate(286.4,147.1) scale(0.8,1)" font-size="11.4" text-anchor="end">4</text>
<line x1="290.4" y1="135" x2="292" y2="135" stroke="#222" stroke-width="1"/>
<line x1="290.4" y1="126.3" x2="293.4" y2="126.3" stroke="#222" stroke-width="1"/>
<text transform="translate(286.4,129.7) scale(0.8,1)" font-size="11.4" text-anchor="end">6</text>
<line x1="290.4" y1="117.6" x2="292" y2="117.6" stroke="#222" stroke-width="1"/>
<line x1="290.4" y1="108.9" x2="293.4" y2="108.9" stroke="#222" stroke-width="1"/>
<text transform="translate(286.4,112.3) scale(0.8,1)" font-size="11.4" text-anchor="end">8</text>
<line x1="290.4" y1="100.2" x2="292" y2="100.2" stroke="#222" stroke-width="1"/>
<line x1="290.4" y1="91.5" x2="293.4" y2="91.5" stroke="#222" stroke-width="1"/>
<text transform="translate(286.4,94.9) scale(0.8,1)" font-size="11.4" text-anchor="end">10</text>
<line x1="290.4" y1="82.8" x2="292" y2="82.8" stroke="#222" stroke-width="1"/>
<line x1="290.4" y1="74.1" x2="293.4" y2="74.1" stroke="#222" stroke-width="1"/>
<text transform="translate(286.4,77.5) scale(0.8,1)" font-size="11.4" text-anchor="end">12</text>
<line x1="290.4" y1="65.4" x2="292" y2="65.4" stroke="#222" stroke-width="1"/>
<line x1="290.4" y1="56.7" x2="293.4" y2="56.7" stroke="#222" stroke-width="1"/>
<text transform="translate(286.4,60.1) scale(0.8,1)" font-size="11.4" text-anchor="end">14</text>
<line x1="290.4" y1="48" x2="292" y2="48" stroke="#222" stroke-width="1"/>
<line x1="290.4" y1="39.3" x2="293.4" y2="39.3" stroke="#222" stroke-width="1"/>
<text transform="translate(286.4,42.7) scale(0.8,1)" font-size="11.4" text-anchor="end">16</text>
<line x1="290.4" y1="30.6" x2="292" y2="30.6" stroke="#222" stroke-width="1"/>
<line x1="290.4" y1="21.9" x2="293.4" y2="21.9" stroke="#222" stroke-width="1"/>
<text transform="translate(286.4,25.3) scale(0.8,1)" font-size="11.4" text-anchor="end">18</text>
<line x1="290.4" y1="13.2" x2="292" y2="13.2" stroke="#222" stroke-width="1"/>
<line x1="290.4" y1="4.5" x2="293.4" y2="4.5" stroke="#222" stroke-width="1"/>
<text transform="translate(286.4,7.9) scale(0.8,1)" font-size="11.4" text-anchor="end">20</text>
<line x1="290.4" y1="178.5" x2="290.4" y2="175.5" stroke="#222" stroke-width="1"/>
<text transform="translate(290.4,190.2) scale(0.8,1)" font-size="11.4" text-anchor="middle">0</text>
<line x1="301.2" y1="178.5" x2="301.2" y2="176.9" stroke="#222" stroke-width="1"/>
<line x1="312" y1="178.5" x2="312" y2="175.5" stroke="#222" stroke-width="1"/>
<text transform="translate(312,190.2) scale(0.8,1)" font-size="11.4" text-anchor="middle">100</text>
<line x1="322.8" y1="178.5" x2="322.8" y2="176.9" stroke="#222" stroke-width="1"/>
<line x1="333.6" y1="178.5" x2="333.6" y2="175.5" stroke="#222" stroke-width="1"/>
<text transform="translate(333.6,190.2) scale(0.8,1)" font-size="11.4" text-anchor="middle">200</text>
<line x1="344.4" y1="178.5" x2="344.4" y2="176.9" stroke="#222" stroke-width="1"/>
<line x1="355.2" y1="178.5" x2="355.2" y2="175.5" stroke="#222" stroke-width="1"/>
<text transform="translate(355.2,190.2) scale(0.8,1)" font-size="11.4" text-anchor="middle">300</text>
<line x1="366" y1="178.5" x2="366" y2="176.9" stroke="#222" stroke-width="1"/>
<line x1="376.8" y1="178.5" x2="376.8" y2="175.5" stroke="#222" stroke-width="1"/>
<text transform="translate(376.8,190.2) scale(0.8,1)" font-size="11.4" text-anchor="middle">400</text>
<line x1="387.6" y1="178.5" x2="387.6" y2="176.9" stroke="#222" stroke-width="1"/>
<line x1="398.4" y1="178.5" x2="398.4" y2="175.5" stroke="#222" stroke-width="1"/>
<text transform="translate(398.4,190.2) scale(0.8,1)" font-size="11.4" text-anchor="middle">500</text>
<line x1="409.2" y1="178.5" x2="409.2" y2="176.9" stroke="#222" stroke-width="1"/>
<line x1="420" y1="178.5" x2="420" y2="175.5" stroke="#222" stroke-width="1"/>
<text transform="translate(420,190.2) scale(0.8,1)" font-size="11.4" text-anchor="middle">600</text>
<line x1="430.8" y1="178.5" x2="430.8" y2="176.9" stroke="#222" stroke-width="1"/>
<line x1="441.6" y1="178.5" x2="441.6" y2="175.5" stroke="#222" stroke-width="1"/>
<text transform="translate(441.6,190.2) scale(0.8,1)" font-size="11.4" text-anchor="middle">700</text>
<line x1="452.4" y1="178.5" x2="452.4" y2="176.9" stroke="#222" stroke-width="1"/>
<line x1="463.2" y1="178.5" x2="463.2" y2="175.5" stroke="#222" stroke-width="1"/>
<text transform="translate(463.2,190.2) scale(0.8,1)" font-size="11.4" text-anchor="middle">800</text>
<line x1="474" y1="178.5" x2="474" y2="176.9" stroke="#222" stroke-width="1"/>
<line x1="484.8" y1="178.5" x2="484.8" y2="175.5" stroke="#222" stroke-width="1"/>
<text transform="translate(484.8,190.2) scale(0.8,1)" font-size="11.4" text-anchor="middle">900</text>
<line x1="495.6" y1="178.5" x2="495.6" y2="176.9" stroke="#222" stroke-width="1"/>
<line x1="506.4" y1="178.5" x2="506.4" y2="175.5" stroke="#222" stroke-width="1"/>
<text transform="translate(506.4,190.2) scale(0.8,1)" font-size="11.4" text-anchor="middle">1000</text>
<text transform="translate(398.4,203.7) scale(0.89,1)" font-size="12" text-anchor="middle">Time (ps)</text>
<text transform="translate(271.6,91.5) rotate(-90) scale(1,0.93)" font-size="10.85" text-anchor="middle">Number of particles</text>
<rect x="33.2" y="245.4" width="215.3" height="173.4" fill="none" stroke="#222" stroke-width="1.1"/>
<line x1="33.2" y1="418.8" x2="36.2" y2="418.8" stroke="#222" stroke-width="1"/>
<text transform="translate(29.2,422.2) scale(0.8,1)" font-size="11.4" text-anchor="end">0</text>
<line x1="33.2" y1="411.26" x2="34.8" y2="411.26" stroke="#222" stroke-width="1"/>
<line x1="33.2" y1="403.72" x2="36.2" y2="403.72" stroke="#222" stroke-width="1"/>
<text transform="translate(29.2,407.12) scale(0.8,1)" font-size="11.4" text-anchor="end">20</text>
<line x1="33.2" y1="396.18" x2="34.8" y2="396.18" stroke="#222" stroke-width="1"/>
<line x1="33.2" y1="388.64" x2="36.2" y2="388.64" stroke="#222" stroke-width="1"/>
<text transform="translate(29.2,392.04) scale(0.8,1)" font-size="11.4" text-anchor="end">40</text>
<line x1="33.2" y1="381.1" x2="34.8" y2="381.1" stroke="#222" stroke-width="1"/>
<line x1="33.2" y1="373.57" x2="36.2" y2="373.57" stroke="#222" stroke-width="1"/>
<text transform="translate(29.2,376.97) scale(0.8,1)" font-size="11.4" text-anchor="end">60</text>
<line x1="33.2" y1="366.03" x2="34.8" y2="366.03" stroke="#222" stroke-width="1"/>
<line x1="33.2" y1="358.49" x2="36.2" y2="358.49" stroke="#222" stroke-width="1"/>
<text transform="translate(29.2,361.89) scale(0.8,1)" font-size="11.4" text-anchor="end">80</text>
<line x1="33.2" y1="350.95" x2="34.8" y2="350.95" stroke="#222" stroke-width="1"/>
<line x1="33.2" y1="343.41" x2="36.2" y2="343.41" stroke="#222" stroke-width="1"/>
<text transform="translate(29.2,346.81) scale(0.8,1)" font-size="11.4" text-anchor="end">100</text>
<line x1="33.2" y1="335.87" x2="34.8" y2="335.87" stroke="#222" stroke-width="1"/>
<line x1="33.2" y1="328.33" x2="36.2" y2="328.33" stroke="#222" stroke-width="1"/>
<text transform="translate(29.2,331.73) scale(0.8,1)" font-size="11.4" text-anchor="end">120</text>
<line x1="33.2" y1="320.79" x2="34.8" y2="320.79" stroke="#222" stroke-width="1"/>
<line x1="33.2" y1="313.25" x2="36.2" y2="313.25" stroke="#222" stroke-width="1"/>
<text transform="translate(29.2,316.65) scale(0.8,1)" font-size="11.4" text-anchor="end">140</text>
<line x1="33.2" y1="305.71" x2="34.8" y2="305.71" stroke="#222" stroke-width="1"/>
<line x1="33.2" y1="298.17" x2="36.2" y2="298.17" stroke="#222" stroke-width="1"/>
<text transform="translate(29.2,301.57) scale(0.8,1)" font-size="11.4" text-anchor="end">160</text>
<line x1="33.2" y1="290.63" x2="34.8" y2="290.63" stroke="#222" stroke-width="1"/>
<line x1="33.2" y1="283.1" x2="36.2" y2="283.1" stroke="#222" stroke-width="1"/>
<text transform="translate(29.2,286.5) scale(0.8,1)" font-size="11.4" text-anchor="end">180</text>
<line x1="33.2" y1="275.56" x2="34.8" y2="275.56" stroke="#222" stroke-width="1"/>
<line x1="33.2" y1="268.02" x2="36.2" y2="268.02" stroke="#222" stroke-width="1"/>
<text transform="translate(29.2,271.42) scale(0.8,1)" font-size="11.4" text-anchor="end">200</text>
<line x1="33.2" y1="260.48" x2="34.8" y2="260.48" stroke="#222" stroke-width="1"/>
<line x1="33.2" y1="252.94" x2="36.2" y2="252.94" stroke="#222" stroke-width="1"/>
<text transform="translate(29.2,256.34) scale(0.8,1)" font-size="11.4" text-anchor="end">220</text>
<line x1="33.2" y1="245.4" x2="34.8" y2="245.4" stroke="#222" stroke-width="1"/>
<line x1="33.2" y1="418.8" x2="33.2" y2="415.8" stroke="#222" stroke-width="1"/>
<text transform="translate(33.2,430.5) scale(0.8,1)" font-size="11.4" text-anchor="middle">0</text>
<line x1="43.97" y1="418.8" x2="43.97" y2="417.2" stroke="#222" stroke-width="1"/>
<line x1="54.73" y1="418.8" x2="54.73" y2="415.8" stroke="#222" stroke-width="1"/>
<text transform="translate(54.73,430.5) scale(0.8,1)" font-size="11.4" text-anchor="middle">100</text>
<line x1="65.5" y1="418.8" x2="65.5" y2="417.2" stroke="#222" stroke-width="1"/>
<line x1="76.26" y1="418.8" x2="76.26" y2="415.8" stroke="#222" stroke-width="1"/>
<text transform="translate(76.26,430.5) scale(0.8,1)" font-size="11.4" text-anchor="middle">200</text>
<line x1="87.03" y1="418.8" x2="87.03" y2="417.2" stroke="#222" stroke-width="1"/>
<line x1="97.79" y1="418.8" x2="97.79" y2="415.8" stroke="#222" stroke-width="1"/>
<text transform="translate(97.79,430.5) scale(0.8,1)" font-size="11.4" text-anchor="middle">300</text>
<line x1="108.56" y1="418.8" x2="108.56" y2="417.2" stroke="#222" stroke-width="1"/>
<line x1="119.32" y1="418.8" x2="119.32" y2="415.8" stroke="#222" stroke-width="1"/>
<text transform="translate(119.32,430.5) scale(0.8,1)" font-size="11.4" text-anchor="middle">400</text>
<line x1="130.09" y1="418.8" x2="130.09" y2="417.2" stroke="#222" stroke-width="1"/>
<line x1="140.85" y1="418.8" x2="140.85" y2="415.8" stroke="#222" stroke-width="1"/>
<text transform="translate(140.85,430.5) scale(0.8,1)" font-size="11.4" text-anchor="middle">500</text>
<line x1="151.62" y1="418.8" x2="151.62" y2="417.2" stroke="#222" stroke-width="1"/>
<line x1="162.38" y1="418.8" x2="162.38" y2="415.8" stroke="#222" stroke-width="1"/>
<text transform="translate(162.38,430.5) scale(0.8,1)" font-size="11.4" text-anchor="middle">600</text>
<line x1="173.14" y1="418.8" x2="173.14" y2="417.2" stroke="#222" stroke-width="1"/>
<line x1="183.91" y1="418.8" x2="183.91" y2="415.8" stroke="#222" stroke-width="1"/>
<text transform="translate(183.91,430.5) scale(0.8,1)" font-size="11.4" text-anchor="middle">700</text>
<line x1="194.68" y1="418.8" x2="194.68" y2="417.2" stroke="#222" stroke-width="1"/>
<line x1="205.44" y1="418.8" x2="205.44" y2="415.8" stroke="#222" stroke-width="1"/>
<text transform="translate(205.44,430.5) scale(0.8,1)" font-size="11.4" text-anchor="middle">800</text>
<line x1="216.2" y1="418.8" x2="216.2" y2="417.2" stroke="#222" stroke-width="1"/>
<line x1="226.97" y1="418.8" x2="226.97" y2="415.8" stroke="#222" stroke-width="1"/>
<text transform="translate(226.97,430.5) scale(0.8,1)" font-size="11.4" text-anchor="middle">900</text>
<line x1="237.74" y1="418.8" x2="237.74" y2="417.2" stroke="#222" stroke-width="1"/>
<line x1="248.5" y1="418.8" x2="248.5" y2="415.8" stroke="#222" stroke-width="1"/>
<text transform="translate(248.5,430.5) scale(0.8,1)" font-size="11.4" text-anchor="middle">1000</text>
<text transform="translate(140.85,444) scale(0.89,1)" font-size="12" text-anchor="middle">Time (ps)</text>
<text transform="translate(8.2,332.1) rotate(-90) scale(1,0.93)" font-size="10.85" text-anchor="middle">Number of particles</text>
<rect x="292.2" y="243.3" width="217.2" height="175.1" fill="none" stroke="#222" stroke-width="1.1"/>
<line x1="292.2" y1="418.4" x2="295.2" y2="418.4" stroke="#222" stroke-width="1"/>
<text transform="translate(288.2,421.8) scale(0.8,1)" font-size="11.4" text-anchor="end">0</text>
<line x1="292.2" y1="403.81" x2="293.8" y2="403.81" stroke="#222" stroke-width="1"/>
<line x1="292.2" y1="389.22" x2="295.2" y2="389.22" stroke="#222" stroke-width="1"/>
<text transform="translate(288.2,392.62) scale(0.8,1)" font-size="11.4" text-anchor="end">5</text>
<line x1="292.2" y1="374.62" x2="293.8" y2="374.62" stroke="#222" stroke-width="1"/>
<line x1="292.2" y1="360.03" x2="295.2" y2="360.03" stroke="#222" stroke-width="1"/>
<text transform="translate(288.2,363.43) scale(0.8,1)" font-size="11.4" text-anchor="end">10</text>
<line x1="292.2" y1="345.44" x2="293.8" y2="345.44" stroke="#222" stroke-width="1"/>
<line x1="292.2" y1="330.85" x2="295.2" y2="330.85" stroke="#222" stroke-width="1"/>
<text transform="translate(288.2,334.25) scale(0.8,1)" font-size="11.4" text-anchor="end">15</text>
<line x1="292.2" y1="316.26" x2="293.8" y2="316.26" stroke="#222" stroke-width="1"/>
<line x1="292.2" y1="301.67" x2="295.2" y2="301.67" stroke="#222" stroke-width="1"/>
<text transform="translate(288.2,305.07) scale(0.8,1)" font-size="11.4" text-anchor="end">20</text>
<line x1="292.2" y1="287.08" x2="293.8" y2="287.08" stroke="#222" stroke-width="1"/>
<line x1="292.2" y1="272.48" x2="295.2" y2="272.48" stroke="#222" stroke-width="1"/>
<text transform="translate(288.2,275.88) scale(0.8,1)" font-size="11.4" text-anchor="end">25</text>
<line x1="292.2" y1="257.89" x2="293.8" y2="257.89" stroke="#222" stroke-width="1"/>
<line x1="292.2" y1="243.3" x2="295.2" y2="243.3" stroke="#222" stroke-width="1"/>
<text transform="translate(288.2,246.7) scale(0.8,1)" font-size="11.4" text-anchor="end">30</text>
<line x1="292.2" y1="418.4" x2="292.2" y2="415.4" stroke="#222" stroke-width="1"/>
<text transform="translate(292.2,430.1) scale(0.8,1)" font-size="11.4" text-anchor="middle">0</text>
<line x1="303.06" y1="418.4" x2="303.06" y2="416.8" stroke="#222" stroke-width="1"/>
<line x1="313.92" y1="418.4" x2="313.92" y2="415.4" stroke="#222" stroke-width="1"/>
<text transform="translate(313.92,430.1) scale(0.8,1)" font-size="11.4" text-anchor="middle">100</text>
<line x1="324.78" y1="418.4" x2="324.78" y2="416.8" stroke="#222" stroke-width="1"/>
<line x1="335.64" y1="418.4" x2="335.64" y2="415.4" stroke="#222" stroke-width="1"/>
<text transform="translate(335.64,430.1) scale(0.8,1)" font-size="11.4" text-anchor="middle">200</text>
<line x1="346.5" y1="418.4" x2="346.5" y2="416.8" stroke="#222" stroke-width="1"/>
<line x1="357.36" y1="418.4" x2="357.36" y2="415.4" stroke="#222" stroke-width="1"/>
<text transform="translate(357.36,430.1) scale(0.8,1)" font-size="11.4" text-anchor="middle">300</text>
<line x1="368.22" y1="418.4" x2="368.22" y2="416.8" stroke="#222" stroke-width="1"/>
<line x1="379.08" y1="418.4" x2="379.08" y2="415.4" stroke="#222" stroke-width="1"/>
<text transform="translate(379.08,430.1) scale(0.8,1)" font-size="11.4" text-anchor="middle">400</text>
<line x1="389.94" y1="418.4" x2="389.94" y2="416.8" stroke="#222" stroke-width="1"/>
<line x1="400.8" y1="418.4" x2="400.8" y2="415.4" stroke="#222" stroke-width="1"/>
<text transform="translate(400.8,430.1) scale(0.8,1)" font-size="11.4" text-anchor="middle">500</text>
<line x1="411.66" y1="418.4" x2="411.66" y2="416.8" stroke="#222" stroke-width="1"/>
<line x1="422.52" y1="418.4" x2="422.52" y2="415.4" stroke="#222" stroke-width="1"/>
<text transform="translate(422.52,430.1) scale(0.8,1)" font-size="11.4" text-anchor="middle">600</text>
<line x1="433.38" y1="418.4" x2="433.38" y2="416.8" stroke="#222" stroke-width="1"/>
<line x1="444.24" y1="418.4" x2="444.24" y2="415.4" stroke="#222" stroke-width="1"/>
<text transform="translate(444.24,430.1) scale(0.8,1)" font-size="11.4" text-anchor="middle">700</text>
<line x1="455.1" y1="418.4" x2="455.1" y2="416.8" stroke="#222" stroke-width="1"/>
<line x1="465.96" y1="418.4" x2="465.96" y2="415.4" stroke="#222" stroke-width="1"/>
<text transform="translate(465.96,430.1) scale(0.8,1)" font-size="11.4" text-anchor="middle">800</text>
<line x1="476.82" y1="418.4" x2="476.82" y2="416.8" stroke="#222" stroke-width="1"/>
<line x1="487.68" y1="418.4" x2="487.68" y2="415.4" stroke="#222" stroke-width="1"/>
<text transform="translate(487.68,430.1) scale(0.8,1)" font-size="11.4" text-anchor="middle">900</text>
<line x1="498.54" y1="418.4" x2="498.54" y2="416.8" stroke="#222" stroke-width="1"/>
<line x1="509.4" y1="418.4" x2="509.4" y2="415.4" stroke="#222" stroke-width="1"/>
<text transform="translate(509.4,430.1) scale(0.8,1)" font-size="11.4" text-anchor="middle">1000</text>
<text transform="translate(400.8,443.6) scale(0.89,1)" font-size="12" text-anchor="middle">Time (ps)</text>
<text transform="translate(271.6,330.85) rotate(-90) scale(1,0.93)" font-size="10.85" text-anchor="middle">Number of particles</text>
<rect x="34.5" y="484.3" width="214.7" height="173.1" fill="none" stroke="#222" stroke-width="1.1"/>
<line x1="34.5" y1="657.4" x2="37.5" y2="657.4" stroke="#222" stroke-width="1"/>
<text transform="translate(30.5,660.8) scale(0.8,1)" font-size="11.4" text-anchor="end">0</text>
<line x1="34.5" y1="649.87" x2="36.1" y2="649.87" stroke="#222" stroke-width="1"/>
<line x1="34.5" y1="642.35" x2="37.5" y2="642.35" stroke="#222" stroke-width="1"/>
<text transform="translate(30.5,645.75) scale(0.8,1)" font-size="11.4" text-anchor="end">20</text>
<line x1="34.5" y1="634.82" x2="36.1" y2="634.82" stroke="#222" stroke-width="1"/>
<line x1="34.5" y1="627.3" x2="37.5" y2="627.3" stroke="#222" stroke-width="1"/>
<text transform="translate(30.5,630.7) scale(0.8,1)" font-size="11.4" text-anchor="end">40</text>
<line x1="34.5" y1="619.77" x2="36.1" y2="619.77" stroke="#222" stroke-width="1"/>
<line x1="34.5" y1="612.24" x2="37.5" y2="612.24" stroke="#222" stroke-width="1"/>
<text transform="translate(30.5,615.64) scale(0.8,1)" font-size="11.4" text-anchor="end">60</text>
<line x1="34.5" y1="604.72" x2="36.1" y2="604.72" stroke="#222" stroke-width="1"/>
<line x1="34.5" y1="597.19" x2="37.5" y2="597.19" stroke="#222" stroke-width="1"/>
<text transform="translate(30.5,600.59) scale(0.8,1)" font-size="11.4" text-anchor="end">80</text>
<line x1="34.5" y1="589.67" x2="36.1" y2="589.67" stroke="#222" stroke-width="1"/>
<line x1="34.5" y1="582.14" x2="37.5" y2="582.14" stroke="#222" stroke-width="1"/>
<text transform="translate(30.5,585.54) scale(0.8,1)" font-size="11.4" text-anchor="end">100</text>
<line x1="34.5" y1="574.61" x2="36.1" y2="574.61" stroke="#222" stroke-width="1"/>
<line x1="34.5" y1="567.09" x2="37.5" y2="567.09" stroke="#222" stroke-width="1"/>
<text transform="translate(30.5,570.49) scale(0.8,1)" font-size="11.4" text-anchor="end">120</text>
<line x1="34.5" y1="559.56" x2="36.1" y2="559.56" stroke="#222" stroke-width="1"/>
<line x1="34.5" y1="552.03" x2="37.5" y2="552.03" stroke="#222" stroke-width="1"/>
<text transform="translate(30.5,555.43) scale(0.8,1)" font-size="11.4" text-anchor="end">140</text>
<line x1="34.5" y1="544.51" x2="36.1" y2="544.51" stroke="#222" stroke-width="1"/>
<line x1="34.5" y1="536.98" x2="37.5" y2="536.98" stroke="#222" stroke-width="1"/>
<text transform="translate(30.5,540.38) scale(0.8,1)" font-size="11.4" text-anchor="end">160</text>
<line x1="34.5" y1="529.46" x2="36.1" y2="529.46" stroke="#222" stroke-width="1"/>
<line x1="34.5" y1="521.93" x2="37.5" y2="521.93" stroke="#222" stroke-width="1"/>
<text transform="translate(30.5,525.33) scale(0.8,1)" font-size="11.4" text-anchor="end">180</text>
<line x1="34.5" y1="514.4" x2="36.1" y2="514.4" stroke="#222" stroke-width="1"/>
<line x1="34.5" y1="506.88" x2="37.5" y2="506.88" stroke="#222" stroke-width="1"/>
<text transform="translate(30.5,510.28) scale(0.8,1)" font-size="11.4" text-anchor="end">200</text>
<line x1="34.5" y1="499.35" x2="36.1" y2="499.35" stroke="#222" stroke-width="1"/>
<line x1="34.5" y1="491.83" x2="37.5" y2="491.83" stroke="#222" stroke-width="1"/>
<text transform="translate(30.5,495.23) scale(0.8,1)" font-size="11.4" text-anchor="end">220</text>
<line x1="34.5" y1="484.3" x2="36.1" y2="484.3" stroke="#222" stroke-width="1"/>
<line x1="34.5" y1="657.4" x2="34.5" y2="654.4" stroke="#222" stroke-width="1"/>
<text transform="translate(34.5,669.1) scale(0.8,1)" font-size="11.4" text-anchor="middle">0</text>
<line x1="45.23" y1="657.4" x2="45.23" y2="655.8" stroke="#222" stroke-width="1"/>
<line x1="55.97" y1="657.4" x2="55.97" y2="654.4" stroke="#222" stroke-width="1"/>
<text transform="translate(55.97,669.1) scale(0.8,1)" font-size="11.4" text-anchor="middle">100</text>
<line x1="66.7" y1="657.4" x2="66.7" y2="655.8" stroke="#222" stroke-width="1"/>
<line x1="77.44" y1="657.4" x2="77.44" y2="654.4" stroke="#222" stroke-width="1"/>
<text transform="translate(77.44,669.1) scale(0.8,1)" font-size="11.4" text-anchor="middle">200</text>
<line x1="88.17" y1="657.4" x2="88.17" y2="655.8" stroke="#222" stroke-width="1"/>
<line x1="98.91" y1="657.4" x2="98.91" y2="654.4" stroke="#222" stroke-width="1"/>
<text transform="translate(98.91,669.1) scale(0.8,1)" font-size="11.4" text-anchor="middle">300</text>
<line x1="109.64" y1="657.4" x2="109.64" y2="655.8" stroke="#222" stroke-width="1"/>
<line x1="120.38" y1="657.4" x2="120.38" y2="654.4" stroke="#222" stroke-width="1"/>
<text transform="translate(120.38,669.1) scale(0.8,1)" font-size="11.4" text-anchor="middle">400</text>
<line x1="131.12" y1="657.4" x2="131.12" y2="655.8" stroke="#222" stroke-width="1"/>
<line x1="141.85" y1="657.4" x2="141.85" y2="654.4" stroke="#222" stroke-width="1"/>
<text transform="translate(141.85,669.1) scale(0.8,1)" font-size="11.4" text-anchor="middle">500</text>
<line x1="152.58" y1="657.4" x2="152.58" y2="655.8" stroke="#222" stroke-width="1"/>
<line x1="163.32" y1="657.4" x2="163.32" y2="654.4" stroke="#222" stroke-width="1"/>
<text transform="translate(163.32,669.1) scale(0.8,1)" font-size="11.4" text-anchor="middle">600</text>
<line x1="174.06" y1="657.4" x2="174.06" y2="655.8" stroke="#222" stroke-width="1"/>
<line x1="184.79" y1="657.4" x2="184.79" y2="654.4" stroke="#222" stroke-width="1"/>
<text transform="translate(184.79,669.1) scale(0.8,1)" font-size="11.4" text-anchor="middle">700</text>
<line x1="195.53" y1="657.4" x2="195.53" y2="655.8" stroke="#222" stroke-width="1"/>
<line x1="206.26" y1="657.4" x2="206.26" y2="654.4" stroke="#222" stroke-width="1"/>
<text transform="translate(206.26,669.1) scale(0.8,1)" font-size="11.4" text-anchor="middle">800</text>
<line x1="217" y1="657.4" x2="217" y2="655.8" stroke="#222" stroke-width="1"/>
<line x1="227.73" y1="657.4" x2="227.73" y2="654.4" stroke="#222" stroke-width="1"/>
<text transform="translate(227.73,669.1) scale(0.8,1)" font-size="11.4" text-anchor="middle">900</text>
<line x1="238.47" y1="657.4" x2="238.47" y2="655.8" stroke="#222" stroke-width="1"/>
<line x1="249.2" y1="657.4" x2="249.2" y2="654.4" stroke="#222" stroke-width="1"/>
<text transform="translate(249.2,669.1) scale(0.8,1)" font-size="11.4" text-anchor="middle">1000</text>
<text transform="translate(141.85,682.6) scale(0.89,1)" font-size="12" text-anchor="middle">Time (ps)</text>
<text transform="translate(9.5,570.85) rotate(-90) scale(1,0.93)" font-size="10.85" text-anchor="middle">Number of particles</text>
<rect x="291.8" y="484.4" width="216.7" height="173.8" fill="none" stroke="#222" stroke-width="1.1"/>
<line x1="291.8" y1="658.2" x2="294.8" y2="658.2" stroke="#222" stroke-width="1"/>
<text transform="translate(287.8,661.6) scale(0.8,1)" font-size="11.4" text-anchor="end">0</text>
<line x1="291.8" y1="650.3" x2="293.4" y2="650.3" stroke="#222" stroke-width="1"/>
<line x1="291.8" y1="642.4" x2="294.8" y2="642.4" stroke="#222" stroke-width="1"/>
<text transform="translate(287.8,645.8) scale(0.8,1)" font-size="11.4" text-anchor="end">2</text>
<line x1="291.8" y1="634.5" x2="293.4" y2="634.5" stroke="#222" stroke-width="1"/>
<line x1="291.8" y1="626.6" x2="294.8" y2="626.6" stroke="#222" stroke-width="1"/>
<text transform="translate(287.8,630) scale(0.8,1)" font-size="11.4" text-anchor="end">4</text>
<line x1="291.8" y1="618.7" x2="293.4" y2="618.7" stroke="#222" stroke-width="1"/>
<line x1="291.8" y1="610.8" x2="294.8" y2="610.8" stroke="#222" stroke-width="1"/>
<text transform="translate(287.8,614.2) scale(0.8,1)" font-size="11.4" text-anchor="end">6</text>
<line x1="291.8" y1="602.9" x2="293.4" y2="602.9" stroke="#222" stroke-width="1"/>
<line x1="291.8" y1="595" x2="294.8" y2="595" stroke="#222" stroke-width="1"/>
<text transform="translate(287.8,598.4) scale(0.8,1)" font-size="11.4" text-anchor="end">8</text>
<line x1="291.8" y1="587.1" x2="293.4" y2="587.1" stroke="#222" stroke-width="1"/>
<line x1="291.8" y1="579.2" x2="294.8" y2="579.2" stroke="#222" stroke-width="1"/>
<text transform="translate(287.8,582.6) scale(0.8,1)" font-size="11.4" text-anchor="end">10</text>
<line x1="291.8" y1="571.3" x2="293.4" y2="571.3" stroke="#222" stroke-width="1"/>
<line x1="291.8" y1="563.4" x2="294.8" y2="563.4" stroke="#222" stroke-width="1"/>
<text transform="translate(287.8,566.8) scale(0.8,1)" font-size="11.4" text-anchor="end">12</text>
<line x1="291.8" y1="555.5" x2="293.4" y2="555.5" stroke="#222" stroke-width="1"/>
<line x1="291.8" y1="547.6" x2="294.8" y2="547.6" stroke="#222" stroke-width="1"/>
<text transform="translate(287.8,551) scale(0.8,1)" font-size="11.4" text-anchor="end">14</text>
<line x1="291.8" y1="539.7" x2="293.4" y2="539.7" stroke="#222" stroke-width="1"/>
<line x1="291.8" y1="531.8" x2="294.8" y2="531.8" stroke="#222" stroke-width="1"/>
<text transform="translate(287.8,535.2) scale(0.8,1)" font-size="11.4" text-anchor="end">16</text>
<line x1="291.8" y1="523.9" x2="293.4" y2="523.9" stroke="#222" stroke-width="1"/>
<line x1="291.8" y1="516" x2="294.8" y2="516" stroke="#222" stroke-width="1"/>
<text transform="translate(287.8,519.4) scale(0.8,1)" font-size="11.4" text-anchor="end">18</text>
<line x1="291.8" y1="508.1" x2="293.4" y2="508.1" stroke="#222" stroke-width="1"/>
<line x1="291.8" y1="500.2" x2="294.8" y2="500.2" stroke="#222" stroke-width="1"/>
<text transform="translate(287.8,503.6) scale(0.8,1)" font-size="11.4" text-anchor="end">20</text>
<line x1="291.8" y1="492.3" x2="293.4" y2="492.3" stroke="#222" stroke-width="1"/>
<line x1="291.8" y1="484.4" x2="294.8" y2="484.4" stroke="#222" stroke-width="1"/>
<text transform="translate(287.8,487.8) scale(0.8,1)" font-size="11.4" text-anchor="end">22</text>
<line x1="291.8" y1="658.2" x2="291.8" y2="655.2" stroke="#222" stroke-width="1"/>
<text transform="translate(291.8,669.9) scale(0.8,1)" font-size="11.4" text-anchor="middle">0</text>
<line x1="302.63" y1="658.2" x2="302.63" y2="656.6" stroke="#222" stroke-width="1"/>
<line x1="313.47" y1="658.2" x2="313.47" y2="655.2" stroke="#222" stroke-width="1"/>
<text transform="translate(313.47,669.9) scale(0.8,1)" font-size="11.4" text-anchor="middle">100</text>
<line x1="324.31" y1="658.2" x2="324.31" y2="656.6" stroke="#222" stroke-width="1"/>
<line x1="335.14" y1="658.2" x2="335.14" y2="655.2" stroke="#222" stroke-width="1"/>
<text transform="translate(335.14,669.9) scale(0.8,1)" font-size="11.4" text-anchor="middle">200</text>
<line x1="345.98" y1="658.2" x2="345.98" y2="656.6" stroke="#222" stroke-width="1"/>
<line x1="356.81" y1="658.2" x2="356.81" y2="655.2" stroke="#222" stroke-width="1"/>
<text transform="translate(356.81,669.9) scale(0.8,1)" font-size="11.4" text-anchor="middle">300</text>
<line x1="367.64" y1="658.2" x2="367.64" y2="656.6" stroke="#222" stroke-width="1"/>
<line x1="378.48" y1="658.2" x2="378.48" y2="655.2" stroke="#222" stroke-width="1"/>
<text transform="translate(378.48,669.9) scale(0.8,1)" font-size="11.4" text-anchor="middle">400</text>
<line x1="389.31" y1="658.2" x2="389.31" y2="656.6" stroke="#222" stroke-width="1"/>
<line x1="400.15" y1="658.2" x2="400.15" y2="655.2" stroke="#222" stroke-width="1"/>
<text transform="translate(400.15,669.9) scale(0.8,1)" font-size="11.4" text-anchor="middle">500</text>
<line x1="410.99" y1="658.2" x2="410.99" y2="656.6" stroke="#222" stroke-width="1"/>
<line x1="421.82" y1="658.2" x2="421.82" y2="655.2" stroke="#222" stroke-width="1"/>
<text transform="translate(421.82,669.9) scale(0.8,1)" font-size="11.4" text-anchor="middle">600</text>
<line x1="432.65" y1="658.2" x2="432.65" y2="656.6" stroke="#222" stroke-width="1"/>
<line x1="443.49" y1="658.2" x2="443.49" y2="655.2" stroke="#222" stroke-width="1"/>
<text transform="translate(443.49,669.9) scale(0.8,1)" font-size="11.4" text-anchor="middle">700</text>
<line x1="454.33" y1="658.2" x2="454.33" y2="656.6" stroke="#222" stroke-width="1"/>
<line x1="465.16" y1="658.2" x2="465.16" y2="655.2" stroke="#222" stroke-width="1"/>
<text transform="translate(465.16,669.9) scale(0.8,1)" font-size="11.4" text-anchor="middle">800</text>
<line x1="476" y1="658.2" x2="476" y2="656.6" stroke="#222" stroke-width="1"/>
<line x1="486.83" y1="658.2" x2="486.83" y2="655.2" stroke="#222" stroke-width="1"/>
<text transform="translate(486.83,669.9) scale(0.8,1)" font-size="11.4" text-anchor="middle">900</text>
<line x1="497.67" y1="658.2" x2="497.67" y2="656.6" stroke="#222" stroke-width="1"/>
<line x1="508.5" y1="658.2" x2="508.5" y2="655.2" stroke="#222" stroke-width="1"/>
<text transform="translate(508.5,669.9) scale(0.8,1)" font-size="11.4" text-anchor="middle">1000</text>
<text transform="translate(400.15,683.4) scale(0.89,1)" font-size="12" text-anchor="middle">Time (ps)</text>
<text transform="translate(271.6,571.3) rotate(-90) scale(1,0.93)" font-size="10.85" text-anchor="middle">Number of particles</text>
<line x1="41.3" y1="12.2" x2="63.3" y2="12.2" stroke="#424242" stroke-width="1.7"/>
<text transform="translate(65.5,15.85) scale(0.95,1)" font-size="7.8" text-anchor="start" stroke-width="0.32">CF<tspan font-size="5" dy="0.9">3</tspan></text>
<line x1="41.3" y1="24.38" x2="63.3" y2="24.38" stroke="#e0383c" stroke-width="1.7"/>
<text transform="translate(65.5,28.03) scale(0.95,1)" font-size="7.8" text-anchor="start" stroke-width="0.32">CF<tspan font-size="5" dy="0.9">2</tspan></text>
<line x1="41.3" y1="36.56" x2="63.3" y2="36.56" stroke="#1e5ecc" stroke-width="1.7"/>
<text transform="translate(65.5,40.21) scale(0.95,1)" font-size="7.8" text-anchor="start" stroke-width="0.32">CF</text>
<line x1="41.3" y1="48.74" x2="63.3" y2="48.74" stroke="#2a9e5a" stroke-width="1.7"/>
<text transform="translate(65.5,52.39) scale(0.95,1)" font-size="7.8" text-anchor="start" stroke-width="0.32">F</text>
<line x1="41.3" y1="60.92" x2="63.3" y2="60.92" stroke="#a875e6" stroke-width="1.7"/>
<text transform="translate(65.5,64.57) scale(0.95,1)" font-size="7.8" text-anchor="start" stroke-width="0.32">C<tspan font-size="5" dy="0.9">3</tspan><tspan dy="-0.9">F</tspan><tspan font-size="5" dy="0.9">6</tspan><tspan dy="-0.9">O</tspan></text>
<line x1="41.3" y1="73.1" x2="63.3" y2="73.1" stroke="#c8940c" stroke-width="1.7"/>
<text transform="translate(65.5,76.75) scale(0.95,1)" font-size="7.8" text-anchor="start" stroke-width="0.32">C<tspan font-size="5" dy="0.9">3</tspan><tspan dy="-0.9">F</tspan><tspan font-size="5" dy="0.9">7</tspan></text>
<line x1="41.3" y1="85.28" x2="63.3" y2="85.28" stroke="#22c6c6" stroke-width="1.7"/>
<text transform="translate(65.5,88.93) scale(0.95,1)" font-size="7.8" text-anchor="start" stroke-width="0.32">CO</text>
<line x1="41.3" y1="97.46" x2="63.3" y2="97.46" stroke="#7a4848" stroke-width="1.7"/>
<text transform="translate(65.5,101.11) scale(0.95,1)" font-size="7.8" text-anchor="start" stroke-width="0.32">O</text>
<line x1="41.4" y1="253.5" x2="62.8" y2="253.5" stroke="#424242" stroke-width="1.7"/>
<text transform="translate(65,257.15) scale(0.95,1)" font-size="7.8" text-anchor="start" stroke-width="0.32">CF<tspan font-size="5" dy="0.9">3</tspan></text>
<line x1="41.4" y1="265.6" x2="62.8" y2="265.6" stroke="#e0383c" stroke-width="1.7"/>
<text transform="translate(65,269.25) scale(0.95,1)" font-size="7.8" text-anchor="start" stroke-width="0.32">CF<tspan font-size="5" dy="0.9">2</tspan></text>
<line x1="41.4" y1="277.7" x2="62.8" y2="277.7" stroke="#1e5ecc" stroke-width="1.7"/>
<text transform="translate(65,281.35) scale(0.95,1)" font-size="7.8" text-anchor="start" stroke-width="0.32">CF</text>
<line x1="41.4" y1="289.8" x2="62.8" y2="289.8" stroke="#2a9e5a" stroke-width="1.7"/>
<text transform="translate(65,293.45) scale(0.95,1)" font-size="7.8" text-anchor="start" stroke-width="0.32">F</text>
<line x1="41.4" y1="301.9" x2="62.8" y2="301.9" stroke="#a875e6" stroke-width="1.7"/>
<text transform="translate(65,305.55) scale(0.95,1)" font-size="7.8" text-anchor="start" stroke-width="0.32">C<tspan font-size="5" dy="0.9">3</tspan><tspan dy="-0.9">F</tspan><tspan font-size="5" dy="0.9">6</tspan><tspan dy="-0.9">O</tspan></text>
<line x1="41.4" y1="314" x2="62.8" y2="314" stroke="#c8940c" stroke-width="1.7"/>
<text transform="translate(65,317.65) scale(0.95,1)" font-size="7.8" text-anchor="start" stroke-width="0.32">C<tspan font-size="5" dy="0.9">3</tspan><tspan dy="-0.9">F</tspan><tspan font-size="5" dy="0.9">7</tspan></text>
<line x1="41.4" y1="326.1" x2="62.8" y2="326.1" stroke="#22c6c6" stroke-width="1.7"/>
<text transform="translate(65,329.75) scale(0.95,1)" font-size="7.8" text-anchor="start" stroke-width="0.32">CO</text>
<line x1="41.4" y1="338.2" x2="62.8" y2="338.2" stroke="#7a4848" stroke-width="1.7"/>
<text transform="translate(65,341.85) scale(0.95,1)" font-size="7.8" text-anchor="start" stroke-width="0.32">O</text>
<line x1="42.8" y1="492" x2="64.2" y2="492" stroke="#424242" stroke-width="1.7"/>
<text transform="translate(66.4,495.65) scale(0.95,1)" font-size="7.8" text-anchor="start" stroke-width="0.32">CF<tspan font-size="5" dy="0.9">3</tspan></text>
<line x1="42.8" y1="504.21" x2="64.2" y2="504.21" stroke="#e0383c" stroke-width="1.7"/>
<text transform="translate(66.4,507.86) scale(0.95,1)" font-size="7.8" text-anchor="start" stroke-width="0.32">CF<tspan font-size="5" dy="0.9">2</tspan></text>
<line x1="42.8" y1="516.42" x2="64.2" y2="516.42" stroke="#1e5ecc" stroke-width="1.7"/>
<text transform="translate(66.4,520.07) scale(0.95,1)" font-size="7.8" text-anchor="start" stroke-width="0.32">CF</text>
<line x1="42.8" y1="528.63" x2="64.2" y2="528.63" stroke="#2a9e5a" stroke-width="1.7"/>
<text transform="translate(66.4,532.28) scale(0.95,1)" font-size="7.8" text-anchor="start" stroke-width="0.32">F</text>
<line x1="42.8" y1="540.84" x2="64.2" y2="540.84" stroke="#a875e6" stroke-width="1.7"/>
<text transform="translate(66.4,544.49) scale(0.95,1)" font-size="7.8" text-anchor="start" stroke-width="0.32">C<tspan font-size="5" dy="0.9">3</tspan><tspan dy="-0.9">F</tspan><tspan font-size="5" dy="0.9">6</tspan><tspan dy="-0.9">O</tspan></text>
<line x1="42.8" y1="553.05" x2="64.2" y2="553.05" stroke="#c8940c" stroke-width="1.7"/>
<text transform="translate(66.4,556.7) scale(0.95,1)" font-size="7.8" text-anchor="start" stroke-width="0.32">C<tspan font-size="5" dy="0.9">3</tspan><tspan dy="-0.9">F</tspan><tspan font-size="5" dy="0.9">7</tspan></text>
<line x1="42.8" y1="565.26" x2="64.2" y2="565.26" stroke="#22c6c6" stroke-width="1.7"/>
<text transform="translate(66.4,568.91) scale(0.95,1)" font-size="7.8" text-anchor="start" stroke-width="0.32">CO</text>
<line x1="42.8" y1="577.47" x2="64.2" y2="577.47" stroke="#7a4848" stroke-width="1.7"/>
<text transform="translate(66.4,581.12) scale(0.95,1)" font-size="7.8" text-anchor="start" stroke-width="0.32">O</text>
<line x1="296.5" y1="13.5" x2="318.5" y2="13.5" stroke="#4a4a4a" stroke-width="1.3"/>
<text transform="translate(320.7,17.15) scale(0.95,1)" font-size="7.8" text-anchor="start" stroke-width="0.32">C<tspan font-size="5" dy="0.9">2</tspan><tspan dy="-0.9">F</tspan><tspan font-size="5" dy="0.9">5</tspan></text>
<line x1="296.5" y1="25.71" x2="318.5" y2="25.71" stroke="#e04048" stroke-width="1.3"/>
<text transform="translate(320.7,29.36) scale(0.95,1)" font-size="7.8" text-anchor="start" stroke-width="0.32">C<tspan font-size="5" dy="0.9">2</tspan><tspan dy="-0.9">F</tspan><tspan font-size="5" dy="0.9">2</tspan></text>
<line x1="296.5" y1="37.92" x2="318.5" y2="37.92" stroke="#3a66c8" stroke-width="1.3"/>
<text transform="translate(320.7,41.57) scale(0.95,1)" font-size="7.8" text-anchor="start" stroke-width="0.32">C<tspan font-size="5" dy="0.9">2</tspan><tspan dy="-0.9">O</tspan></text>
<line x1="296.5" y1="50.13" x2="318.5" y2="50.13" stroke="#2aa05a" stroke-width="1.3"/>
<text transform="translate(320.7,53.78) scale(0.95,1)" font-size="7.8" text-anchor="start" stroke-width="0.32">C<tspan font-size="5" dy="0.9">2</tspan></text>
<line x1="296.5" y1="62.34" x2="318.5" y2="62.34" stroke="#b07ee8" stroke-width="1.3"/>
<text transform="translate(320.7,65.99) scale(0.95,1)" font-size="7.8" text-anchor="start" stroke-width="0.32">C<tspan font-size="5" dy="0.9">3</tspan><tspan dy="-0.9">F</tspan><tspan font-size="5" dy="0.9">7</tspan><tspan dy="-0.9">O</tspan></text>
<line x1="296.5" y1="74.55" x2="318.5" y2="74.55" stroke="#c8a010" stroke-width="1.3"/>
<text transform="translate(320.7,78.2) scale(0.95,1)" font-size="7.8" text-anchor="start" stroke-width="0.32">CF<tspan font-size="5" dy="0.9">4</tspan></text>
<line x1="296.5" y1="86.76" x2="318.5" y2="86.76" stroke="#22c8c8" stroke-width="1.3"/>
<text transform="translate(320.7,90.41) scale(0.95,1)" font-size="7.8" text-anchor="start" stroke-width="0.32">C<tspan font-size="5" dy="0.9">2</tspan><tspan dy="-0.9">F</tspan><tspan font-size="5" dy="0.9">4</tspan></text>
<line x1="296.5" y1="98.97" x2="318.5" y2="98.97" stroke="#7a3a3a" stroke-width="1.3"/>
<text transform="translate(320.7,102.62) scale(0.95,1)" font-size="7.8" text-anchor="start" stroke-width="0.32">COF<tspan font-size="5" dy="0.9">2</tspan></text>
<line x1="299.8" y1="251.6" x2="322.1" y2="251.6" stroke="#4a4a4a" stroke-width="1.3"/>
<text transform="translate(324.3,255.25) scale(0.95,1)" font-size="7.8" text-anchor="start" stroke-width="0.32">C<tspan font-size="5" dy="0.9">2</tspan><tspan dy="-0.9">F</tspan><tspan font-size="5" dy="0.9">5</tspan></text>
<line x1="299.8" y1="263.9" x2="322.1" y2="263.9" stroke="#e04050" stroke-width="1.3"/>
<text transform="translate(324.3,267.55) scale(0.95,1)" font-size="7.8" text-anchor="start" stroke-width="0.32">C<tspan font-size="5" dy="0.9">2</tspan><tspan dy="-0.9">F</tspan><tspan font-size="5" dy="0.9">2</tspan></text>
<line x1="299.8" y1="276.2" x2="322.1" y2="276.2" stroke="#2a62c8" stroke-width="1.3"/>
<text transform="translate(324.3,279.85) scale(0.95,1)" font-size="7.8" text-anchor="start" stroke-width="0.32">C<tspan font-size="5" dy="0.9">2</tspan><tspan dy="-0.9">O</tspan></text>
<line x1="299.8" y1="288.5" x2="322.1" y2="288.5" stroke="#2aa05a" stroke-width="1.3"/>
<text transform="translate(324.3,292.15) scale(0.95,1)" font-size="7.8" text-anchor="start" stroke-width="0.32">C<tspan font-size="5" dy="0.9">2</tspan></text>
<line x1="299.8" y1="300.8" x2="322.1" y2="300.8" stroke="#b070e0" stroke-width="1.3"/>
<text transform="translate(324.3,304.45) scale(0.95,1)" font-size="7.8" text-anchor="start" stroke-width="0.32">C</text>
<line x1="299.8" y1="313.1" x2="322.1" y2="313.1" stroke="#d4a010" stroke-width="1.3"/>
<text transform="translate(324.3,316.75) scale(0.95,1)" font-size="7.8" text-anchor="start" stroke-width="0.32">C<tspan font-size="5" dy="0.9">3</tspan><tspan dy="-0.9">F</tspan><tspan font-size="5" dy="0.9">7</tspan><tspan dy="-0.9">O</tspan></text>
<line x1="299.8" y1="325.4" x2="322.1" y2="325.4" stroke="#20c8d0" stroke-width="1.3"/>
<text transform="translate(324.3,329.05) scale(0.95,1)" font-size="7.8" text-anchor="start" stroke-width="0.32">C<tspan font-size="5" dy="0.9">4</tspan><tspan dy="-0.9">F</tspan><tspan font-size="5" dy="0.9">7</tspan><tspan dy="-0.9">O</tspan></text>
<line x1="299.8" y1="337.7" x2="322.1" y2="337.7" stroke="#7a4050" stroke-width="1.3"/>
<text transform="translate(324.3,341.35) scale(0.95,1)" font-size="7.8" text-anchor="start" stroke-width="0.32">CF<tspan font-size="5" dy="0.9">4</tspan></text>
<line x1="299.8" y1="350" x2="322.1" y2="350" stroke="#9a9a0a" stroke-width="1.3"/>
<text transform="translate(324.3,353.65) scale(0.95,1)" font-size="7.8" text-anchor="start" stroke-width="0.32">C<tspan font-size="5" dy="0.9">2</tspan><tspan dy="-0.9">F</tspan><tspan font-size="5" dy="0.9">4</tspan></text>
<line x1="299.8" y1="362.3" x2="322.1" y2="362.3" stroke="#ff6a10" stroke-width="1.3"/>
<text transform="translate(324.3,365.95) scale(0.95,1)" font-size="7.8" text-anchor="start" stroke-width="0.32">COF<tspan font-size="5" dy="0.9">2</tspan></text>
<line x1="299.3" y1="492.4" x2="321.7" y2="492.4" stroke="#4a4a4a" stroke-width="1.3"/>
<text transform="translate(323.9,496.05) scale(0.95,1)" font-size="7.8" text-anchor="start" stroke-width="0.32">C<tspan font-size="5" dy="0.9">2</tspan><tspan dy="-0.9">F</tspan><tspan font-size="5" dy="0.9">5</tspan></text>
<line x1="299.3" y1="504.6" x2="321.7" y2="504.6" stroke="#e04050" stroke-width="1.3"/>
<text transform="translate(323.9,508.25) scale(0.95,1)" font-size="7.8" text-anchor="start" stroke-width="0.32">C<tspan font-size="5" dy="0.9">2</tspan><tspan dy="-0.9">F</tspan><tspan font-size="5" dy="0.9">2</tspan></text>
<line x1="299.3" y1="516.8" x2="321.7" y2="516.8" stroke="#2a62c8" stroke-width="1.3"/>
<text transform="translate(323.9,520.45) scale(0.95,1)" font-size="7.8" text-anchor="start" stroke-width="0.32">C<tspan font-size="5" dy="0.9">2</tspan><tspan dy="-0.9">O</tspan></text>
<line x1="299.3" y1="529" x2="321.7" y2="529" stroke="#2aa05a" stroke-width="1.3"/>
<text transform="translate(323.9,532.65) scale(0.95,1)" font-size="7.8" text-anchor="start" stroke-width="0.32">C<tspan font-size="5" dy="0.9">2</tspan></text>
<line x1="299.3" y1="541.2" x2="321.7" y2="541.2" stroke="#b070e0" stroke-width="1.3"/>
<text transform="translate(323.9,544.85) scale(0.95,1)" font-size="7.8" text-anchor="start" stroke-width="0.32">C</text>
<line x1="299.3" y1="553.4" x2="321.7" y2="553.4" stroke="#d4a010" stroke-width="1.3"/>
<text transform="translate(323.9,557.05) scale(0.95,1)" font-size="7.8" text-anchor="start" stroke-width="0.32">C<tspan font-size="5" dy="0.9">3</tspan><tspan dy="-0.9">F</tspan><tspan font-size="5" dy="0.9">7</tspan><tspan dy="-0.9">O</tspan></text>
<line x1="299.3" y1="565.6" x2="321.7" y2="565.6" stroke="#20c8d0" stroke-width="1.3"/>
<text transform="translate(323.9,569.25) scale(0.95,1)" font-size="7.8" text-anchor="start" stroke-width="0.32">C<tspan font-size="5" dy="0.9">4</tspan><tspan dy="-0.9">F</tspan><tspan font-size="5" dy="0.9">7</tspan><tspan dy="-0.9">O</tspan></text>
<line x1="299.3" y1="577.8" x2="321.7" y2="577.8" stroke="#7a4050" stroke-width="1.3"/>
<text transform="translate(323.9,581.45) scale(0.95,1)" font-size="7.8" text-anchor="start" stroke-width="0.32">CF<tspan font-size="5" dy="0.9">4</tspan></text>
<line x1="299.3" y1="590" x2="321.7" y2="590" stroke="#9a9a0a" stroke-width="1.3"/>
<text transform="translate(323.9,593.65) scale(0.95,1)" font-size="7.8" text-anchor="start" stroke-width="0.32">C<tspan font-size="5" dy="0.9">2</tspan><tspan dy="-0.9">F</tspan><tspan font-size="5" dy="0.9">4</tspan></text>
<line x1="299.3" y1="602.2" x2="321.7" y2="602.2" stroke="#ff6a10" stroke-width="1.3"/>
<text transform="translate(323.9,605.85) scale(0.95,1)" font-size="7.8" text-anchor="start" stroke-width="0.32">COF<tspan font-size="5" dy="0.9">2</tspan></text>
<text x="258" y="228.6" font-size="12" text-anchor="middle">(a) 0%</text>
<text x="260" y="467.8" font-size="12" text-anchor="middle">(b) 1%</text>
<text x="260" y="706.2" font-size="12" text-anchor="middle">(c) 3%</text>
</svg>
</body></html>
